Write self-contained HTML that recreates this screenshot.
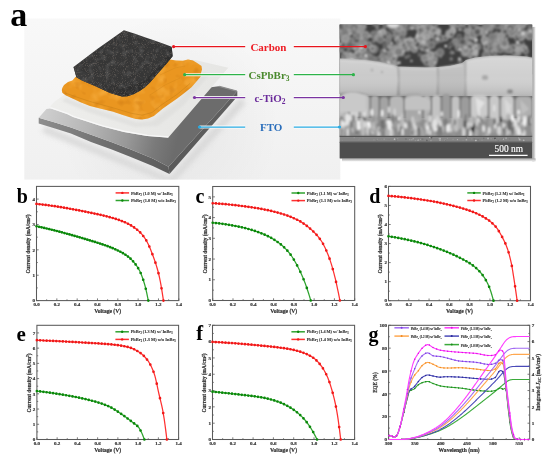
<!DOCTYPE html>
<html><head><meta charset="utf-8"><style>html,body{margin:0;padding:0;background:#fff}svg{display:block;filter:blur(0.3px)}</style></head>
<body><svg width="550" height="460" viewBox="0 0 550 460" font-family="'Liberation Serif', serif" font-weight="bold">
<rect width="550" height="460" fill="#fff"/>
<defs>
<linearGradient id="bg" x1="0" y1="0" x2="0" y2="1"><stop offset="0" stop-color="#f8f8f8"/><stop offset="0.5" stop-color="#f4f4f4"/><stop offset="1" stop-color="#f0f0f0"/></linearGradient><radialGradient id="bgd" gradientUnits="userSpaceOnUse" cx="170" cy="125" r="110"><stop offset="0" stop-color="#000" stop-opacity="0.05"/><stop offset="1" stop-color="#000" stop-opacity="0"/></radialGradient>
<linearGradient id="slabtop" gradientUnits="userSpaceOnUse" x1="40" y1="115" x2="175" y2="150"><stop offset="0" stop-color="#d0d0d0"/><stop offset="0.35" stop-color="#b6b6b6"/><stop offset="0.65" stop-color="#989898"/><stop offset="0.85" stop-color="#7a7a7a"/><stop offset="1" stop-color="#6c6c6c"/></linearGradient>
<linearGradient id="slabtop2" gradientUnits="userSpaceOnUse" x1="170" y1="150" x2="235" y2="90"><stop offset="0" stop-color="#707070"/><stop offset="1" stop-color="#777777"/></linearGradient>
<linearGradient id="slabfront" gradientUnits="userSpaceOnUse" x1="38" y1="120" x2="168" y2="170"><stop offset="0" stop-color="#8e8e8e"/><stop offset="0.5" stop-color="#707070"/><stop offset="1" stop-color="#5c5c5c"/></linearGradient>
<linearGradient id="slabright" gradientUnits="userSpaceOnUse" x1="168" y1="170" x2="237" y2="93"><stop offset="0" stop-color="#5a5a5a"/><stop offset="1" stop-color="#606060"/></linearGradient>
<linearGradient id="white" gradientUnits="userSpaceOnUse" x1="60" y1="90" x2="200" y2="140"><stop offset="0" stop-color="#eeeeec"/><stop offset="0.6" stop-color="#e9e9e7"/><stop offset="1" stop-color="#e6e6e4"/></linearGradient>
<linearGradient id="cfront" gradientUnits="userSpaceOnUse" x1="75" y1="70" x2="125" y2="97"><stop offset="0" stop-color="#3e3e3e"/><stop offset="1" stop-color="#2e2e2e"/></linearGradient>
<filter id="cnoise" x="0" y="0" width="1" height="1" color-interpolation-filters="sRGB"><feTurbulence type="fractalNoise" baseFrequency="1.1" numOctaves="1" seed="3" result="n"/><feColorMatrix in="n" type="matrix" values="0 0 0 0 0.55  0 0 0 0 0.5  0 0 0 0 0.46  5 0 0 0 -2.7" result="m"/><feComposite in="m" in2="SourceGraphic" operator="in"/></filter>
<filter id="cnoise2" x="0" y="0" width="1" height="1" color-interpolation-filters="sRGB"><feTurbulence type="fractalNoise" baseFrequency="0.18" numOctaves="2" seed="9" result="n"/><feColorMatrix in="n" type="matrix" values="0 0 0 0 0.5  0 0 0 0 0.5  0 0 0 0 0.5  1.8 0 0 0 -0.85" result="m"/><feComposite in="m" in2="SourceGraphic" operator="in"/></filter>
<filter id="ohi" x="0" y="0" width="1" height="1" color-interpolation-filters="sRGB"><feTurbulence type="fractalNoise" baseFrequency="0.09" numOctaves="2" seed="5" result="n"/><feColorMatrix in="n" type="matrix" values="0 0 0 0 1  0 0 0 0 0.74  0 0 0 0 0.32  1.3 0 0 0 -0.62" result="m"/><feComposite in="m" in2="SourceGraphic" operator="in"/></filter>
<filter id="olo" x="0" y="0" width="1" height="1" color-interpolation-filters="sRGB"><feTurbulence type="fractalNoise" baseFrequency="0.16" numOctaves="1" seed="8" result="n"/><feColorMatrix in="n" type="matrix" values="0 0 0 0 0.78  0 0 0 0 0.45  0 0 0 0 0.06  -1.4 0 0 0 0.62" result="m"/><feComposite in="m" in2="SourceGraphic" operator="in"/></filter>
<filter id="sb" x="-20%" y="-20%" width="140%" height="140%"><feGaussianBlur stdDeviation="2.5"/></filter>
<filter id="sb1" x="-20%" y="-20%" width="140%" height="140%"><feGaussianBlur stdDeviation="1.2"/></filter>
</defs>
<rect x="24.3" y="18.5" width="316" height="161.1" fill="url(#bg)"/>
<rect x="24.3" y="18.5" width="316" height="161.1" fill="url(#bgd)"/>
<clipPath id="bgclip"><rect x="24.3" y="18.5" width="316" height="161.1"/></clipPath>
<g clip-path="url(#bgclip)"><path d="M45 126 L170 178 L240 98 L246 103 L172 184 L42 132Z" fill="#d6d6d6" filter="url(#sb)" opacity="0.9"/></g>
<path d="M38.7 117.8 L55 122.6 L70.9 127.6 L91 134.8 L111.8 142.3 L132 150 L152.7 158.5 L168.5 166.8 L169.5 174 L152.7 166 L132 157.5 L111.8 149.6 L91 142 L70.9 133.6 L55 128.6 L38.7 123.5Z" fill="url(#slabfront)"/>
<path d="M168.5 166.8 L237.3 90.9 L237.3 96.4 L169.5 174Z" fill="url(#slabright)"/>
<path d="M46.5 109 L218.6 86.3 L237.3 90.9 L168.5 166.8 L152.7 158.5 L132 150 L111.8 142.3 L91 134.8 L70.9 127.6 L55 122.6 L38.7 117.8Z" fill="url(#slabtop)"/>
<path d="M219.2 86.3 L236.8 91.1" stroke="#8c8c8c" stroke-width="1.3"/>
<path d="M54.7 101.6 L64 95 L75 89 L195 60 L228.3 67.8 L168.6 137.3 L168.3 137.6 L147.3 136 L124 131.9 L103.6 126.8 L98.6 125.2 L84.1 120.5 L73.2 117 L67.7 114.2 L50.4 108.2 L50.4 106Z" fill="url(#white)"/>
<path d="M50.4 107.6 L67.7 113.6 L73.2 116.4 L84.1 119.9 L98.6 124.6 L103.6 126.2 L124 131.3 L147.3 135.4 L168.3 137" stroke="#f7f7f7" stroke-width="1.4" fill="none"/>
<path d="M66 98 L92 108 L137 122.5 L152 121 L178 101 L204 72 L210 74 L184 105 L158 126 L135 127 L88 112 L62 101Z" fill="#dcdcda" filter="url(#sb1)" opacity="0.6"/>
<path d="M61.8 90 L62.3 88 L64 85 L68 82 L72.5 80.5 L75.4 77 L100 66 L130 53 L170 59.5 L176 60.5 L183 60.8 L188 59.5 L193 60.5 L197.5 63.2 L201.5 66 L202 69.5 L201 73 L200.5 76.8 L196 82 L191.7 87 L185 92.5 L177.2 98.6 L170 103.5 L162.6 108.8 L158 112.5 L153.9 116.1 L148 118.5 L142.3 119.6 L136 119 L130.6 117.5 L122 114.8 L113.2 111.7 L100 108.5 L89.9 105.9 L80 102 L72.5 98.6 L66 95.5 L62.3 92.8Z" fill="#ea9620"/>
<path d="M61.8 90 L62.3 88 L64 85 L68 82 L72.5 80.5 L75.4 77 L100 66 L130 53 L170 59.5 L176 60.5 L183 60.8 L188 59.5 L193 60.5 L197.5 63.2 L201.5 66 L202 69.5 L201 73 L200.5 76.8 L196 82 L191.7 87 L185 92.5 L177.2 98.6 L170 103.5 L162.6 108.8 L158 112.5 L153.9 116.1 L148 118.5 L142.3 119.6 L136 119 L130.6 117.5 L122 114.8 L113.2 111.7 L100 108.5 L89.9 105.9 L80 102 L72.5 98.6 L66 95.5 L62.3 92.8Z" fill="#fff" filter="url(#ohi)"/>
<path d="M61.8 90 L62.3 88 L64 85 L68 82 L72.5 80.5 L75.4 77 L100 66 L130 53 L170 59.5 L176 60.5 L183 60.8 L188 59.5 L193 60.5 L197.5 63.2 L201.5 66 L202 69.5 L201 73 L200.5 76.8 L196 82 L191.7 87 L185 92.5 L177.2 98.6 L170 103.5 L162.6 108.8 L158 112.5 L153.9 116.1 L148 118.5 L142.3 119.6 L136 119 L130.6 117.5 L122 114.8 L113.2 111.7 L100 108.5 L89.9 105.9 L80 102 L72.5 98.6 L66 95.5 L62.3 92.8Z" fill="#fff" filter="url(#olo)"/>
<path d="M65 93 L78 97.5 L90 101.5 L113 107.8 L131 113.2 L142 115.2 L152 112.5 L162 104.5 L177 94.5 L190 83.5" stroke="#c27c14" stroke-width="0.8" fill="none" opacity="0.55"/>
<path d="M160 75 L175 68 L185 66 M150 95 L165 85 L180 78" stroke="#c27c14" stroke-width="0.7" fill="none" opacity="0.35"/>
<path d="M73.5 66.9 L98 48.5 L123.9 30.2 L135 33.8 L144.8 37.2 L153 40 L162.2 43.3 L171.7 46.7 L172.6 56.3 L167.5 62.5 L162.2 68.5 L156 75.5 L150 82.4 L145 87.2 L139.6 91.1 L133.5 94.2 L127.4 96.3 L122 96.6 L110 93 L95 86 L82 80.5 L76.4 77.2Z" fill="#363636"/>
<path d="M73.5 66.9 L76.4 77.2 L82 80.5 L95 86 L110 93 L122 96.6 L127.4 96.3 L133.5 94.2 L139.6 91.1 L145 87.2 L150 82.4 L156 75.5 L162.2 68.5 L167.5 62.5 L172.6 56.3 L171.7 46.7 L166 57 L155 71 L143 82 L125 88 L110 84 L95 77 L82 71Z" fill="url(#cfront)"/>
<path d="M73.5 66.9 L98 48.5 L123.9 30.2 L135 33.8 L144.8 37.2 L153 40 L162.2 43.3 L171.7 46.7 L172.6 56.3 L167.5 62.5 L162.2 68.5 L156 75.5 L150 82.4 L145 87.2 L139.6 91.1 L133.5 94.2 L127.4 96.3 L122 96.6 L110 93 L95 86 L82 80.5 L76.4 77.2Z" fill="#000" filter="url(#cnoise2)" opacity="0.5"/>
<path d="M73.5 66.9 L98 48.5 L123.9 30.2 L135 33.8 L144.8 37.2 L153 40 L162.2 43.3 L171.7 46.7 L172.6 56.3 L167.5 62.5 L162.2 68.5 L156 75.5 L150 82.4 L145 87.2 L139.6 91.1 L133.5 94.2 L127.4 96.3 L122 96.6 L110 93 L95 86 L82 80.5 L76.4 77.2Z" fill="#000" filter="url(#cnoise)" opacity="0.38"/>
<defs><clipPath id="semclip"><rect x="339.5" y="24.4" width="192.89999999999998" height="134.1"/></clipPath>
<filter id="bl05" x="-5%" y="-5%" width="110%" height="110%"><feGaussianBlur stdDeviation="0.5"/></filter>
<filter id="bl08" x="-5%" y="-5%" width="110%" height="110%"><feGaussianBlur stdDeviation="0.8"/></filter>
<filter id="bl15" x="-10%" y="-10%" width="120%" height="120%"><feGaussianBlur stdDeviation="1.5"/></filter>
<linearGradient id="shR" x1="0" y1="0" x2="1" y2="0"><stop offset="0" stop-color="#9a9a9a"/><stop offset="1" stop-color="#f0f0f0"/></linearGradient>
<linearGradient id="shB" x1="0" y1="0" x2="0" y2="1"><stop offset="0" stop-color="#a8a8a8"/><stop offset="1" stop-color="#f2f2f2"/></linearGradient>
</defs>
<rect x="532.4" y="26.9" width="3.2" height="134.6" fill="url(#shR)"/>
<rect x="342" y="158.5" width="193.6" height="3" fill="url(#shB)"/>
<g clip-path="url(#semclip)">
<rect x="339.5" y="24.4" width="192.9" height="134.1" fill="#8a8a8a"/>
<rect x="339.5" y="24.4" width="192.9" height="50" fill="#3e3e3e"/>
<g filter="url(#bl08)"><circle cx="360.22" cy="37.53" r="2.19" fill="#949494" stroke="#a9a9a9" stroke-width="0.7"/><circle cx="354.13" cy="48.01" r="1.95" fill="#a6a6a6" stroke="#acacac" stroke-width="0.7"/><circle cx="359.02" cy="36.88" r="1.99" fill="#afafaf" stroke="#a0a0a0" stroke-width="0.7"/><circle cx="358.09" cy="45.05" r="3.13" fill="#767676" stroke="#a7a7a7" stroke-width="0.7"/><circle cx="362.29" cy="47.05" r="2.11" fill="#8e8e8e" stroke="#a6a6a6" stroke-width="0.7"/><circle cx="362.97" cy="34.12" r="2.01" fill="#8b8b8b" stroke="#a3a3a3" stroke-width="0.7"/><circle cx="364.23" cy="44.84" r="1.96" fill="#8c8c8c" stroke="#bababa" stroke-width="0.7"/><circle cx="455.78" cy="19.83" r="1.92" fill="#727272" stroke="#9c9c9c" stroke-width="0.7"/><circle cx="453.6" cy="22.25" r="2.44" fill="#757575" stroke="#919191" stroke-width="0.7"/><circle cx="455.98" cy="23.52" r="2.99" fill="#878787" stroke="#a2a2a2" stroke-width="0.7"/><circle cx="452.72" cy="30.66" r="3.29" fill="#a0a0a0" stroke="#c9c9c9" stroke-width="0.7"/><circle cx="452.25" cy="24.16" r="2.8" fill="#878787" stroke="#b3b3b3" stroke-width="0.7"/><circle cx="457.35" cy="23.32" r="4.15" fill="#787878" stroke="#a1a1a1" stroke-width="0.7"/><circle cx="456.97" cy="20.75" r="3.72" fill="#8c8c8c" stroke="#b0b0b0" stroke-width="0.7"/><circle cx="457.92" cy="22.99" r="2.52" fill="#787878" stroke="#a5a5a5" stroke-width="0.7"/><circle cx="458.28" cy="22.68" r="3.46" fill="#616161" stroke="#b8b8b8" stroke-width="0.7"/><circle cx="452.53" cy="19.69" r="3.16" fill="#707070" stroke="#b0b0b0" stroke-width="0.7"/><circle cx="359.87" cy="57.56" r="2.99" fill="#7c7c7c" stroke="#9b9b9b" stroke-width="0.7"/><circle cx="365.26" cy="54.72" r="2.02" fill="#5d5d5d" stroke="#b2b2b2" stroke-width="0.7"/><circle cx="367.94" cy="55.14" r="2.13" fill="#8f8f8f" stroke="#b2b2b2" stroke-width="0.7"/><circle cx="366.52" cy="64.74" r="3.03" fill="#828282" stroke="#aaaaaa" stroke-width="0.7"/><circle cx="368.38" cy="57.18" r="4.14" fill="#717171" stroke="#9c9c9c" stroke-width="0.7"/><circle cx="367.04" cy="67.71" r="2.8" fill="#717171" stroke="#b5b5b5" stroke-width="0.7"/><circle cx="362.95" cy="60.45" r="2.41" fill="#4d4d4d" stroke="#aeaeae" stroke-width="0.7"/><circle cx="360.07" cy="58.15" r="3.57" fill="#5d5d5d" stroke="#9e9e9e" stroke-width="0.7"/><circle cx="369.35" cy="67.61" r="3.02" fill="#919191" stroke="#a8a8a8" stroke-width="0.7"/><circle cx="355.66" cy="61.54" r="3.57" fill="#737373" stroke="#b0b0b0" stroke-width="0.7"/><circle cx="368.08" cy="57.49" r="3.9" fill="#898989" stroke="#979797" stroke-width="0.7"/><circle cx="348.54" cy="26.08" r="2.78" fill="#8f8f8f" stroke="#c4c4c4" stroke-width="0.7"/><circle cx="347.56" cy="29.72" r="2.01" fill="#8a8a8a" stroke="#bababa" stroke-width="0.7"/><circle cx="347.7" cy="29.89" r="2.08" fill="#8c8c8c" stroke="#a3a3a3" stroke-width="0.7"/><circle cx="352.69" cy="31.98" r="2.24" fill="#707070" stroke="#c1c1c1" stroke-width="0.7"/><circle cx="343.4" cy="28.94" r="3.01" fill="#646464" stroke="#bdbdbd" stroke-width="0.7"/><circle cx="351.39" cy="22.26" r="2.18" fill="#737373" stroke="#919191" stroke-width="0.7"/><circle cx="346.2" cy="27.98" r="3.23" fill="#7f7f7f" stroke="#acacac" stroke-width="0.7"/><circle cx="352" cy="26.08" r="3.2" fill="#7e7e7e" stroke="#b0b0b0" stroke-width="0.7"/><circle cx="352.35" cy="22.7" r="3.72" fill="#9a9a9a" stroke="#b0b0b0" stroke-width="0.7"/><circle cx="348.23" cy="28.29" r="1.9" fill="#818181" stroke="#a2a2a2" stroke-width="0.7"/><circle cx="518.13" cy="53.22" r="2.85" fill="#5c5c5c" stroke="#a8a8a8" stroke-width="0.7"/><circle cx="524.16" cy="48.5" r="3.22" fill="#838383" stroke="#dedede" stroke-width="0.7"/><circle cx="519.63" cy="49.24" r="1.84" fill="#7f7f7f" stroke="#929292" stroke-width="0.7"/><circle cx="520.26" cy="49.73" r="2.11" fill="#9c9c9c" stroke="#a2a2a2" stroke-width="0.7"/><circle cx="526.89" cy="59.54" r="2.24" fill="#696969" stroke="#ababab" stroke-width="0.7"/><circle cx="525.8" cy="51.27" r="2.73" fill="#6c6c6c" stroke="#aeaeae" stroke-width="0.7"/><circle cx="422.82" cy="48.27" r="2.65" fill="#797979" stroke="#9f9f9f" stroke-width="0.7"/><circle cx="412.74" cy="42.49" r="3.59" fill="#8e8e8e" stroke="#b8b8b8" stroke-width="0.7"/><circle cx="410.56" cy="43.02" r="1.84" fill="#959595" stroke="#b3b3b3" stroke-width="0.7"/><circle cx="407.88" cy="48.29" r="3.03" fill="#7a7a7a" stroke="#a0a0a0" stroke-width="0.7"/><circle cx="406.8" cy="40.64" r="2.4" fill="#a4a4a4" stroke="#bababa" stroke-width="0.7"/><circle cx="412.46" cy="42.33" r="3.79" fill="#848484" stroke="#b1b1b1" stroke-width="0.7"/><circle cx="467.5" cy="35.26" r="2.09" fill="#a0a0a0" stroke="#bfbfbf" stroke-width="0.7"/><circle cx="462.86" cy="24.34" r="2.54" fill="#7c7c7c" stroke="#b9b9b9" stroke-width="0.7"/><circle cx="468.04" cy="34.01" r="2.34" fill="#848484" stroke="#a5a5a5" stroke-width="0.7"/><circle cx="470.42" cy="34.97" r="3.92" fill="#828282" stroke="#ababab" stroke-width="0.7"/><circle cx="472.46" cy="35.14" r="3.27" fill="#707070" stroke="#c4c4c4" stroke-width="0.7"/><circle cx="468.16" cy="37.1" r="3.95" fill="#707070" stroke="#a1a1a1" stroke-width="0.7"/><circle cx="469.27" cy="34.15" r="3.47" fill="#626262" stroke="#a3a3a3" stroke-width="0.7"/><circle cx="468.19" cy="39.53" r="3.18" fill="#848484" stroke="#a4a4a4" stroke-width="0.7"/><circle cx="470.82" cy="31.16" r="2.73" fill="#9b9b9b" stroke="#b0b0b0" stroke-width="0.7"/><circle cx="365.38" cy="56.46" r="2.02" fill="#868686" stroke="#a9a9a9" stroke-width="0.7"/><circle cx="359.16" cy="54.82" r="2.17" fill="#8b8b8b" stroke="#ababab" stroke-width="0.7"/><circle cx="360.57" cy="60.79" r="3.13" fill="#959595" stroke="#b4b4b4" stroke-width="0.7"/><circle cx="362.67" cy="53.29" r="3.34" fill="#8e8e8e" stroke="#adadad" stroke-width="0.7"/><circle cx="355.8" cy="54.81" r="2.69" fill="#7f7f7f" stroke="#9b9b9b" stroke-width="0.7"/><circle cx="356.9" cy="55.44" r="2.41" fill="#5a5a5a" stroke="#b6b6b6" stroke-width="0.7"/><circle cx="374.03" cy="49.04" r="4.15" fill="#6e6e6e" stroke="#a5a5a5" stroke-width="0.7"/><circle cx="462.95" cy="48.42" r="3.53" fill="#6c6c6c" stroke="#a8a8a8" stroke-width="0.7"/><circle cx="462.59" cy="41.84" r="3.42" fill="#595959" stroke="#a5a5a5" stroke-width="0.7"/><circle cx="470.91" cy="47.42" r="4.17" fill="#727272" stroke="#a1a1a1" stroke-width="0.7"/><circle cx="472.43" cy="41.77" r="2.35" fill="#919191" stroke="#c3c3c3" stroke-width="0.7"/><circle cx="471.5" cy="42.46" r="4.04" fill="#565656" stroke="#ababab" stroke-width="0.7"/><circle cx="464.87" cy="52.79" r="3.73" fill="#7e7e7e" stroke="#a9a9a9" stroke-width="0.7"/><circle cx="457.6" cy="46.08" r="2.33" fill="#6d6d6d" stroke="#b5b5b5" stroke-width="0.7"/><circle cx="473.79" cy="37.03" r="2.58" fill="#979797" stroke="#afafaf" stroke-width="0.7"/><circle cx="469.86" cy="46.38" r="3.88" fill="#7d7d7d" stroke="#bababa" stroke-width="0.7"/><circle cx="493.37" cy="48.76" r="4.01" fill="#525252" stroke="#aaaaaa" stroke-width="0.7"/><circle cx="494.72" cy="46.07" r="2.4" fill="#919191" stroke="#a1a1a1" stroke-width="0.7"/><circle cx="501.36" cy="42.41" r="3.97" fill="#939393" stroke="#afafaf" stroke-width="0.7"/><circle cx="497.61" cy="39.78" r="4.15" fill="#8a8a8a" stroke="#a7a7a7" stroke-width="0.7"/><circle cx="500.8" cy="40.67" r="3.46" fill="#6b6b6b" stroke="#b0b0b0" stroke-width="0.7"/><circle cx="501.06" cy="41.81" r="3.41" fill="#8b8b8b" stroke="#aeaeae" stroke-width="0.7"/><circle cx="504.77" cy="43.64" r="3.95" fill="#858585" stroke="#ababab" stroke-width="0.7"/><circle cx="503.55" cy="39.78" r="3.51" fill="#6c6c6c" stroke="#a9a9a9" stroke-width="0.7"/><circle cx="492.69" cy="47.19" r="4.09" fill="#919191" stroke="#b7b7b7" stroke-width="0.7"/><circle cx="491.8" cy="41.66" r="2.95" fill="#696969" stroke="#bbbbbb" stroke-width="0.7"/><circle cx="532.44" cy="32.06" r="2.06" fill="#696969" stroke="#9f9f9f" stroke-width="0.7"/><circle cx="535.05" cy="31.48" r="4.02" fill="#919191" stroke="#989898" stroke-width="0.7"/><circle cx="529.76" cy="30.7" r="2.37" fill="#717171" stroke="#bababa" stroke-width="0.7"/><circle cx="538.08" cy="34.42" r="3.61" fill="#777777" stroke="#bbbbbb" stroke-width="0.7"/><circle cx="530.7" cy="31.47" r="3.84" fill="#747474" stroke="#a3a3a3" stroke-width="0.7"/><circle cx="532.52" cy="32.51" r="1.84" fill="#7f7f7f" stroke="#b3b3b3" stroke-width="0.7"/><circle cx="438.75" cy="38.57" r="3.33" fill="#696969" stroke="#999999" stroke-width="0.7"/><circle cx="440.71" cy="38.33" r="3.62" fill="#676767" stroke="#afafaf" stroke-width="0.7"/><circle cx="455.23" cy="41.41" r="3.15" fill="#818181" stroke="#9c9c9c" stroke-width="0.7"/><circle cx="445.46" cy="38.08" r="2.63" fill="#646464" stroke="#bebebe" stroke-width="0.7"/><circle cx="449.64" cy="33.91" r="4.07" fill="#9b9b9b" stroke="#a0a0a0" stroke-width="0.7"/><circle cx="451.67" cy="34.81" r="2.19" fill="#5a5a5a" stroke="#b2b2b2" stroke-width="0.7"/><circle cx="437.8" cy="31.47" r="3.35" fill="#a9a9a9" stroke="#a3a3a3" stroke-width="0.7"/><circle cx="407.03" cy="45.31" r="2.95" fill="#9c9c9c" stroke="#9a9a9a" stroke-width="0.7"/><circle cx="409.29" cy="47.98" r="1.96" fill="#9c9c9c" stroke="#c7c7c7" stroke-width="0.7"/><circle cx="401.71" cy="53.55" r="2.41" fill="#787878" stroke="#c1c1c1" stroke-width="0.7"/><circle cx="407.61" cy="47.89" r="2.07" fill="#959595" stroke="#b8b8b8" stroke-width="0.7"/><circle cx="399.47" cy="40.31" r="4.15" fill="#696969" stroke="#aeaeae" stroke-width="0.7"/><circle cx="401.1" cy="45.87" r="3.25" fill="#9c9c9c" stroke="#9d9d9d" stroke-width="0.7"/><circle cx="405.86" cy="45.85" r="3.85" fill="#5f5f5f" stroke="#ababab" stroke-width="0.7"/><circle cx="405.43" cy="48.72" r="2.22" fill="#727272" stroke="#afafaf" stroke-width="0.7"/><circle cx="380.9" cy="57.45" r="2.43" fill="#6e6e6e" stroke="#ababab" stroke-width="0.7"/><circle cx="384.59" cy="64.64" r="3.1" fill="#828282" stroke="#c0c0c0" stroke-width="0.7"/><circle cx="372.38" cy="48.6" r="2.95" fill="#797979" stroke="#cecece" stroke-width="0.7"/><circle cx="384.73" cy="60.41" r="4.13" fill="#9c9c9c" stroke="#898989" stroke-width="0.7"/><circle cx="371.2" cy="59.65" r="2.46" fill="#626262" stroke="#bbbbbb" stroke-width="0.7"/><circle cx="375.08" cy="60.11" r="3.55" fill="#6c6c6c" stroke="#9c9c9c" stroke-width="0.7"/><circle cx="504.27" cy="30.33" r="1.92" fill="#8c8c8c" stroke="#adadad" stroke-width="0.7"/><circle cx="507.58" cy="23.3" r="2.44" fill="#565656" stroke="#a8a8a8" stroke-width="0.7"/><circle cx="507.77" cy="29.6" r="2.87" fill="#9e9e9e" stroke="#a7a7a7" stroke-width="0.7"/><circle cx="504.06" cy="32.43" r="3.25" fill="#787878" stroke="#9f9f9f" stroke-width="0.7"/><circle cx="509.83" cy="24.12" r="3.99" fill="#9b9b9b" stroke="#b1b1b1" stroke-width="0.7"/><circle cx="510.47" cy="28.27" r="3.64" fill="#8c8c8c" stroke="#b8b8b8" stroke-width="0.7"/><circle cx="507.9" cy="27.31" r="2.39" fill="#848484" stroke="#a9a9a9" stroke-width="0.7"/><circle cx="520" cy="26.92" r="1.98" fill="#898989" stroke="#9f9f9f" stroke-width="0.7"/><circle cx="426.85" cy="34.51" r="3.65" fill="#6c6c6c" stroke="#a4a4a4" stroke-width="0.7"/><circle cx="426.37" cy="37.87" r="2.09" fill="#707070" stroke="#c8c8c8" stroke-width="0.7"/><circle cx="426.57" cy="39.16" r="3.2" fill="#787878" stroke="#989898" stroke-width="0.7"/><circle cx="431.6" cy="35.9" r="2.39" fill="#7d7d7d" stroke="#bcbcbc" stroke-width="0.7"/><circle cx="436.29" cy="28.99" r="2.03" fill="#7f7f7f" stroke="#a4a4a4" stroke-width="0.7"/><circle cx="427.74" cy="40.72" r="1.96" fill="#585858" stroke="#adadad" stroke-width="0.7"/><circle cx="428.64" cy="32.5" r="3.58" fill="#5e5e5e" stroke="#b8b8b8" stroke-width="0.7"/><circle cx="424.64" cy="31.73" r="2.88" fill="#6d6d6d" stroke="#b6b6b6" stroke-width="0.7"/><circle cx="431.25" cy="30.51" r="3.17" fill="#727272" stroke="#b9b9b9" stroke-width="0.7"/><circle cx="429.96" cy="34.14" r="3.11" fill="#767676" stroke="#afafaf" stroke-width="0.7"/><circle cx="420.12" cy="39.65" r="2.36" fill="#707070" stroke="#bebebe" stroke-width="0.7"/><circle cx="352.41" cy="57.23" r="2.61" fill="#7f7f7f" stroke="#bcbcbc" stroke-width="0.7"/><circle cx="347.7" cy="65.02" r="2.31" fill="#6d6d6d" stroke="#b3b3b3" stroke-width="0.7"/><circle cx="352.2" cy="62.33" r="1.95" fill="#676767" stroke="#919191" stroke-width="0.7"/><circle cx="346.18" cy="55.26" r="2.88" fill="#828282" stroke="#a2a2a2" stroke-width="0.7"/><circle cx="342.26" cy="69.5" r="2.33" fill="#626262" stroke="#bdbdbd" stroke-width="0.7"/><circle cx="358.03" cy="54.96" r="3.21" fill="#676767" stroke="#bbbbbb" stroke-width="0.7"/><circle cx="350.64" cy="56.33" r="2.41" fill="#949494" stroke="#989898" stroke-width="0.7"/><circle cx="350.28" cy="54.03" r="2.04" fill="#a0a0a0" stroke="#b9b9b9" stroke-width="0.7"/><circle cx="421.21" cy="30.33" r="3.3" fill="#818181" stroke="#999999" stroke-width="0.7"/><circle cx="415.25" cy="24.87" r="3.43" fill="#878787" stroke="#b5b5b5" stroke-width="0.7"/><circle cx="423.19" cy="23.91" r="3.15" fill="#797979" stroke="#bcbcbc" stroke-width="0.7"/><circle cx="417.29" cy="16.64" r="3.07" fill="#a7a7a7" stroke="#b2b2b2" stroke-width="0.7"/><circle cx="420.91" cy="31.23" r="3.69" fill="#858585" stroke="#a4a4a4" stroke-width="0.7"/><circle cx="422.26" cy="28.5" r="2.78" fill="#656565" stroke="#adadad" stroke-width="0.7"/><circle cx="426.72" cy="30.28" r="2.45" fill="#868686" stroke="#d0d0d0" stroke-width="0.7"/><circle cx="423.18" cy="31.86" r="2.95" fill="#7d7d7d" stroke="#afafaf" stroke-width="0.7"/><circle cx="427.1" cy="34.44" r="3.43" fill="#838383" stroke="#adadad" stroke-width="0.7"/><circle cx="476.37" cy="29" r="3.56" fill="#797979" stroke="#939393" stroke-width="0.7"/><circle cx="465.76" cy="30.1" r="2.32" fill="#919191" stroke="#979797" stroke-width="0.7"/><circle cx="472.12" cy="32.27" r="4.2" fill="#8e8e8e" stroke="#afafaf" stroke-width="0.7"/><circle cx="471.22" cy="29.81" r="2.4" fill="#909090" stroke="#a2a2a2" stroke-width="0.7"/><circle cx="473.43" cy="29.68" r="3.97" fill="#767676" stroke="#cacaca" stroke-width="0.7"/><circle cx="467.54" cy="31.07" r="2.18" fill="#888888" stroke="#b2b2b2" stroke-width="0.7"/><circle cx="472.96" cy="33.99" r="3.6" fill="#7c7c7c" stroke="#9a9a9a" stroke-width="0.7"/><circle cx="472" cy="25.33" r="3.74" fill="#7b7b7b" stroke="#bfbfbf" stroke-width="0.7"/><circle cx="519.55" cy="31.89" r="2.62" fill="#696969" stroke="#8e8e8e" stroke-width="0.7"/><circle cx="514.54" cy="29.59" r="1.96" fill="#a7a7a7" stroke="#999999" stroke-width="0.7"/><circle cx="529.05" cy="36.96" r="2.62" fill="#838383" stroke="#cecece" stroke-width="0.7"/><circle cx="517.07" cy="28.81" r="3.02" fill="#606060" stroke="#b2b2b2" stroke-width="0.7"/><circle cx="516.12" cy="32.03" r="1.87" fill="#676767" stroke="#bebebe" stroke-width="0.7"/><circle cx="511.59" cy="34.26" r="3.55" fill="#838383" stroke="#a0a0a0" stroke-width="0.7"/><circle cx="516.88" cy="28.1" r="2.97" fill="#666666" stroke="#adadad" stroke-width="0.7"/><circle cx="519.79" cy="24.83" r="3.57" fill="#6a6a6a" stroke="#a9a9a9" stroke-width="0.7"/><circle cx="513.51" cy="27.47" r="2.65" fill="#8f8f8f" stroke="#b6b6b6" stroke-width="0.7"/><circle cx="511.98" cy="31.02" r="3.92" fill="#5f5f5f" stroke="#b8b8b8" stroke-width="0.7"/><circle cx="345.59" cy="28.07" r="2.27" fill="#8b8b8b" stroke="#b8b8b8" stroke-width="0.7"/><circle cx="348.22" cy="32.89" r="2.9" fill="#747474" stroke="#bababa" stroke-width="0.7"/><circle cx="338.38" cy="30.16" r="2.48" fill="#999999" stroke="#bebebe" stroke-width="0.7"/><circle cx="346.71" cy="29.26" r="2.59" fill="#868686" stroke="#a9a9a9" stroke-width="0.7"/><circle cx="349" cy="31.99" r="2.66" fill="#959595" stroke="#a8a8a8" stroke-width="0.7"/><circle cx="345.18" cy="23.91" r="3.6" fill="#696969" stroke="#9e9e9e" stroke-width="0.7"/><circle cx="332.65" cy="38.57" r="1.84" fill="#808080" stroke="#bbbbbb" stroke-width="0.7"/><circle cx="341.59" cy="32.05" r="3.8" fill="#808080" stroke="#a6a6a6" stroke-width="0.7"/><circle cx="344.69" cy="30.71" r="3.78" fill="#575757" stroke="#9d9d9d" stroke-width="0.7"/><circle cx="408.69" cy="43.11" r="2.77" fill="#535353" stroke="#868686" stroke-width="0.7"/><circle cx="401.88" cy="40.07" r="2.79" fill="#838383" stroke="#a9a9a9" stroke-width="0.7"/><circle cx="399.06" cy="37.88" r="2.74" fill="#7d7d7d" stroke="#ababab" stroke-width="0.7"/><circle cx="416.32" cy="40.34" r="2.72" fill="#686868" stroke="#a7a7a7" stroke-width="0.7"/><circle cx="407.6" cy="43.65" r="2.44" fill="#838383" stroke="#acacac" stroke-width="0.7"/><circle cx="395.56" cy="28.28" r="3.84" fill="#8c8c8c" stroke="#ababab" stroke-width="0.7"/><circle cx="396.27" cy="36.27" r="2.83" fill="#444444" stroke="#a7a7a7" stroke-width="0.7"/><circle cx="409.3" cy="41.95" r="3.75" fill="#797979" stroke="#cdcdcd" stroke-width="0.7"/><circle cx="399.82" cy="35.93" r="2.46" fill="#989898" stroke="#ababab" stroke-width="0.7"/><circle cx="410.21" cy="39.25" r="2.07" fill="#979797" stroke="#c1c1c1" stroke-width="0.7"/><circle cx="515.35" cy="46.49" r="2.37" fill="#777777" stroke="#b4b4b4" stroke-width="0.7"/><circle cx="520.09" cy="45.37" r="1.88" fill="#7c7c7c" stroke="#adadad" stroke-width="0.7"/><circle cx="517.42" cy="50.3" r="4.05" fill="#7e7e7e" stroke="#afafaf" stroke-width="0.7"/><circle cx="514.09" cy="52.69" r="2.72" fill="#515151" stroke="#b2b2b2" stroke-width="0.7"/><circle cx="516.22" cy="54.81" r="1.85" fill="#7a7a7a" stroke="#aeaeae" stroke-width="0.7"/><circle cx="517.48" cy="49.32" r="3.25" fill="#a0a0a0" stroke="#959595" stroke-width="0.7"/><circle cx="401.96" cy="24.73" r="1.88" fill="#878787" stroke="#b6b6b6" stroke-width="0.7"/><circle cx="409.99" cy="23.31" r="2.37" fill="#676767" stroke="#afafaf" stroke-width="0.7"/><circle cx="401.87" cy="19.94" r="3.63" fill="#999999" stroke="#a2a2a2" stroke-width="0.7"/><circle cx="400.11" cy="25.02" r="3.13" fill="#a3a3a3" stroke="#bababa" stroke-width="0.7"/><circle cx="404.82" cy="20.8" r="1.84" fill="#787878" stroke="#989898" stroke-width="0.7"/><circle cx="403.71" cy="21.42" r="4" fill="#737373" stroke="#c3c3c3" stroke-width="0.7"/><circle cx="407.15" cy="25.87" r="4.06" fill="#676767" stroke="#a8a8a8" stroke-width="0.7"/><circle cx="404.89" cy="20.74" r="3.63" fill="#8f8f8f" stroke="#b0b0b0" stroke-width="0.7"/><circle cx="398.75" cy="20.41" r="3.45" fill="#7f7f7f" stroke="#9b9b9b" stroke-width="0.7"/><circle cx="402.78" cy="24.89" r="3.91" fill="#696969" stroke="#a3a3a3" stroke-width="0.7"/><circle cx="404.29" cy="24.05" r="2.8" fill="#797979" stroke="#999999" stroke-width="0.7"/><circle cx="369.1" cy="65.47" r="3.36" fill="#676767" stroke="#a7a7a7" stroke-width="0.7"/><circle cx="368.89" cy="67.98" r="2.75" fill="#3d3d3d" stroke="#a8a8a8" stroke-width="0.7"/><circle cx="369.37" cy="69.02" r="3.68" fill="#adadad" stroke="#bfbfbf" stroke-width="0.7"/><circle cx="374.35" cy="67.62" r="3.58" fill="#8c8c8c" stroke="#b4b4b4" stroke-width="0.7"/><circle cx="364.98" cy="66.19" r="2.37" fill="#727272" stroke="#aaaaaa" stroke-width="0.7"/><circle cx="366.29" cy="64.77" r="3.72" fill="#868686" stroke="#919191" stroke-width="0.7"/><circle cx="366.2" cy="57.11" r="2.82" fill="#868686" stroke="#acacac" stroke-width="0.7"/><circle cx="367.06" cy="64.12" r="3.3" fill="#656565" stroke="#b8b8b8" stroke-width="0.7"/><circle cx="360.05" cy="61.98" r="3.93" fill="#6a6a6a" stroke="#aeaeae" stroke-width="0.7"/><circle cx="371.25" cy="59.07" r="3.92" fill="#747474" stroke="#909090" stroke-width="0.7"/><circle cx="426.92" cy="47.65" r="3.49" fill="#6a6a6a" stroke="#c3c3c3" stroke-width="0.7"/><circle cx="425.19" cy="58.59" r="4.14" fill="#858585" stroke="#b7b7b7" stroke-width="0.7"/><circle cx="432.37" cy="56.45" r="3.25" fill="#757575" stroke="#9a9a9a" stroke-width="0.7"/><circle cx="414.5" cy="49.29" r="3.23" fill="#838383" stroke="#adadad" stroke-width="0.7"/><circle cx="426.11" cy="48.28" r="3.35" fill="#838383" stroke="#939393" stroke-width="0.7"/><circle cx="431.5" cy="45" r="3.65" fill="#6f6f6f" stroke="#a6a6a6" stroke-width="0.7"/><circle cx="422.62" cy="46.22" r="3.63" fill="#666666" stroke="#cecece" stroke-width="0.7"/><circle cx="425.75" cy="48.19" r="2.78" fill="#666666" stroke="#898989" stroke-width="0.7"/><circle cx="348" cy="16.81" r="2.4" fill="#636363" stroke="#ababab" stroke-width="0.7"/><circle cx="348.24" cy="24.76" r="3.74" fill="#6d6d6d" stroke="#b8b8b8" stroke-width="0.7"/><circle cx="344.2" cy="24.22" r="3.58" fill="#757575" stroke="#999999" stroke-width="0.7"/><circle cx="349.51" cy="18.35" r="1.88" fill="#656565" stroke="#b7b7b7" stroke-width="0.7"/><circle cx="345.62" cy="13.82" r="3.41" fill="#a5a5a5" stroke="#c5c5c5" stroke-width="0.7"/><circle cx="343.6" cy="23.12" r="3.2" fill="#8d8d8d" stroke="#acacac" stroke-width="0.7"/><circle cx="340.96" cy="25.83" r="4.03" fill="#616161" stroke="#a6a6a6" stroke-width="0.7"/><circle cx="347.77" cy="22.8" r="2.99" fill="#6a6a6a" stroke="#b3b3b3" stroke-width="0.7"/><circle cx="350.41" cy="24.97" r="2.15" fill="#606060" stroke="#b4b4b4" stroke-width="0.7"/><circle cx="353.43" cy="30.71" r="2.42" fill="#7b7b7b" stroke="#c0c0c0" stroke-width="0.7"/><circle cx="512.57" cy="47.76" r="3.45" fill="#6c6c6c" stroke="#b3b3b3" stroke-width="0.7"/><circle cx="501.24" cy="45.81" r="3.32" fill="#727272" stroke="#8e8e8e" stroke-width="0.7"/><circle cx="501.24" cy="47.72" r="2.11" fill="#737373" stroke="#b1b1b1" stroke-width="0.7"/><circle cx="508.81" cy="49.78" r="3.42" fill="#7c7c7c" stroke="#a7a7a7" stroke-width="0.7"/><circle cx="500.97" cy="40.39" r="1.83" fill="#6a6a6a" stroke="#c9c9c9" stroke-width="0.7"/><circle cx="504.86" cy="45.48" r="3.98" fill="#a1a1a1" stroke="#9e9e9e" stroke-width="0.7"/><circle cx="504.55" cy="43.3" r="3.66" fill="#7a7a7a" stroke="#bbbbbb" stroke-width="0.7"/><circle cx="498.27" cy="46.29" r="2.34" fill="#717171" stroke="#a9a9a9" stroke-width="0.7"/><circle cx="500.92" cy="35.9" r="3.33" fill="#939393" stroke="#a5a5a5" stroke-width="0.7"/><circle cx="398.77" cy="35.17" r="3.8" fill="#8d8d8d" stroke="#a7a7a7" stroke-width="0.7"/><circle cx="399.43" cy="27.66" r="2.86" fill="#7f7f7f" stroke="#bababa" stroke-width="0.7"/><circle cx="402.75" cy="33.7" r="3.62" fill="#6a6a6a" stroke="#8e8e8e" stroke-width="0.7"/><circle cx="396.77" cy="35.47" r="2" fill="#898989" stroke="#adadad" stroke-width="0.7"/><circle cx="399.7" cy="31.77" r="2.35" fill="#8b8b8b" stroke="#b4b4b4" stroke-width="0.7"/><circle cx="396.89" cy="33.17" r="3.71" fill="#787878" stroke="#a4a4a4" stroke-width="0.7"/><circle cx="387.38" cy="37.99" r="4.11" fill="#757575" stroke="#a7a7a7" stroke-width="0.7"/><circle cx="398.74" cy="28.4" r="2.94" fill="#888888" stroke="#b6b6b6" stroke-width="0.7"/><circle cx="403.78" cy="31.67" r="2.36" fill="#828282" stroke="#bebebe" stroke-width="0.7"/><circle cx="403.28" cy="32.74" r="2.75" fill="#818181" stroke="#929292" stroke-width="0.7"/><circle cx="350.06" cy="26.18" r="3.89" fill="#6e6e6e" stroke="#c1c1c1" stroke-width="0.7"/><circle cx="353.47" cy="22.03" r="3.27" fill="#686868" stroke="#b4b4b4" stroke-width="0.7"/><circle cx="361.96" cy="26.62" r="4.19" fill="#909090" stroke="#acacac" stroke-width="0.7"/><circle cx="347.29" cy="24.43" r="1.86" fill="#8f8f8f" stroke="#a7a7a7" stroke-width="0.7"/><circle cx="356.7" cy="35.37" r="2.96" fill="#989898" stroke="#bdbdbd" stroke-width="0.7"/><circle cx="345.39" cy="33.65" r="3.97" fill="#797979" stroke="#9c9c9c" stroke-width="0.7"/><circle cx="345.48" cy="24.31" r="2.4" fill="#646464" stroke="#a0a0a0" stroke-width="0.7"/><circle cx="350.34" cy="31.42" r="1.87" fill="#797979" stroke="#bebebe" stroke-width="0.7"/><circle cx="351.82" cy="31.15" r="1.93" fill="#828282" stroke="#adadad" stroke-width="0.7"/><circle cx="354.3" cy="26.89" r="4.12" fill="#767676" stroke="#a5a5a5" stroke-width="0.7"/><circle cx="358.59" cy="32.39" r="3.5" fill="#888888" stroke="#a5a5a5" stroke-width="0.7"/><circle cx="338.03" cy="51.26" r="2.33" fill="#858585" stroke="#9a9a9a" stroke-width="0.7"/><circle cx="330.98" cy="55.01" r="2.56" fill="#747474" stroke="#b4b4b4" stroke-width="0.7"/><circle cx="347.78" cy="55.72" r="2.93" fill="#939393" stroke="#a5a5a5" stroke-width="0.7"/><circle cx="332.1" cy="60.56" r="2.49" fill="#ababab" stroke="#c0c0c0" stroke-width="0.7"/><circle cx="344.36" cy="63.91" r="3.29" fill="#7f7f7f" stroke="#a8a8a8" stroke-width="0.7"/><circle cx="349.17" cy="59.43" r="2.99" fill="#979797" stroke="#9f9f9f" stroke-width="0.7"/><circle cx="344.36" cy="55.27" r="1.82" fill="#888888" stroke="#aeaeae" stroke-width="0.7"/><circle cx="335.73" cy="62.79" r="2.29" fill="#7b7b7b" stroke="#b6b6b6" stroke-width="0.7"/><circle cx="426.58" cy="34.43" r="3.37" fill="#838383" stroke="#b1b1b1" stroke-width="0.7"/><circle cx="424.7" cy="22.19" r="3.04" fill="#838383" stroke="#bfbfbf" stroke-width="0.7"/><circle cx="431.53" cy="22.54" r="1.92" fill="#8c8c8c" stroke="#bababa" stroke-width="0.7"/><circle cx="430.95" cy="22.01" r="3.82" fill="#6d6d6d" stroke="#b4b4b4" stroke-width="0.7"/><circle cx="421.41" cy="29.95" r="4.12" fill="#929292" stroke="#c4c4c4" stroke-width="0.7"/><circle cx="435.12" cy="22.22" r="3.75" fill="#6a6a6a" stroke="#b5b5b5" stroke-width="0.7"/><circle cx="431" cy="27.52" r="2.76" fill="#878787" stroke="#b5b5b5" stroke-width="0.7"/><circle cx="483.81" cy="30.61" r="3.85" fill="#616161" stroke="#a2a2a2" stroke-width="0.7"/><circle cx="478.15" cy="30.67" r="3.81" fill="#737373" stroke="#a5a5a5" stroke-width="0.7"/><circle cx="481.5" cy="30.29" r="3.17" fill="#848484" stroke="#b0b0b0" stroke-width="0.7"/><circle cx="485.77" cy="32.81" r="1.8" fill="#7e7e7e" stroke="#c4c4c4" stroke-width="0.7"/><circle cx="483.8" cy="32.94" r="2.4" fill="#727272" stroke="#a5a5a5" stroke-width="0.7"/><circle cx="479.91" cy="29.78" r="2.17" fill="#737373" stroke="#bdbdbd" stroke-width="0.7"/><circle cx="483.34" cy="34.29" r="2.48" fill="#8d8d8d" stroke="#a3a3a3" stroke-width="0.7"/><circle cx="484.74" cy="40.27" r="3.78" fill="#909090" stroke="#afafaf" stroke-width="0.7"/><circle cx="488.28" cy="25.07" r="2.21" fill="#848484" stroke="#b7b7b7" stroke-width="0.7"/><circle cx="345.86" cy="46.12" r="3.09" fill="#787878" stroke="#9b9b9b" stroke-width="0.7"/><circle cx="340.73" cy="46.53" r="2.04" fill="#686868" stroke="#a2a2a2" stroke-width="0.7"/><circle cx="342.61" cy="47.79" r="3.73" fill="#7a7a7a" stroke="#9d9d9d" stroke-width="0.7"/><circle cx="344.14" cy="48.86" r="3.98" fill="#727272" stroke="#b0b0b0" stroke-width="0.7"/><circle cx="348.76" cy="47.43" r="2.33" fill="#737373" stroke="#b1b1b1" stroke-width="0.7"/><circle cx="349.91" cy="45.84" r="2.06" fill="#898989" stroke="#afafaf" stroke-width="0.7"/><circle cx="348.03" cy="46.85" r="3.31" fill="#696969" stroke="#afafaf" stroke-width="0.7"/><circle cx="338.73" cy="46.63" r="1.99" fill="#747474" stroke="#b5b5b5" stroke-width="0.7"/><circle cx="512.83" cy="24.42" r="2.76" fill="#727272" stroke="#a5a5a5" stroke-width="0.7"/><circle cx="522.77" cy="25" r="3.04" fill="#636363" stroke="#b3b3b3" stroke-width="0.7"/><circle cx="508.72" cy="24.24" r="4.13" fill="#a1a1a1" stroke="#939393" stroke-width="0.7"/><circle cx="521.28" cy="25.52" r="2.39" fill="#757575" stroke="#bfbfbf" stroke-width="0.7"/><circle cx="520.84" cy="15.67" r="2.26" fill="#636363" stroke="#9c9c9c" stroke-width="0.7"/><circle cx="511.94" cy="29.66" r="3.02" fill="#767676" stroke="#a6a6a6" stroke-width="0.7"/><circle cx="518.47" cy="25.06" r="2.22" fill="#989898" stroke="#9b9b9b" stroke-width="0.7"/><circle cx="513.75" cy="24.09" r="4.19" fill="#737373" stroke="#afafaf" stroke-width="0.7"/><circle cx="521.65" cy="24.78" r="4.12" fill="#8f8f8f" stroke="#aeaeae" stroke-width="0.7"/><circle cx="518.29" cy="25.95" r="2.8" fill="#9a9a9a" stroke="#8f8f8f" stroke-width="0.7"/><circle cx="510.53" cy="28.06" r="4" fill="#6d6d6d" stroke="#b0b0b0" stroke-width="0.7"/><circle cx="502.36" cy="27.01" r="2.93" fill="#787878" stroke="#a9a9a9" stroke-width="0.7"/><circle cx="496.58" cy="33.69" r="1.94" fill="#737373" stroke="#b4b4b4" stroke-width="0.7"/><circle cx="490.84" cy="22.92" r="3.78" fill="#7a7a7a" stroke="#a9a9a9" stroke-width="0.7"/><circle cx="497.65" cy="25.36" r="3.58" fill="#676767" stroke="#a5a5a5" stroke-width="0.7"/><circle cx="489.83" cy="27.58" r="3.83" fill="#7b7b7b" stroke="#b3b3b3" stroke-width="0.7"/><circle cx="494.52" cy="36.5" r="3.02" fill="#616161" stroke="#b5b5b5" stroke-width="0.7"/><circle cx="356.88" cy="22.47" r="1.84" fill="#7d7d7d" stroke="#9e9e9e" stroke-width="0.7"/><circle cx="346.34" cy="25.81" r="3.06" fill="#808080" stroke="#a4a4a4" stroke-width="0.7"/><circle cx="343.73" cy="16.8" r="2.62" fill="#6b6b6b" stroke="#a5a5a5" stroke-width="0.7"/><circle cx="346.51" cy="19.8" r="3.96" fill="#767676" stroke="#aaaaaa" stroke-width="0.7"/><circle cx="350.68" cy="19.6" r="3.61" fill="#818181" stroke="#a9a9a9" stroke-width="0.7"/><circle cx="362.54" cy="22.72" r="3.63" fill="#6d6d6d" stroke="#b9b9b9" stroke-width="0.7"/><circle cx="348.7" cy="15.42" r="3.53" fill="#868686" stroke="#9b9b9b" stroke-width="0.7"/><circle cx="360.28" cy="21.79" r="3.29" fill="#767676" stroke="#c3c3c3" stroke-width="0.7"/><circle cx="389.7" cy="46.85" r="2.3" fill="#949494" stroke="#b9b9b9" stroke-width="0.7"/><circle cx="392.36" cy="52.84" r="1.84" fill="#929292" stroke="#c9c9c9" stroke-width="0.7"/><circle cx="393.46" cy="57.29" r="3.96" fill="#868686" stroke="#9d9d9d" stroke-width="0.7"/><circle cx="390.18" cy="53.75" r="2.32" fill="#8c8c8c" stroke="#a3a3a3" stroke-width="0.7"/><circle cx="394.39" cy="51.75" r="3.98" fill="#7d7d7d" stroke="#bababa" stroke-width="0.7"/><circle cx="409.53" cy="47.34" r="2.79" fill="#777777" stroke="#9e9e9e" stroke-width="0.7"/><circle cx="395.43" cy="48.57" r="3.93" fill="#939393" stroke="#8e8e8e" stroke-width="0.7"/><circle cx="436.46" cy="53.62" r="2.51" fill="#818181" stroke="#a6a6a6" stroke-width="0.7"/><circle cx="440.28" cy="52.22" r="3.79" fill="#757575" stroke="#9c9c9c" stroke-width="0.7"/><circle cx="433.33" cy="56.05" r="3.5" fill="#5c5c5c" stroke="#a8a8a8" stroke-width="0.7"/><circle cx="431.94" cy="63.74" r="3.81" fill="#8f8f8f" stroke="#929292" stroke-width="0.7"/><circle cx="435.93" cy="56.89" r="2.26" fill="#6c6c6c" stroke="#8f8f8f" stroke-width="0.7"/><circle cx="426.47" cy="62.67" r="2.72" fill="#696969" stroke="#b7b7b7" stroke-width="0.7"/><circle cx="430.45" cy="54.45" r="3.28" fill="#919191" stroke="#c6c6c6" stroke-width="0.7"/><circle cx="429.33" cy="58.55" r="2.31" fill="#a4a4a4" stroke="#898989" stroke-width="0.7"/><circle cx="434.84" cy="59.96" r="2.57" fill="#828282" stroke="#adadad" stroke-width="0.7"/><circle cx="382.29" cy="32.13" r="2.49" fill="#6e6e6e" stroke="#b3b3b3" stroke-width="0.7"/><circle cx="379.46" cy="32.94" r="2.6" fill="#9b9b9b" stroke="#bababa" stroke-width="0.7"/><circle cx="383.06" cy="31.79" r="3.17" fill="#9b9b9b" stroke="#b5b5b5" stroke-width="0.7"/><circle cx="374.4" cy="34.63" r="3.92" fill="#767676" stroke="#9d9d9d" stroke-width="0.7"/><circle cx="384.95" cy="36.81" r="2.79" fill="#5a5a5a" stroke="#a2a2a2" stroke-width="0.7"/><circle cx="378.67" cy="37.94" r="3.69" fill="#909090" stroke="#acacac" stroke-width="0.7"/><circle cx="374.99" cy="23.32" r="2.68" fill="#5c5c5c" stroke="#a8a8a8" stroke-width="0.7"/><circle cx="380.4" cy="40.07" r="3.43" fill="#737373" stroke="#9a9a9a" stroke-width="0.7"/><circle cx="390.51" cy="35.76" r="1.85" fill="#757575" stroke="#989898" stroke-width="0.7"/><circle cx="388.86" cy="69.14" r="3.17" fill="#8b8b8b" stroke="#bcbcbc" stroke-width="0.7"/><circle cx="385.59" cy="61.03" r="2.14" fill="#616161" stroke="#a9a9a9" stroke-width="0.7"/><circle cx="385.39" cy="65.5" r="3.62" fill="#545454" stroke="#ababab" stroke-width="0.7"/><circle cx="394.14" cy="55.5" r="3.99" fill="#7b7b7b" stroke="#989898" stroke-width="0.7"/><circle cx="384.33" cy="63.08" r="1.98" fill="#808080" stroke="#b0b0b0" stroke-width="0.7"/><circle cx="380.76" cy="62.98" r="2.89" fill="#777777" stroke="#b1b1b1" stroke-width="0.7"/><circle cx="390.34" cy="61.95" r="3.22" fill="#828282" stroke="#9d9d9d" stroke-width="0.7"/><circle cx="389.76" cy="66.37" r="1.9" fill="#6e6e6e" stroke="#b1b1b1" stroke-width="0.7"/><circle cx="394.04" cy="63.86" r="3.51" fill="#959595" stroke="#ababab" stroke-width="0.7"/><circle cx="390.51" cy="61.79" r="2.33" fill="#797979" stroke="#a3a3a3" stroke-width="0.7"/><circle cx="524.28" cy="35.52" r="1.85" fill="#848484" stroke="#9b9b9b" stroke-width="0.7"/><circle cx="521.17" cy="37.26" r="3.44" fill="#7d7d7d" stroke="#d0d0d0" stroke-width="0.7"/><circle cx="530.04" cy="35.54" r="4.05" fill="#969696" stroke="#b0b0b0" stroke-width="0.7"/><circle cx="515.76" cy="36.26" r="2.42" fill="#a6a6a6" stroke="#929292" stroke-width="0.7"/><circle cx="532.25" cy="35.27" r="2.91" fill="#767676" stroke="#aeaeae" stroke-width="0.7"/><circle cx="530.21" cy="36.26" r="3.73" fill="#7a7a7a" stroke="#a6a6a6" stroke-width="0.7"/><circle cx="523.49" cy="33.93" r="3.64" fill="#979797" stroke="#9b9b9b" stroke-width="0.7"/><circle cx="423.06" cy="41.58" r="3.46" fill="#969696" stroke="#bdbdbd" stroke-width="0.7"/><circle cx="419.52" cy="35.33" r="2.95" fill="#707070" stroke="#b4b4b4" stroke-width="0.7"/><circle cx="415.4" cy="26.63" r="2.66" fill="#808080" stroke="#bcbcbc" stroke-width="0.7"/><circle cx="436.15" cy="40.62" r="2.96" fill="#4e4e4e" stroke="#aeaeae" stroke-width="0.7"/><circle cx="428.56" cy="28.46" r="3.09" fill="#737373" stroke="#adadad" stroke-width="0.7"/><circle cx="422.42" cy="37.04" r="2.85" fill="#7e7e7e" stroke="#b7b7b7" stroke-width="0.7"/><circle cx="433.33" cy="30.93" r="3.48" fill="#878787" stroke="#c6c6c6" stroke-width="0.7"/><circle cx="424.25" cy="39.42" r="3.04" fill="#8f8f8f" stroke="#a4a4a4" stroke-width="0.7"/><circle cx="426.83" cy="36.67" r="2.57" fill="#999999" stroke="#bcbcbc" stroke-width="0.7"/><circle cx="420.51" cy="38.67" r="3.58" fill="#919191" stroke="#d3d3d3" stroke-width="0.7"/><circle cx="488.6" cy="25.52" r="3.65" fill="#8e8e8e" stroke="#a7a7a7" stroke-width="0.7"/><circle cx="489.37" cy="22.46" r="2.45" fill="#808080" stroke="#acacac" stroke-width="0.7"/><circle cx="477.39" cy="31.89" r="3.62" fill="#5c5c5c" stroke="#bcbcbc" stroke-width="0.7"/><circle cx="485.95" cy="24.42" r="3.44" fill="#6c6c6c" stroke="#848484" stroke-width="0.7"/><circle cx="485.6" cy="24.57" r="1.9" fill="#6f6f6f" stroke="#aaaaaa" stroke-width="0.7"/><circle cx="488.1" cy="22.34" r="1.83" fill="#838383" stroke="#9f9f9f" stroke-width="0.7"/><circle cx="345.06" cy="39.26" r="3.96" fill="#707070" stroke="#b5b5b5" stroke-width="0.7"/><circle cx="354.72" cy="44.93" r="2.57" fill="#757575" stroke="#b9b9b9" stroke-width="0.7"/><circle cx="342.44" cy="39.29" r="2.25" fill="#898989" stroke="#9d9d9d" stroke-width="0.7"/><circle cx="342.14" cy="45.72" r="3.68" fill="#5d5d5d" stroke="#9c9c9c" stroke-width="0.7"/><circle cx="349.66" cy="43.76" r="2.54" fill="#949494" stroke="#bebebe" stroke-width="0.7"/><circle cx="350.69" cy="40.9" r="3.17" fill="#767676" stroke="#b1b1b1" stroke-width="0.7"/><circle cx="347.58" cy="36.43" r="2.25" fill="#6d6d6d" stroke="#aeaeae" stroke-width="0.7"/><circle cx="345.53" cy="38.6" r="3.4" fill="#939393" stroke="#aeaeae" stroke-width="0.7"/><circle cx="349.83" cy="45.51" r="3.57" fill="#676767" stroke="#868686" stroke-width="0.7"/><circle cx="385.01" cy="59.39" r="2.82" fill="#828282" stroke="#a0a0a0" stroke-width="0.7"/><circle cx="393.75" cy="58.82" r="2.12" fill="#666666" stroke="#b2b2b2" stroke-width="0.7"/><circle cx="382.49" cy="55.76" r="2.75" fill="#818181" stroke="#a0a0a0" stroke-width="0.7"/><circle cx="391.17" cy="53.53" r="2.6" fill="#828282" stroke="#aeaeae" stroke-width="0.7"/><circle cx="385.23" cy="55.87" r="2.13" fill="#717171" stroke="#959595" stroke-width="0.7"/><circle cx="388.53" cy="53.44" r="2.14" fill="#8b8b8b" stroke="#acacac" stroke-width="0.7"/><circle cx="398.55" cy="51.89" r="4.06" fill="#7e7e7e" stroke="#bfbfbf" stroke-width="0.7"/><circle cx="383.58" cy="51.75" r="2.92" fill="#696969" stroke="#a9a9a9" stroke-width="0.7"/><circle cx="389.22" cy="54.78" r="3.98" fill="#868686" stroke="#a9a9a9" stroke-width="0.7"/><circle cx="386.23" cy="53.66" r="2.14" fill="#666666" stroke="#969696" stroke-width="0.7"/><circle cx="486.84" cy="48.34" r="3.42" fill="#7b7b7b" stroke="#a9a9a9" stroke-width="0.7"/><circle cx="477.45" cy="46.86" r="3.52" fill="#787878" stroke="#969696" stroke-width="0.7"/><circle cx="489.52" cy="47.71" r="3.42" fill="#696969" stroke="#a4a4a4" stroke-width="0.7"/><circle cx="490.66" cy="43.56" r="2.54" fill="#7e7e7e" stroke="#9c9c9c" stroke-width="0.7"/><circle cx="492.17" cy="36.73" r="3.94" fill="#7a7a7a" stroke="#959595" stroke-width="0.7"/><circle cx="486.21" cy="46.75" r="2.71" fill="#6b6b6b" stroke="#b2b2b2" stroke-width="0.7"/><circle cx="473.98" cy="51.79" r="3.89" fill="#8d8d8d" stroke="#b6b6b6" stroke-width="0.7"/><circle cx="475.36" cy="48.26" r="2.57" fill="#868686" stroke="#b3b3b3" stroke-width="0.7"/><circle cx="475.96" cy="55.49" r="1.84" fill="#808080" stroke="#a8a8a8" stroke-width="0.7"/><circle cx="466.61" cy="49.12" r="4.03" fill="#727272" stroke="#a7a7a7" stroke-width="0.7"/><circle cx="469.26" cy="48.9" r="3.93" fill="#505050" stroke="#b1b1b1" stroke-width="0.7"/><circle cx="466.98" cy="51.76" r="3.82" fill="#575757" stroke="#cecece" stroke-width="0.7"/><circle cx="469.4" cy="51.81" r="3.49" fill="#898989" stroke="#b2b2b2" stroke-width="0.7"/><circle cx="467.03" cy="52.27" r="3.75" fill="#777777" stroke="#a1a1a1" stroke-width="0.7"/><circle cx="475.69" cy="52.49" r="2.71" fill="#acacac" stroke="#b0b0b0" stroke-width="0.7"/><circle cx="468.25" cy="52.54" r="3.7" fill="#838383" stroke="#b0b0b0" stroke-width="0.7"/><circle cx="465.83" cy="50.43" r="3.66" fill="#868686" stroke="#b6b6b6" stroke-width="0.7"/><circle cx="494.34" cy="63.52" r="2.14" fill="#797979" stroke="#bcbcbc" stroke-width="0.7"/><circle cx="483.17" cy="62.89" r="2.35" fill="#595959" stroke="#c2c2c2" stroke-width="0.7"/><circle cx="484.17" cy="62.77" r="3.58" fill="#9b9b9b" stroke="#a0a0a0" stroke-width="0.7"/><circle cx="486.32" cy="55.47" r="4.05" fill="#757575" stroke="#acacac" stroke-width="0.7"/><circle cx="494.01" cy="62.79" r="3.49" fill="#7f7f7f" stroke="#969696" stroke-width="0.7"/><circle cx="499.94" cy="50.12" r="2.95" fill="#707070" stroke="#a9a9a9" stroke-width="0.7"/><circle cx="490.02" cy="59.61" r="3.61" fill="#777777" stroke="#9d9d9d" stroke-width="0.7"/><circle cx="496.86" cy="58.75" r="3.26" fill="#797979" stroke="#a2a2a2" stroke-width="0.7"/><circle cx="494.79" cy="64.61" r="3.15" fill="#777777" stroke="#c0c0c0" stroke-width="0.7"/><circle cx="487.61" cy="57.66" r="3.05" fill="#646464" stroke="#8a8a8a" stroke-width="0.7"/><circle cx="484.26" cy="62.56" r="3.76" fill="#888888" stroke="#b1b1b1" stroke-width="0.7"/><circle cx="359.6" cy="50.93" r="4.12" fill="#6e6e6e" stroke="#b9b9b9" stroke-width="0.7"/><circle cx="363.93" cy="48.99" r="2.78" fill="#5f5f5f" stroke="#c1c1c1" stroke-width="0.7"/><circle cx="361.5" cy="47.83" r="3.69" fill="#858585" stroke="#b2b2b2" stroke-width="0.7"/><circle cx="365.89" cy="53.89" r="3.66" fill="#747474" stroke="#848484" stroke-width="0.7"/><circle cx="364.38" cy="47.08" r="2.1" fill="#6f6f6f" stroke="#a0a0a0" stroke-width="0.7"/><circle cx="361.48" cy="50.61" r="2.22" fill="#a2a2a2" stroke="#bcbcbc" stroke-width="0.7"/><circle cx="362.25" cy="49.26" r="3.51" fill="#8b8b8b" stroke="#b1b1b1" stroke-width="0.7"/><circle cx="364.03" cy="39.44" r="2.01" fill="#979797" stroke="#d8d8d8" stroke-width="0.7"/><circle cx="368.68" cy="44.68" r="3.04" fill="#757575" stroke="#cbcbcb" stroke-width="0.7"/><circle cx="362.74" cy="42.03" r="3.61" fill="#888888" stroke="#ababab" stroke-width="0.7"/><circle cx="367.53" cy="35.38" r="1.81" fill="#989898" stroke="#9e9e9e" stroke-width="0.7"/><circle cx="361.23" cy="45.93" r="3.18" fill="#929292" stroke="#8d8d8d" stroke-width="0.7"/><circle cx="365.29" cy="35.34" r="4.09" fill="#858585" stroke="#bdbdbd" stroke-width="0.7"/><circle cx="357.07" cy="36.01" r="3.65" fill="#7a7a7a" stroke="#999999" stroke-width="0.7"/><circle cx="504.97" cy="62.02" r="3.7" fill="#727272" stroke="#cdcdcd" stroke-width="0.7"/><circle cx="504.87" cy="57.7" r="2.25" fill="#959595" stroke="#9b9b9b" stroke-width="0.7"/><circle cx="490.68" cy="65.06" r="1.98" fill="#737373" stroke="#999999" stroke-width="0.7"/><circle cx="489.79" cy="62.38" r="4.11" fill="#626262" stroke="#a3a3a3" stroke-width="0.7"/><circle cx="502.48" cy="60.31" r="1.97" fill="#7f7f7f" stroke="#b2b2b2" stroke-width="0.7"/><circle cx="494.16" cy="52.32" r="2.45" fill="#787878" stroke="#b8b8b8" stroke-width="0.7"/><circle cx="486.73" cy="63.78" r="3.41" fill="#595959" stroke="#bebebe" stroke-width="0.7"/><circle cx="490.91" cy="61.05" r="3.36" fill="#929292" stroke="#bbbbbb" stroke-width="0.7"/><circle cx="499.1" cy="62.41" r="2.94" fill="#5a5a5a" stroke="#aeaeae" stroke-width="0.7"/><circle cx="488.67" cy="61.4" r="3.39" fill="#5f5f5f" stroke="#9d9d9d" stroke-width="0.7"/><circle cx="458.05" cy="48.38" r="2.53" fill="#6d6d6d" stroke="#a8a8a8" stroke-width="0.6"/><circle cx="420.5" cy="46.63" r="2.42" fill="#707070" stroke="#999999" stroke-width="0.6"/><circle cx="433.66" cy="24.58" r="2.09" fill="#5b5b5b" stroke="#b2b2b2" stroke-width="0.6"/><circle cx="462.94" cy="28.51" r="2.37" fill="#555555" stroke="#8c8c8c" stroke-width="0.6"/><circle cx="392.98" cy="29.83" r="2" fill="#676767" stroke="#a4a4a4" stroke-width="0.6"/><circle cx="377.16" cy="28.21" r="1.41" fill="#7a7a7a" stroke="#929292" stroke-width="0.6"/><circle cx="420.36" cy="30.32" r="2.29" fill="#696969" stroke="#8d8d8d" stroke-width="0.6"/><circle cx="490" cy="44.89" r="1.36" fill="#535353" stroke="#a2a2a2" stroke-width="0.6"/><circle cx="419.94" cy="54.73" r="1.89" fill="#5e5e5e" stroke="#8d8d8d" stroke-width="0.6"/><circle cx="385.37" cy="45.76" r="2.37" fill="#5d5d5d" stroke="#949494" stroke-width="0.6"/><circle cx="451.79" cy="52.61" r="1.7" fill="#757575" stroke="#9a9a9a" stroke-width="0.6"/><circle cx="505.13" cy="42.96" r="1.39" fill="#6f6f6f" stroke="#8e8e8e" stroke-width="0.6"/><circle cx="472.21" cy="26.82" r="2.3" fill="#4e4e4e" stroke="#989898" stroke-width="0.6"/><circle cx="385.77" cy="22.67" r="1.65" fill="#6a6a6a" stroke="#a6a6a6" stroke-width="0.6"/><circle cx="505.13" cy="31.58" r="2.03" fill="#525252" stroke="#8a8a8a" stroke-width="0.6"/><circle cx="345.6" cy="49.82" r="2.45" fill="#414141" stroke="#9e9e9e" stroke-width="0.6"/><circle cx="516.25" cy="36.77" r="1.98" fill="#5f5f5f" stroke="#a6a6a6" stroke-width="0.6"/><circle cx="476.36" cy="25.76" r="1.72" fill="#6f6f6f" stroke="#8e8e8e" stroke-width="0.6"/><circle cx="377.14" cy="25.07" r="1.82" fill="#606060" stroke="#aeaeae" stroke-width="0.6"/><circle cx="339.3" cy="50.11" r="1.26" fill="#575757" stroke="#949494" stroke-width="0.6"/><circle cx="517.68" cy="43.66" r="1.87" fill="#6e6e6e" stroke="#8f8f8f" stroke-width="0.6"/><circle cx="389.46" cy="42.9" r="2.21" fill="#6e6e6e" stroke="#979797" stroke-width="0.6"/><circle cx="348.58" cy="65.39" r="1.56" fill="#5e5e5e" stroke="#a6a6a6" stroke-width="0.6"/><circle cx="510.23" cy="26.23" r="1.26" fill="#585858" stroke="#8c8c8c" stroke-width="0.6"/><circle cx="388.01" cy="33.95" r="2.27" fill="#666666" stroke="#a9a9a9" stroke-width="0.6"/><circle cx="408.61" cy="56.16" r="1.64" fill="#5e5e5e" stroke="#868686" stroke-width="0.6"/><circle cx="473.38" cy="27.95" r="2.22" fill="#4a4a4a" stroke="#bbbbbb" stroke-width="0.6"/><circle cx="451.51" cy="44.32" r="2.31" fill="#505050" stroke="#8e8e8e" stroke-width="0.6"/><circle cx="354.46" cy="38.3" r="2.04" fill="#656565" stroke="#9a9a9a" stroke-width="0.6"/><circle cx="378.67" cy="59.4" r="2.2" fill="#636363" stroke="#929292" stroke-width="0.6"/><circle cx="390.38" cy="27.3" r="2.37" fill="#676767" stroke="#919191" stroke-width="0.6"/><circle cx="412.55" cy="25.46" r="1.25" fill="#686868" stroke="#959595" stroke-width="0.6"/><circle cx="434.41" cy="30.13" r="1.68" fill="#616161" stroke="#a0a0a0" stroke-width="0.6"/><circle cx="451.17" cy="59.01" r="1.45" fill="#6c6c6c" stroke="#959595" stroke-width="0.6"/><circle cx="530.95" cy="64.59" r="1.29" fill="#575757" stroke="#878787" stroke-width="0.6"/><circle cx="460" cy="61.19" r="1.84" fill="#666666" stroke="#8e8e8e" stroke-width="0.6"/><circle cx="373.85" cy="40.96" r="1.61" fill="#7a7a7a" stroke="#989898" stroke-width="0.6"/><circle cx="365.34" cy="46.52" r="1.91" fill="#646464" stroke="#ababab" stroke-width="0.6"/><circle cx="406.17" cy="57.28" r="1.3" fill="#6e6e6e" stroke="#898989" stroke-width="0.6"/><circle cx="504.92" cy="51.37" r="1.5" fill="#6d6d6d" stroke="#959595" stroke-width="0.6"/><circle cx="512.54" cy="61.32" r="2.45" fill="#848484" stroke="#989898" stroke-width="0.6"/><circle cx="427.19" cy="51.39" r="1.8" fill="#5f5f5f" stroke="#949494" stroke-width="0.6"/><circle cx="353.92" cy="32.65" r="2.34" fill="#6e6e6e" stroke="#9c9c9c" stroke-width="0.6"/><circle cx="471.59" cy="51.08" r="1.55" fill="#717171" stroke="#959595" stroke-width="0.6"/><circle cx="340.12" cy="37.18" r="1.42" fill="#717171" stroke="#909090" stroke-width="0.6"/><circle cx="343.38" cy="56.21" r="2.51" fill="#787878" stroke="#8d8d8d" stroke-width="0.6"/><circle cx="470.36" cy="56.62" r="2.31" fill="#8a8a8a" stroke="#8e8e8e" stroke-width="0.6"/><circle cx="459.17" cy="36.42" r="2.42" fill="#5c5c5c" stroke="#969696" stroke-width="0.6"/><circle cx="401.69" cy="37.35" r="2.37" fill="#666666" stroke="#8b8b8b" stroke-width="0.6"/><circle cx="529.93" cy="24.56" r="2.53" fill="#5f5f5f" stroke="#979797" stroke-width="0.6"/><circle cx="501.85" cy="27.6" r="1.74" fill="#7e7e7e" stroke="#959595" stroke-width="0.6"/><circle cx="365.48" cy="38.92" r="2" fill="#717171" stroke="#9a9a9a" stroke-width="0.6"/><circle cx="514.17" cy="59.53" r="1.36" fill="#494949" stroke="#9d9d9d" stroke-width="0.6"/><circle cx="517.35" cy="39.53" r="2.49" fill="#585858" stroke="#a3a3a3" stroke-width="0.6"/><circle cx="437.59" cy="40.38" r="2.17" fill="#656565" stroke="#969696" stroke-width="0.6"/><circle cx="429.81" cy="24.68" r="1.42" fill="#6f6f6f" stroke="#a9a9a9" stroke-width="0.6"/><circle cx="498.3" cy="48.15" r="1.44" fill="#6b6b6b" stroke="#8f8f8f" stroke-width="0.6"/><circle cx="494.31" cy="53.31" r="2.1" fill="#636363" stroke="#a7a7a7" stroke-width="0.6"/><circle cx="385.31" cy="25.25" r="2.26" fill="#646464" stroke="#b0b0b0" stroke-width="0.6"/><circle cx="485.12" cy="33.41" r="1.24" fill="#717171" stroke="#a7a7a7" stroke-width="0.6"/><circle cx="438.97" cy="39.23" r="0.84" fill="#aeaeae"/><circle cx="408.67" cy="47.73" r="0.94" fill="#c8c8c8"/><circle cx="384.24" cy="53.77" r="1.41" fill="#7d7d7d"/><circle cx="350.01" cy="61.64" r="1.5" fill="#c8c8c8"/><circle cx="341.19" cy="43.88" r="0.93" fill="#b6b6b6"/><circle cx="416.66" cy="36.74" r="1.53" fill="#bcbcbc"/><circle cx="361.13" cy="47.17" r="1.51" fill="#dcdcdc"/><circle cx="437.4" cy="39.36" r="1.34" fill="#c8c8c8"/><circle cx="388.72" cy="62.45" r="1.46" fill="#dbdbdb"/><circle cx="466.09" cy="61.38" r="0.85" fill="#acacac"/><circle cx="459.67" cy="29.5" r="1.6" fill="#a4a4a4"/><circle cx="485.94" cy="62.66" r="1.26" fill="#b1b1b1"/><circle cx="411.44" cy="60.89" r="1.21" fill="#b0b0b0"/><circle cx="391.9" cy="43.26" r="1.25" fill="#bcbcbc"/><circle cx="517.63" cy="42.5" r="1.5" fill="#cbcbcb"/><circle cx="380.1" cy="31.36" r="0.95" fill="#cccccc"/><circle cx="359.15" cy="51.07" r="1.5" fill="#b1b1b1"/><circle cx="350.2" cy="34.16" r="1.15" fill="#b6b6b6"/><circle cx="469.47" cy="42.41" r="1.14" fill="#b1b1b1"/><circle cx="352.8" cy="59.41" r="1.28" fill="#cfcfcf"/><circle cx="509.29" cy="29.02" r="1.12" fill="#aaaaaa"/><circle cx="492.58" cy="59.36" r="1.03" fill="#c7c7c7"/><circle cx="523.07" cy="33.52" r="1.57" fill="#d8d8d8"/><circle cx="476.13" cy="45.65" r="1.08" fill="#c5c5c5"/><circle cx="339.56" cy="44.27" r="1.2" fill="#bbbbbb"/><circle cx="487.14" cy="59.25" r="1.44" fill="#cfcfcf"/><circle cx="411.92" cy="28.59" r="1.32" fill="#c9c9c9"/><circle cx="523.64" cy="43.49" r="1.01" fill="#bababa"/><circle cx="502.12" cy="57.42" r="0.91" fill="#bfbfbf"/><circle cx="356.34" cy="51.96" r="1.23" fill="#b3b3b3"/><circle cx="365.97" cy="55.79" r="1.43" fill="#dbdbdb"/><circle cx="417.18" cy="34.66" r="1.24" fill="#c9c9c9"/><circle cx="486.19" cy="42.18" r="1.29" fill="#bbbbbb"/><circle cx="453.59" cy="52.82" r="1.05" fill="#9d9d9d"/><circle cx="395.21" cy="55.75" r="1.57" fill="#b3b3b3"/><circle cx="465.72" cy="47.42" r="1.5" fill="#b6b6b6"/><circle cx="459.47" cy="58.84" r="1.57" fill="#c6c6c6"/><circle cx="432.4" cy="57.65" r="1.55" fill="#9e9e9e"/><circle cx="510.79" cy="29.15" r="0.84" fill="#b2b2b2"/><circle cx="354" cy="28.21" r="0.99" fill="#b5b5b5"/><circle cx="526.5" cy="56.17" r="0.88" fill="#ababab"/><circle cx="473.26" cy="48.18" r="1.16" fill="#c1c1c1"/><circle cx="483.38" cy="43.86" r="1.38" fill="#b6b6b6"/><circle cx="358.86" cy="31.75" r="1.27" fill="#a5a5a5"/><circle cx="507.1" cy="59.52" r="1.45" fill="#b0b0b0"/><circle cx="350.87" cy="59.45" r="1.54" fill="#bfbfbf"/><circle cx="340.24" cy="31.44" r="1.09" fill="#a2a2a2"/><circle cx="427.5" cy="50.58" r="1.45" fill="#c3c3c3"/><circle cx="399.28" cy="62.84" r="1.23" fill="#eeeeee"/><circle cx="445.82" cy="46.08" r="1.38" fill="#e5e5e5"/><circle cx="459.9" cy="49.4" r="1.26" fill="#d2d2d2"/><circle cx="486.9" cy="32.25" r="1.01" fill="#c9c9c9"/><circle cx="440.74" cy="56.8" r="1.09" fill="#9a9a9a"/><circle cx="423.44" cy="42.08" r="1.57" fill="#bebebe"/><circle cx="342.91" cy="58.62" r="1.2" fill="#969696"/><circle cx="363.53" cy="62.4" r="1.32" fill="#818181"/><circle cx="435.45" cy="62.7" r="1.47" fill="#b1b1b1"/><circle cx="411.87" cy="39.79" r="1.18" fill="#acacac"/><circle cx="384.55" cy="50.6" r="1.42" fill="#bfbfbf"/><circle cx="370.03" cy="36.64" r="0.95" fill="#b8b8b8"/><circle cx="397.72" cy="37.07" r="0.85" fill="#b4b4b4"/><circle cx="519.32" cy="29.8" r="1.19" fill="#c5c5c5"/><circle cx="507.15" cy="38.32" r="0.85" fill="#b7b7b7"/><circle cx="476.38" cy="40.08" r="1.59" fill="#d6d6d6"/><circle cx="449.5" cy="47.76" r="0.86" fill="#cacaca"/><circle cx="530.44" cy="30.92" r="1.41" fill="#c5c5c5"/><circle cx="415.54" cy="47.79" r="0.9" fill="#dadada"/><circle cx="403.81" cy="51.38" r="1.22" fill="#bcbcbc"/><circle cx="395.12" cy="39.6" r="1.09" fill="#b0b0b0"/><circle cx="499.38" cy="62.09" r="1.55" fill="#e1e1e1"/><ellipse cx="393" cy="25" rx="6" ry="3" fill="#d8d8d8"/></g>
<path d="M338 58.5 L350 58.8 L365 60 L380 62 L395 65.5 L398 66.5 L410 67 L425 67.5 L438 67 L450 66 L462 63 L466 60 L475 57.5 L490 56 L510 55.5 L525 56.5 L534 58 L534 98 L515 99 L500 97 L480 98.5 L465 98 L450 97 L435 97.5 L420 97 L405 96 L395 98 L380 97.5 L370 96 L360 93 L350 92.5 L338 94Z" fill="#9c9c9c"/>
<g filter="url(#bl08)"><path d="M339 59.3 L350 59.4 L365 60.6 L380 62.6 L394 65.6 L397.4 67 L398.2 80 L397 96 L380 97 L370 95.5 L360 92.8 L350 92.2 L339 93.6Z" fill="#cacaca"/><path d="M399.2 67.3 L410 67.6 L425 68 L437 67.6 L437.6 80 L436.5 96.5 L420 96.5 L405 95.5 L399.5 96Z" fill="#c4c4c4"/><path d="M438.6 67.4 L450 66.5 L462 63.8 L464.6 62 L465.2 80 L464.5 97 L450 96.5 L438.5 97Z" fill="#bfbfbf"/><path d="M466.2 60.5 L475 58.2 L490 56.6 L510 56.2 L525 57.2 L534 58.6 L534 97.5 L515 98.5 L500 96.8 L480 98 L466.5 97.5 L466 80Z" fill="#d0d0d0"/><path d="M339 60.2 L365 61.4 L394 66.4 M399 68.2 L437 68.4 M438.5 68.2 L462 64.6 M466.5 61.4 L490 57.5 L525 58 L534 59.5" stroke="#d4d4d4" stroke-width="1.6" fill="none"/><ellipse cx="485" cy="77.5" rx="3.2" ry="2.6" fill="#a8a8a8"/><ellipse cx="510" cy="91.5" rx="3" ry="2.2" fill="#8e8e8e"/><ellipse cx="372" cy="70" rx="1.5" ry="1.5" fill="#acacac"/><ellipse cx="382" cy="72" rx="1.3" ry="1.3" fill="#acacac"/></g>
<linearGradient id="pvg" x1="0" y1="0" x2="0" y2="1"><stop offset="0" stop-color="#fff" stop-opacity="0.16"/><stop offset="0.45" stop-color="#fff" stop-opacity="0"/><stop offset="1" stop-color="#000" stop-opacity="0.17"/></linearGradient>
<path d="M338 58.5 L350 58.8 L365 60 L380 62 L395 65.5 L398 66.5 L410 67 L425 67.5 L438 67 L450 66 L462 63 L466 60 L475 57.5 L490 56 L510 55.5 L525 56.5 L534 58 L534 98 L515 99 L500 97 L480 98.5 L465 98 L450 97 L435 97.5 L420 97 L405 96 L395 98 L380 97.5 L370 96 L360 93 L350 92.5 L338 94Z" fill="url(#pvg)"/>
<rect x="339.5" y="96" width="192.9" height="41" fill="#6c6c6c"/>
<rect x="339.5" y="118" width="192.9" height="19" fill="#8e8e8e"/>
<g filter="url(#bl08)"><rect x="335.2" y="95.91" width="13.3" height="23.32" rx="5" fill="#b7b7b7"/><path d="M338.91 98.91 l7.35 8.78 l-5.88 8.52 Z" fill="#c4c4c4"/><rect x="349.9" y="95.77" width="8.97" height="23.56" rx="4.15" fill="#d2d2d2"/><rect x="360.27" y="94.52" width="9.3" height="25.46" rx="4.28" fill="#c0c0c0"/><rect x="370.98" y="95.48" width="7.75" height="28.5" rx="3.66" fill="#aeaeae"/><rect x="380.13" y="96.73" width="8.16" height="22.45" rx="3.82" fill="#a4a4a4"/><rect x="389.69" y="95.89" width="14.06" height="24.09" rx="5" fill="#b8b8b8"/><rect x="405.15" y="93.6" width="17.22" height="29.23" rx="5" fill="#a8a8a8"/><rect x="423.77" y="94.98" width="6.78" height="25.89" rx="3.27" fill="#b6b6b6"/><rect x="431.95" y="94.94" width="8.76" height="28.56" rx="4.06" fill="#c3c3c3"/><rect x="442.11" y="93.79" width="8.09" height="28.18" rx="3.79" fill="#9d9d9d"/><rect x="451.6" y="96.01" width="8.01" height="28.76" rx="3.76" fill="#c3c3c3"/><rect x="461" y="96.83" width="8.28" height="26.79" rx="3.87" fill="#9c9c9c"/><rect x="470.68" y="94.63" width="17.22" height="24.48" rx="5" fill="#cbcbcb"/><path d="M475.57 97.63 l9.31 4.94 l-7.45 9.92 Z" fill="#e2e2e2"/><rect x="489.3" y="95.05" width="10.06" height="29.46" rx="4.58" fill="#c9c9c9"/><rect x="500.76" y="95.13" width="13.06" height="24.86" rx="5" fill="#c9c9c9"/><path d="M504.4 98.13 l7.23 7.68 l-5.78 9.12 Z" fill="#d9d9d9"/><rect x="515.22" y="96.15" width="16.95" height="23.04" rx="5" fill="#afafaf"/><path d="M520.02 99.15 l9.18 9.78 l-7.34 5.47 Z" fill="#bfbfbf"/><rect x="533.57" y="94.6" width="14.51" height="28.38" rx="5" fill="#9f9f9f"/><ellipse cx="465.64" cy="129.72" rx="1.68" ry="3.99" fill="#969696"/><ellipse cx="373.44" cy="119.05" rx="2.45" ry="3.84" fill="#989898"/><ellipse cx="415.23" cy="129.91" rx="2.22" ry="3.14" fill="#b0b0b0"/><ellipse cx="400.03" cy="127.11" rx="1.72" ry="5.46" fill="#9e9e9e"/><ellipse cx="500.03" cy="133.06" rx="1.88" ry="5.36" fill="#a2a2a2"/><ellipse cx="382.5" cy="125.22" rx="2.43" ry="5.16" fill="#6d6d6d"/><ellipse cx="456.1" cy="124.07" rx="2.24" ry="3.71" fill="#c3c3c3"/><ellipse cx="378.99" cy="124.41" rx="1.66" ry="2.9" fill="#848484"/><ellipse cx="511.87" cy="133.77" rx="1.18" ry="3.78" fill="#898989"/><ellipse cx="365.68" cy="119.07" rx="2.44" ry="3.49" fill="#9e9e9e"/><ellipse cx="439.99" cy="127.39" rx="1.82" ry="4.28" fill="#aaaaaa"/><ellipse cx="460.85" cy="125.04" rx="2.34" ry="3.51" fill="#d2d2d2"/><ellipse cx="507.01" cy="126.57" rx="1.29" ry="5.22" fill="#9a9a9a"/><ellipse cx="479.11" cy="128.49" rx="1.4" ry="4.75" fill="#bababa"/><ellipse cx="343.33" cy="133.65" rx="1.34" ry="3.84" fill="#a7a7a7"/><ellipse cx="370.96" cy="128.26" rx="0.94" ry="5.12" fill="#d3d3d3"/><ellipse cx="467.95" cy="127.08" rx="1.5" ry="4.79" fill="#c9c9c9"/><ellipse cx="484.96" cy="118.56" rx="1.35" ry="3.05" fill="#aaaaaa"/><ellipse cx="459.8" cy="121.52" rx="2.51" ry="3.8" fill="#acacac"/><ellipse cx="480.52" cy="119.79" rx="0.92" ry="3.51" fill="#595959"/><ellipse cx="384.91" cy="123.29" rx="1.12" ry="3.75" fill="#898989"/><ellipse cx="398.75" cy="127.31" rx="1.26" ry="2.94" fill="#8f8f8f"/><ellipse cx="344.04" cy="125.58" rx="2.1" ry="3.98" fill="#e9e9e9"/><ellipse cx="401.4" cy="131.11" rx="1.31" ry="3.66" fill="#dbdbdb"/><ellipse cx="386.58" cy="132.88" rx="1.19" ry="2.59" fill="#c7c7c7"/><ellipse cx="443.88" cy="127.11" rx="1.45" ry="5.23" fill="#cccccc"/><ellipse cx="433.51" cy="131.12" rx="2.27" ry="3.12" fill="#b2b2b2"/><ellipse cx="363.5" cy="119.38" rx="2.22" ry="3.84" fill="#b2b2b2"/><ellipse cx="445.61" cy="122.74" rx="0.98" ry="3.95" fill="#b7b7b7"/><ellipse cx="476.29" cy="133.77" rx="1.71" ry="5.87" fill="#aaaaaa"/><ellipse cx="433.91" cy="129.94" rx="1.68" ry="3.08" fill="#c3c3c3"/><ellipse cx="517.88" cy="123.7" rx="1.61" ry="3.58" fill="#929292"/><ellipse cx="434.44" cy="121.68" rx="2.43" ry="2.55" fill="#787878"/><ellipse cx="507.65" cy="119.51" rx="0.93" ry="4.76" fill="#727272"/><ellipse cx="371.47" cy="124.92" rx="1.06" ry="3.95" fill="#b2b2b2"/><ellipse cx="513.65" cy="124" rx="1.17" ry="5.83" fill="#acacac"/><ellipse cx="364.04" cy="118.96" rx="1.55" ry="3.35" fill="#484848"/><ellipse cx="391.01" cy="132.6" rx="2.28" ry="4.85" fill="#d3d3d3"/><ellipse cx="493.34" cy="124.36" rx="2.38" ry="2.68" fill="#b4b4b4"/><ellipse cx="363.09" cy="131.05" rx="2.52" ry="5.11" fill="#b7b7b7"/><ellipse cx="347.68" cy="133.42" rx="1.19" ry="5.34" fill="#d1d1d1"/><ellipse cx="404.2" cy="124.56" rx="1.03" ry="2.91" fill="#fafafa"/><ellipse cx="426.67" cy="128.75" rx="1.47" ry="4.19" fill="#949494"/><ellipse cx="464.66" cy="124.38" rx="1.68" ry="5.95" fill="#969696"/><ellipse cx="416.6" cy="120.08" rx="1.08" ry="2.69" fill="#afafaf"/><ellipse cx="427.5" cy="126.78" rx="1.41" ry="3.88" fill="#bfbfbf"/><ellipse cx="500.71" cy="119.46" rx="1.21" ry="3.09" fill="#303030"/><ellipse cx="431.47" cy="128.89" rx="2.58" ry="5.71" fill="#8b8b8b"/><ellipse cx="417.8" cy="126.49" rx="2.24" ry="4.29" fill="#979797"/><ellipse cx="347.36" cy="123.44" rx="1.93" ry="3.13" fill="#c3c3c3"/><ellipse cx="413.03" cy="133.37" rx="2.09" ry="5.91" fill="#b3b3b3"/><ellipse cx="434.28" cy="133.64" rx="1.59" ry="4.44" fill="#a0a0a0"/><ellipse cx="370.78" cy="122.59" rx="1.32" ry="4.02" fill="#acacac"/><ellipse cx="378.76" cy="118.76" rx="1.86" ry="3.77" fill="#8e8e8e"/><ellipse cx="487.15" cy="133" rx="2.17" ry="5.3" fill="#aeaeae"/><ellipse cx="530.21" cy="120.23" rx="2.39" ry="4.96" fill="#4c4c4c"/><ellipse cx="504.29" cy="126.84" rx="2.02" ry="3.36" fill="#d6d6d6"/><ellipse cx="366.92" cy="124.45" rx="2.3" ry="3.69" fill="#aaaaaa"/><ellipse cx="376.03" cy="128.35" rx="1.3" ry="4.73" fill="#969696"/><ellipse cx="510.44" cy="130.19" rx="1.14" ry="4.9" fill="#bfbfbf"/><ellipse cx="437.16" cy="120.26" rx="1.65" ry="4.8" fill="#d1d1d1"/><ellipse cx="453.46" cy="132.16" rx="1.8" ry="3.64" fill="#959595"/><ellipse cx="428.83" cy="124.31" rx="2.08" ry="5.09" fill="#b6b6b6"/><ellipse cx="486.78" cy="130.64" rx="2.13" ry="3.38" fill="#adadad"/><ellipse cx="352.71" cy="128.07" rx="1.14" ry="4.9" fill="#c7c7c7"/><ellipse cx="351.55" cy="124.74" rx="1.83" ry="3.37" fill="#7f7f7f"/><ellipse cx="524.72" cy="119.66" rx="2.12" ry="4" fill="#e1e1e1"/><ellipse cx="521.99" cy="126.01" rx="1.98" ry="3.79" fill="#c5c5c5"/><ellipse cx="532.59" cy="123.32" rx="0.95" ry="5.9" fill="#b3b3b3"/><ellipse cx="472.91" cy="127.28" rx="1.59" ry="5.75" fill="#2b2b2b"/><ellipse cx="384.51" cy="131.27" rx="0.91" ry="3.42" fill="#969696"/><ellipse cx="420.35" cy="129.78" rx="2.52" ry="3.35" fill="#aaaaaa"/><ellipse cx="483.62" cy="132.55" rx="0.92" ry="4.65" fill="#c9c9c9"/><ellipse cx="446.8" cy="128.03" rx="1.37" ry="5.63" fill="#898989"/><ellipse cx="523.63" cy="133.23" rx="2.31" ry="3.85" fill="#d2d2d2"/><ellipse cx="379.78" cy="125.86" rx="1.76" ry="2.99" fill="#858585"/><ellipse cx="373.11" cy="125.67" rx="1.05" ry="3.48" fill="#c5c5c5"/><ellipse cx="471.26" cy="123.84" rx="2" ry="3.1" fill="#d2d2d2"/><ellipse cx="512.71" cy="118.22" rx="1.41" ry="3.4" fill="#fdfdfd"/><ellipse cx="517.7" cy="129.02" rx="1.95" ry="4.64" fill="#cccccc"/><ellipse cx="393.63" cy="121.22" rx="1.03" ry="3.04" fill="#7e7e7e"/><ellipse cx="494.43" cy="123.15" rx="1.56" ry="5.09" fill="#6d6d6d"/><ellipse cx="357.92" cy="127.39" rx="1.61" ry="3.14" fill="#d6d6d6"/><ellipse cx="491.64" cy="122.3" rx="1.85" ry="4.09" fill="#a2a2a2"/><ellipse cx="506.79" cy="131.79" rx="2.32" ry="4.02" fill="#c8c8c8"/><ellipse cx="470.05" cy="133.78" rx="1.75" ry="3.54" fill="#f4f4f4"/><ellipse cx="450.11" cy="128.07" rx="2.5" ry="4.52" fill="#d0d0d0"/><ellipse cx="430.47" cy="125.25" rx="2.44" ry="3.5" fill="#888888"/><ellipse cx="445.18" cy="119.78" rx="1.18" ry="4.31" fill="#9d9d9d"/><ellipse cx="530.41" cy="119.81" rx="0.97" ry="4.91" fill="#b4b4b4"/><ellipse cx="355.61" cy="122.76" rx="2.06" ry="4.74" fill="#fcfcfc"/><ellipse cx="467.97" cy="133.17" rx="1.4" ry="5.11" fill="#767676"/><ellipse cx="414.97" cy="129.53" rx="2.34" ry="4.53" fill="#d7d7d7"/><ellipse cx="418.63" cy="131.76" rx="1.55" ry="4.68" fill="#6a6a6a"/><ellipse cx="438.58" cy="132.69" rx="2.1" ry="4.56" fill="#878787"/><ellipse cx="477.07" cy="123.3" rx="1.44" ry="4.63" fill="#969696"/><ellipse cx="497.12" cy="130.3" rx="1.99" ry="3.67" fill="#959595"/><ellipse cx="483.61" cy="131.78" rx="2.12" ry="4.46" fill="#969696"/><ellipse cx="373.05" cy="131.07" rx="1.96" ry="3.33" fill="#cecece"/><ellipse cx="433.35" cy="128.16" rx="2.2" ry="4.18" fill="#a8a8a8"/><ellipse cx="470.82" cy="120.07" rx="1.19" ry="3.8" fill="#c3c3c3"/><ellipse cx="341.23" cy="120.17" rx="2.1" ry="3.94" fill="#818181"/><ellipse cx="430.4" cy="120.8" rx="2.54" ry="5.73" fill="#a9a9a9"/><ellipse cx="355.57" cy="128.99" rx="2.28" ry="3.67" fill="#949494"/><ellipse cx="480.57" cy="128.17" rx="1.57" ry="3.53" fill="#8e8e8e"/><ellipse cx="354.64" cy="122.96" rx="1.71" ry="4.56" fill="#a4a4a4"/><ellipse cx="454.5" cy="119.8" rx="1.8" ry="2.8" fill="#bababa"/><ellipse cx="477.78" cy="121.2" rx="1.16" ry="5.88" fill="#6b6b6b"/><ellipse cx="348.81" cy="124.81" rx="1.36" ry="5.36" fill="#a6a6a6"/><ellipse cx="487.53" cy="128.78" rx="1.87" ry="2.7" fill="#999999"/><ellipse cx="413.73" cy="122.51" rx="1.86" ry="3.35" fill="#bdbdbd"/><ellipse cx="455.24" cy="129.98" rx="1.08" ry="2.63" fill="#9b9b9b"/><ellipse cx="373.79" cy="126.81" rx="2.01" ry="5.63" fill="#595959"/><ellipse cx="435.47" cy="128.55" rx="1.61" ry="2.75" fill="#ffffff"/><ellipse cx="339.28" cy="123.14" rx="1.17" ry="5.82" fill="#acacac"/><ellipse cx="356.79" cy="128.65" rx="1.76" ry="5.41" fill="#747474"/><ellipse cx="405.79" cy="125.82" rx="1.77" ry="3" fill="#e1e1e1"/><ellipse cx="368.58" cy="125.41" rx="1.87" ry="4.03" fill="#fafafa"/><ellipse cx="479.7" cy="126.39" rx="2.06" ry="5.17" fill="#818181"/><ellipse cx="434.52" cy="124.68" rx="2.46" ry="5.88" fill="#e2e2e2"/><ellipse cx="377.57" cy="132.54" rx="2" ry="4.33" fill="#a2a2a2"/><ellipse cx="369.46" cy="131.86" rx="1.39" ry="4.16" fill="#878787"/><ellipse cx="413.37" cy="124.81" rx="1.38" ry="5.65" fill="#a2a2a2"/><ellipse cx="395.33" cy="121.4" rx="2.26" ry="5.26" fill="#919191"/><ellipse cx="454.75" cy="123.29" rx="1.26" ry="3.81" fill="#6c6c6c"/><ellipse cx="391.76" cy="123.56" rx="1.1" ry="3.03" fill="#d1d1d1"/><ellipse cx="414.09" cy="132.83" rx="2.53" ry="2.86" fill="#707070"/><ellipse cx="338.57" cy="128.66" rx="1.96" ry="4.3" fill="#b3b3b3"/><ellipse cx="429.06" cy="118.62" rx="2.01" ry="5.22" fill="#828282"/><ellipse cx="534.21" cy="120.84" rx="2.46" ry="5.93" fill="#c6c6c6"/><ellipse cx="503.06" cy="126.99" rx="1.36" ry="4.9" fill="#777777"/><ellipse cx="367.67" cy="130.35" rx="1.22" ry="5.77" fill="#d6d6d6"/><ellipse cx="401.09" cy="130.82" rx="2.32" ry="3.91" fill="#6f6f6f"/><ellipse cx="523.35" cy="122.65" rx="1.36" ry="2.87" fill="#dfdfdf"/><ellipse cx="473.55" cy="119.96" rx="2.12" ry="3.51" fill="#acacac"/><ellipse cx="448.11" cy="127.33" rx="1.84" ry="3.9" fill="#e1e1e1"/><ellipse cx="378.92" cy="131.91" rx="1.56" ry="5.21" fill="#d7d7d7"/><ellipse cx="426.41" cy="125.61" rx="1.79" ry="3.96" fill="#c8c8c8"/><ellipse cx="431.32" cy="131.5" rx="1.34" ry="5.13" fill="#9d9d9d"/><ellipse cx="505.17" cy="131.25" rx="1.03" ry="5.75" fill="#7f7f7f"/><ellipse cx="466.6" cy="121.07" rx="2.32" ry="4.57" fill="#e6e6e6"/><ellipse cx="463.47" cy="119.92" rx="2.09" ry="3.17" fill="#9c9c9c"/><ellipse cx="342.02" cy="123.97" rx="1.93" ry="4.8" fill="#c3c3c3"/><ellipse cx="392.64" cy="119.52" rx="1.51" ry="5.24" fill="#7e7e7e"/><ellipse cx="518.79" cy="119.35" rx="1.12" ry="3.79" fill="#dadada"/><ellipse cx="347.39" cy="119.43" rx="2.3" ry="5.99" fill="#e4e4e4"/><ellipse cx="493.59" cy="129.24" rx="2.21" ry="3.97" fill="#9f9f9f"/><ellipse cx="361.78" cy="122.26" rx="1.98" ry="3.37" fill="#ffffff"/><ellipse cx="499.27" cy="130.62" rx="2.39" ry="4.72" fill="#d2d2d2"/><ellipse cx="402.26" cy="118.07" rx="1.57" ry="4.73" fill="#c7c7c7"/><ellipse cx="478.18" cy="122.15" rx="2.47" ry="4.41" fill="#cfcfcf"/><ellipse cx="521.97" cy="128.76" rx="2.06" ry="4.63" fill="#a7a7a7"/><ellipse cx="446.13" cy="129.55" rx="2.03" ry="3.25" fill="#7b7b7b"/><ellipse cx="479.99" cy="132.43" rx="1.29" ry="4.5" fill="#929292"/><ellipse cx="372.07" cy="124.07" rx="0.93" ry="3.74" fill="#7b7b7b"/><ellipse cx="397.02" cy="120.41" rx="1.08" ry="4.43" fill="#898989"/><ellipse cx="460.8" cy="124.43" rx="1.8" ry="3.92" fill="#bbbbbb"/><ellipse cx="339.51" cy="122.53" rx="2.16" ry="3.71" fill="#989898"/><ellipse cx="345.74" cy="129.25" rx="2.3" ry="3.35" fill="#a6a6a6"/><ellipse cx="389.49" cy="124.98" rx="2.46" ry="4.94" fill="#eaeaea"/><ellipse cx="533.75" cy="128.88" rx="2.28" ry="5.44" fill="#b9b9b9"/><ellipse cx="490.41" cy="122.31" rx="2.17" ry="4.84" fill="#9f9f9f"/><ellipse cx="508.82" cy="118.19" rx="1.76" ry="5.6" fill="#b5b5b5"/><ellipse cx="412.72" cy="119.73" rx="1.22" ry="3.43" fill="#d0d0d0"/><ellipse cx="445.49" cy="122.92" rx="2.41" ry="4.64" fill="#7e7e7e"/><ellipse cx="466.33" cy="118.41" rx="1.79" ry="4.34" fill="#767676"/><ellipse cx="467.51" cy="118.37" rx="1.23" ry="5.09" fill="#999999"/><ellipse cx="479.43" cy="126.63" rx="1.69" ry="4.57" fill="#959595"/><ellipse cx="338.11" cy="133.01" rx="2.07" ry="3.14" fill="#c0c0c0"/><ellipse cx="519.8" cy="131.39" rx="1.99" ry="4.34" fill="#dadada"/><ellipse cx="373.41" cy="125.14" rx="2.39" ry="3.77" fill="#b2b2b2"/><ellipse cx="440.03" cy="131" rx="2.4" ry="6" fill="#7d7d7d"/><ellipse cx="358.75" cy="125.29" rx="1.84" ry="4.87" fill="#ffffff"/><ellipse cx="409.2" cy="124.02" rx="1.93" ry="3.79" fill="#888888"/><ellipse cx="374.16" cy="128.61" rx="1.43" ry="3.22" fill="#c0c0c0"/><ellipse cx="413.24" cy="122.57" rx="1.05" ry="4.32" fill="#cacaca"/><ellipse cx="452.67" cy="122.98" rx="1.7" ry="2.95" fill="#b7b7b7"/><ellipse cx="521.24" cy="129.75" rx="1.61" ry="3.2" fill="#949494"/><ellipse cx="456.21" cy="127.93" rx="2.56" ry="3.73" fill="#bdbdbd"/><ellipse cx="422.84" cy="133.6" rx="2.55" ry="3.95" fill="#a3a3a3"/><ellipse cx="356.29" cy="126.08" rx="1.07" ry="5.46" fill="#adadad"/><ellipse cx="402.34" cy="123.12" rx="2.12" ry="3.63" fill="#bababa"/><ellipse cx="509.53" cy="125.04" rx="2.46" ry="5.71" fill="#6b6b6b"/><ellipse cx="383.15" cy="133.01" rx="1.85" ry="3.74" fill="#848484"/><ellipse cx="428.85" cy="118.55" rx="1.97" ry="3.88" fill="#bfbfbf"/><ellipse cx="380.74" cy="130.11" rx="2.43" ry="2.53" fill="#8f8f8f"/><ellipse cx="352.87" cy="118.56" rx="2.57" ry="3.6" fill="#8d8d8d"/><ellipse cx="515.29" cy="128.28" rx="1.49" ry="4.96" fill="#8e8e8e"/><ellipse cx="464.63" cy="124.19" rx="2.18" ry="3.81" fill="#5c5c5c"/><ellipse cx="392.9" cy="133.58" rx="1.1" ry="2.68" fill="#bdbdbd"/><ellipse cx="361.82" cy="123.86" rx="2.5" ry="5.82" fill="#c6c6c6"/><ellipse cx="395.7" cy="124.43" rx="2.51" ry="3.43" fill="#9c9c9c"/><ellipse cx="463.35" cy="132.07" rx="1.37" ry="5.75" fill="#d0d0d0"/><ellipse cx="415.53" cy="132.97" rx="2.14" ry="3.29" fill="#c0c0c0"/><ellipse cx="386.91" cy="132.45" rx="1.29" ry="5.57" fill="#b5b5b5"/><ellipse cx="513.11" cy="130.69" rx="2.15" ry="3.44" fill="#696969"/><ellipse cx="460.91" cy="123.56" rx="2.58" ry="5.85" fill="#aaaaaa"/><ellipse cx="516.22" cy="123.35" rx="1.19" ry="3.67" fill="#c7c7c7"/><ellipse cx="515.06" cy="131.42" rx="1.31" ry="5.36" fill="#acacac"/><ellipse cx="452.4" cy="125.92" rx="1.7" ry="3.19" fill="#aaaaaa"/><ellipse cx="437.25" cy="120.81" rx="1.12" ry="3.12" fill="#d8d8d8"/><ellipse cx="371.79" cy="112.45" rx="1.45" ry="3.46" fill="#f0f0f0"/><ellipse cx="430.49" cy="118.7" rx="0.98" ry="3.33" fill="#dcdcdc"/><ellipse cx="348.01" cy="131.56" rx="0.85" ry="3.22" fill="#ececec"/><ellipse cx="365.11" cy="124.26" rx="1.18" ry="3.39" fill="#dadada"/><ellipse cx="364.56" cy="113.51" rx="1.43" ry="4.37" fill="#e0e0e0"/><ellipse cx="519.73" cy="131.59" rx="1.25" ry="3.2" fill="#e3e3e3"/><ellipse cx="447.53" cy="128.62" rx="1.37" ry="4.15" fill="#efefef"/><ellipse cx="382.12" cy="113.14" rx="1.26" ry="3.38" fill="#f1f1f1"/><ellipse cx="350.35" cy="118.1" rx="1.39" ry="3.12" fill="#e4e4e4"/><ellipse cx="402.61" cy="132.05" rx="1.32" ry="4.1" fill="#e4e4e4"/><ellipse cx="494.28" cy="108.13" rx="0.88" ry="3.56" fill="#e8e8e8"/><ellipse cx="427.38" cy="131.97" rx="1" ry="2.68" fill="#dddddd"/><ellipse cx="483.57" cy="128.41" rx="1.36" ry="3.56" fill="#e9e9e9"/><ellipse cx="419.42" cy="112.18" rx="0.93" ry="2.07" fill="#ededed"/><ellipse cx="387.76" cy="122.07" rx="1.47" ry="2.59" fill="#eeeeee"/><ellipse cx="388.95" cy="109.65" rx="1.15" ry="3.38" fill="#d4d4d4"/><ellipse cx="525.22" cy="122.42" rx="1.19" ry="4.23" fill="#f6f6f6"/><ellipse cx="440.54" cy="123.15" rx="0.99" ry="3.24" fill="#f1f1f1"/><ellipse cx="441.82" cy="113.89" rx="1.18" ry="2.71" fill="#dfdfdf"/><ellipse cx="398.66" cy="127.62" rx="0.76" ry="4.49" fill="#e2e2e2"/><ellipse cx="458.81" cy="113.8" rx="1.25" ry="4.14" fill="#f0f0f0"/><ellipse cx="429.93" cy="132.59" rx="1.17" ry="2.92" fill="#dadada"/><ellipse cx="503.26" cy="125.48" rx="0.95" ry="3.27" fill="#e7e7e7"/><ellipse cx="489.38" cy="130.5" rx="1.28" ry="3.78" fill="#e6e6e6"/><ellipse cx="515.23" cy="122.88" rx="1.42" ry="3.87" fill="#e2e2e2"/><ellipse cx="495.4" cy="126.28" rx="1.18" ry="2.7" fill="#e6e6e6"/><ellipse cx="516.03" cy="127.94" rx="0.9" ry="2.26" fill="#e5e5e5"/><ellipse cx="342.1" cy="123.6" rx="1.27" ry="3.06" fill="#efefef"/><ellipse cx="464.14" cy="132.81" rx="1.25" ry="3.39" fill="#d7d7d7"/><ellipse cx="509.49" cy="110.93" rx="0.92" ry="3.62" fill="#dfdfdf"/><ellipse cx="518.04" cy="131.65" rx="1.44" ry="3.97" fill="#e6e6e6"/><ellipse cx="479.12" cy="111.89" rx="0.96" ry="4.49" fill="#e4e4e4"/><ellipse cx="518.65" cy="112.15" rx="1.18" ry="2.46" fill="#f3f3f3"/><ellipse cx="518.32" cy="118.91" rx="0.71" ry="2.83" fill="#f1f1f1"/><ellipse cx="427.74" cy="128.04" rx="1.49" ry="2.7" fill="#e9e9e9"/><ellipse cx="348.61" cy="115.69" rx="0.91" ry="2.52" fill="#e4e4e4"/><ellipse cx="394.66" cy="111.97" rx="0.82" ry="3.81" fill="#dedede"/><ellipse cx="414.36" cy="125.62" rx="1.21" ry="3.15" fill="#d7d7d7"/><ellipse cx="398.98" cy="118.8" rx="1.24" ry="2.05" fill="#e9e9e9"/></g>
<g filter="url(#bl08)"><path d="M340 100 Q341 92.5 350 92 Q362 91.5 366 97 L366 112 L340 112Z" fill="#c9c9c9"/><path d="M405 99 Q410 95 420 96 Q428 97 430 101 L430 110 L405 110Z" fill="#c2c2c2"/></g>
<rect x="339.5" y="135.8" width="192.9" height="1.3" fill="#555"/>
<rect x="339.5" y="137.1" width="192.9" height="4.7" fill="#858585"/>
<g filter="url(#bl05)"><circle cx="413.2" cy="138.63" r="0.75" fill="#a7a7a7"/><circle cx="482.04" cy="140.2" r="0.81" fill="#929292"/><circle cx="387.11" cy="139.84" r="0.56" fill="#808080"/><circle cx="342.46" cy="140.44" r="0.58" fill="#8b8b8b"/><circle cx="362.79" cy="138.12" r="0.74" fill="#909090"/><circle cx="506.09" cy="138.23" r="0.94" fill="#a1a1a1"/><circle cx="415.5" cy="140.86" r="0.76" fill="#969696"/><circle cx="426.88" cy="140.38" r="0.94" fill="#696969"/><circle cx="438.95" cy="138.81" r="0.54" fill="#adadad"/><circle cx="396.39" cy="140.08" r="0.51" fill="#6f6f6f"/><circle cx="405.95" cy="138.97" r="0.72" fill="#737373"/><circle cx="471.74" cy="138.85" r="0.67" fill="#919191"/><circle cx="519.66" cy="139.59" r="0.98" fill="#b1b1b1"/><circle cx="440" cy="140.02" r="0.91" fill="#a8a8a8"/><circle cx="417.81" cy="140.55" r="0.81" fill="#9a9a9a"/><circle cx="420.62" cy="139.26" r="0.5" fill="#a9a9a9"/><circle cx="430.97" cy="140.87" r="0.76" fill="#9e9e9e"/><circle cx="354.25" cy="137.63" r="0.73" fill="#949494"/><circle cx="381.57" cy="139.51" r="0.55" fill="#898989"/><circle cx="440.12" cy="138.58" r="0.72" fill="#b7b7b7"/><circle cx="373.93" cy="139.79" r="0.98" fill="#8c8c8c"/><circle cx="411.88" cy="139.74" r="0.56" fill="#b2b2b2"/><circle cx="483.8" cy="138.27" r="0.69" fill="#707070"/><circle cx="466.44" cy="139.67" r="0.87" fill="#a6a6a6"/><circle cx="430.08" cy="137.55" r="0.9" fill="#bcbcbc"/><circle cx="495.22" cy="139.36" r="0.82" fill="#a3a3a3"/><circle cx="488.06" cy="138.49" r="0.97" fill="#adadad"/><circle cx="397.79" cy="138.47" r="0.72" fill="#949494"/><circle cx="502.49" cy="139.1" r="0.86" fill="#797979"/><circle cx="429.98" cy="138.64" r="0.7" fill="#878787"/><circle cx="384.19" cy="139.21" r="0.87" fill="#939393"/><circle cx="418.36" cy="140.2" r="0.83" fill="#a3a3a3"/><circle cx="389.09" cy="139.65" r="0.65" fill="#7e7e7e"/><circle cx="491.12" cy="138.55" r="0.87" fill="#939393"/><circle cx="494.97" cy="138.52" r="0.9" fill="#555555"/><circle cx="467.71" cy="137.53" r="0.89" fill="#8a8a8a"/><circle cx="478.06" cy="139.71" r="0.53" fill="#686868"/><circle cx="475.74" cy="140.33" r="0.99" fill="#888888"/><circle cx="421.63" cy="138.78" r="0.83" fill="#828282"/><circle cx="447.45" cy="138.33" r="0.6" fill="#979797"/><circle cx="445.28" cy="140.22" r="0.83" fill="#b6b6b6"/><circle cx="431.37" cy="137.54" r="1" fill="#5f5f5f"/><circle cx="498.38" cy="138.2" r="0.76" fill="#898989"/><circle cx="466.23" cy="137.78" r="0.54" fill="#737373"/><circle cx="503.27" cy="139.13" r="0.56" fill="#c6c6c6"/><circle cx="359.89" cy="138.59" r="0.78" fill="#898989"/><circle cx="474.38" cy="138.97" r="0.9" fill="#7d7d7d"/><circle cx="498.15" cy="140.66" r="0.63" fill="#767676"/><circle cx="509.67" cy="138.95" r="0.7" fill="#7a7a7a"/><circle cx="445.39" cy="140.34" r="0.83" fill="#7a7a7a"/><circle cx="422.53" cy="139.3" r="0.93" fill="#787878"/><circle cx="457.46" cy="139.57" r="0.65" fill="#b2b2b2"/><circle cx="377.35" cy="139.2" r="0.53" fill="#989898"/><circle cx="394.54" cy="139.16" r="0.84" fill="#b8b8b8"/><circle cx="463.09" cy="140.21" r="0.58" fill="#929292"/><circle cx="359.05" cy="139.71" r="0.7" fill="#8a8a8a"/><circle cx="361.96" cy="138.77" r="0.53" fill="#808080"/><circle cx="376.85" cy="140.34" r="0.52" fill="#767676"/><circle cx="518.83" cy="138.03" r="0.52" fill="#bababa"/><circle cx="493.21" cy="139.24" r="0.56" fill="#929292"/><circle cx="425.23" cy="140.87" r="0.61" fill="#8b8b8b"/><circle cx="475.88" cy="140.55" r="0.84" fill="#bdbdbd"/><circle cx="453.04" cy="139.36" r="0.55" fill="#9b9b9b"/><circle cx="409.8" cy="139.69" r="0.66" fill="#a4a4a4"/><circle cx="531.6" cy="137.55" r="0.82" fill="#8b8b8b"/><circle cx="523.67" cy="140.37" r="0.92" fill="#afafaf"/><circle cx="405.83" cy="139.27" r="0.96" fill="#7a7a7a"/><circle cx="520.79" cy="140.35" r="0.74" fill="#929292"/><circle cx="439.8" cy="138.44" r="0.67" fill="#aaaaaa"/><circle cx="442.34" cy="140.57" r="0.74" fill="#898989"/></g>
<rect x="339.5" y="141.8" width="192.9" height="17" fill="#4e4e4e"/>
<rect x="339.5" y="141.8" width="192.9" height="1.2" fill="#5c5c5c"/>
</g>
<text x="494.6" y="151.7" font-size="9.4" fill="#fff" font-weight="normal" stroke="#fff" stroke-width="0.15">500 nm</text>
<path d="M489 155.4H527.6" stroke="#fff" stroke-width="1.3"/>
<path d="M173.6 46.6H245.2M293.8 46.6H339.3" stroke="#fff" stroke-width="3" opacity="0.85"/>
<path d="M173.6 46.6H245.2M293.8 46.6H365.4" stroke="#e8141c" stroke-width="1.25"/>
<circle cx="173.6" cy="46.6" r="1.6" fill="#e8141c"/><circle cx="365.4" cy="46.6" r="1.6" fill="#e8141c"/>
<text x="250.4" y="50.6" font-size="11" fill="#ee1c24">Carbon</text>
<path d="M184.7 74.7H245.2M293.8 74.7H339.3" stroke="#fff" stroke-width="3" opacity="0.85"/>
<path d="M184.7 74.7H245.2M293.8 74.7H353.4" stroke="#2db34a" stroke-width="1.25"/>
<circle cx="184.7" cy="74.7" r="1.6" fill="#2db34a"/><circle cx="353.4" cy="74.7" r="1.6" fill="#2db34a"/>
<text x="248.5" y="78.7" font-size="11" fill="#4a8a2e">CsPbBr<tspan font-size="7.5" dy="2.2">3</tspan></text>
<path d="M194.5 97.5H245.2M293.8 97.5H339.3" stroke="#fff" stroke-width="3" opacity="0.85"/>
<path d="M194.5 97.5H245.2M293.8 97.5H343.3" stroke="#7a33a0" stroke-width="1.25"/>
<circle cx="194.5" cy="97.5" r="1.6" fill="#7a33a0"/><circle cx="343.3" cy="97.5" r="1.6" fill="#7a33a0"/>
<text x="254.4" y="101.5" font-size="11" fill="#6a2a9a">c-TiO<tspan font-size="7.5" dy="2.2">2</tspan></text>
<path d="M199.5 127H245.2M293.8 127H339.3" stroke="#fff" stroke-width="3" opacity="0.85"/>
<path d="M199.5 127H245.2M293.8 127H339.5" stroke="#29abe2" stroke-width="1.25"/>
<circle cx="199.5" cy="127" r="1.6" fill="#29abe2"/><circle cx="339.5" cy="127" r="1.6" fill="#29abe2"/>
<text x="260" y="131" font-size="11" fill="#2a6ebb">FTO</text>
<rect x="36.5" y="186.4" width="142.3" height="114.2" fill="none" stroke="#5a5a5a" stroke-width="1.05"/>
<path d="M36.5 300.6v-2.2M56.83 300.6v-2.2M77.16 300.6v-2.2M97.49 300.6v-2.2M117.81 300.6v-2.2M138.14 300.6v-2.2M158.47 300.6v-2.2M178.8 300.6v-2.2M46.66 300.6v-1.3M66.99 300.6v-1.3M87.32 300.6v-1.3M107.65 300.6v-1.3M127.98 300.6v-1.3M148.31 300.6v-1.3M168.64 300.6v-1.3M36.5 300.6h2.2M36.5 275.22h2.2M36.5 249.84h2.2M36.5 224.47h2.2M36.5 199.09h2.2M36.5 287.91h1.3M36.5 262.53h1.3M36.5 237.16h1.3M36.5 211.78h1.3" stroke="#5a5a5a" stroke-width="0.8" fill="none"/>
<g font-size="5.0" fill="#333" stroke="#333" stroke-width="0.18"><text x="36.5" y="305.9" text-anchor="middle">0.0</text><text x="56.83" y="305.9" text-anchor="middle">0.2</text><text x="77.16" y="305.9" text-anchor="middle">0.4</text><text x="97.49" y="305.9" text-anchor="middle">0.6</text><text x="117.81" y="305.9" text-anchor="middle">0.8</text><text x="138.14" y="305.9" text-anchor="middle">1.0</text><text x="158.47" y="305.9" text-anchor="middle">1.2</text><text x="178.8" y="305.9" text-anchor="middle">1.4</text><text x="34.9" y="302.3" text-anchor="end">0</text><text x="34.9" y="276.92" text-anchor="end">1</text><text x="34.9" y="251.54" text-anchor="end">2</text><text x="34.9" y="226.17" text-anchor="end">3</text><text x="34.9" y="200.79" text-anchor="end">4</text></g>
<path d="M36.5 203.91 L37.14 203.98 L37.78 204.04 L38.41 204.11 L39.05 204.18 L39.69 204.24 L40.33 204.32 L40.97 204.39 L41.6 204.46 L42.24 204.53 L42.88 204.61 L43.52 204.69 L44.16 204.76 L44.79 204.84 L45.43 204.92 L46.07 205 L46.71 205.09 L47.35 205.17 L47.98 205.25 L48.62 205.34 L49.26 205.42 L49.9 205.51 L50.53 205.6 L51.17 205.69 L51.81 205.78 L52.45 205.87 L53.09 205.96 L53.72 206.06 L54.36 206.15 L55 206.25 L55.64 206.34 L56.28 206.44 L56.91 206.54 L57.55 206.64 L58.19 206.74 L58.83 206.84 L59.47 206.94 L60.1 207.04 L60.74 207.15 L61.38 207.25 L62.02 207.36 L62.66 207.46 L63.29 207.57 L63.93 207.68 L64.57 207.79 L65.21 207.9 L65.85 208.01 L66.48 208.12 L67.12 208.23 L67.76 208.34 L68.4 208.45 L69.04 208.57 L69.67 208.68 L70.31 208.8 L70.95 208.91 L71.59 209.03 L72.23 209.15 L72.86 209.26 L73.5 209.38 L74.14 209.5 L74.78 209.62 L75.41 209.74 L76.05 209.86 L76.69 209.98 L77.33 210.1 L77.97 210.23 L78.6 210.35 L79.24 210.47 L79.88 210.6 L80.52 210.72 L81.16 210.85 L81.79 210.97 L82.43 211.1 L83.07 211.22 L83.71 211.35 L84.35 211.48 L84.98 211.61 L85.62 211.74 L86.26 211.86 L86.9 211.99 L87.54 212.12 L88.17 212.25 L88.81 212.38 L89.45 212.51 L90.09 212.64 L90.73 212.77 L91.36 212.9 L92 213.03 L92.64 213.17 L93.28 213.3 L93.92 213.43 L94.55 213.56 L95.19 213.7 L95.83 213.83 L96.47 213.97 L97.11 214.11 L97.74 214.24 L98.38 214.38 L99.02 214.52 L99.66 214.66 L100.29 214.81 L100.93 214.95 L101.57 215.1 L102.21 215.25 L102.85 215.39 L103.48 215.55 L104.12 215.7 L104.76 215.85 L105.4 216.01 L106.04 216.17 L106.67 216.33 L107.31 216.5 L107.95 216.66 L108.59 216.83 L109.23 217 L109.86 217.17 L110.5 217.35 L111.14 217.53 L111.78 217.71 L112.42 217.9 L113.05 218.08 L113.69 218.28 L114.33 218.47 L114.97 218.67 L115.61 218.87 L116.24 219.07 L116.88 219.28 L117.52 219.49 L118.16 219.7 L118.8 219.92 L119.43 220.15 L120.07 220.37 L120.71 220.6 L121.35 220.84 L121.99 221.07 L122.62 221.32 L123.26 221.56 L123.9 221.82 L124.54 222.09 L125.17 222.37 L125.81 222.66 L126.45 222.96 L127.09 223.27 L127.73 223.6 L128.36 223.93 L129 224.28 L129.64 224.63 L130.28 225 L130.92 225.38 L131.55 225.78 L132.19 226.18 L132.83 226.6 L133.47 227.03 L134.11 227.47 L134.74 227.92 L135.38 228.39 L136.02 228.87 L136.66 229.36 L137.3 229.87 L137.93 230.38 L138.57 230.92 L139.21 231.5 L139.85 232.11 L140.49 232.76 L141.12 233.45 L141.76 234.18 L142.4 234.94 L143.04 235.75 L143.68 236.59 L144.31 237.47 L144.95 238.4 L145.59 239.36 L146.23 240.36 L146.87 241.46 L147.5 242.67 L148.14 243.96 L148.78 245.34 L149.42 246.79 L150.05 248.3 L150.69 249.86 L151.33 251.47 L151.97 253.11 L152.61 254.77 L153.24 256.46 L153.88 258.2 L154.52 259.99 L155.16 261.85 L155.8 263.79 L156.43 265.83 L157.07 267.98 L157.71 270.26 L158.35 272.68 L158.99 275.25 L159.62 278.08 L160.26 281.25 L160.9 284.7 L161.54 288.4 L162.18 292.31 L162.81 296.39 L163.45 300.6" stroke="#ff3030" stroke-width="1.25" fill="none" stroke-linejoin="round"/>
<path d="M36.5 203.91m-1.35 0a1.35 1.35 0 1 0 2.7 0a1.35 1.35 0 1 0 -2.7 0M39.55 204.23m-1.35 0a1.35 1.35 0 1 0 2.7 0a1.35 1.35 0 1 0 -2.7 0M42.6 204.58m-1.35 0a1.35 1.35 0 1 0 2.7 0a1.35 1.35 0 1 0 -2.7 0M45.65 204.95m-1.35 0a1.35 1.35 0 1 0 2.7 0a1.35 1.35 0 1 0 -2.7 0M48.7 205.35m-1.35 0a1.35 1.35 0 1 0 2.7 0a1.35 1.35 0 1 0 -2.7 0M51.75 205.77m-1.35 0a1.35 1.35 0 1 0 2.7 0a1.35 1.35 0 1 0 -2.7 0M54.8 206.22m-1.35 0a1.35 1.35 0 1 0 2.7 0a1.35 1.35 0 1 0 -2.7 0M57.84 206.68m-1.35 0a1.35 1.35 0 1 0 2.7 0a1.35 1.35 0 1 0 -2.7 0M60.89 207.17m-1.35 0a1.35 1.35 0 1 0 2.7 0a1.35 1.35 0 1 0 -2.7 0M63.94 207.68m-1.35 0a1.35 1.35 0 1 0 2.7 0a1.35 1.35 0 1 0 -2.7 0M66.99 208.21m-1.35 0a1.35 1.35 0 1 0 2.7 0a1.35 1.35 0 1 0 -2.7 0M70.04 208.75m-1.35 0a1.35 1.35 0 1 0 2.7 0a1.35 1.35 0 1 0 -2.7 0M73.09 209.31m-1.35 0a1.35 1.35 0 1 0 2.7 0a1.35 1.35 0 1 0 -2.7 0M76.14 209.88m-1.35 0a1.35 1.35 0 1 0 2.7 0a1.35 1.35 0 1 0 -2.7 0M79.19 210.46m-1.35 0a1.35 1.35 0 1 0 2.7 0a1.35 1.35 0 1 0 -2.7 0M82.24 211.06m-1.35 0a1.35 1.35 0 1 0 2.7 0a1.35 1.35 0 1 0 -2.7 0M85.29 211.67m-1.35 0a1.35 1.35 0 1 0 2.7 0a1.35 1.35 0 1 0 -2.7 0M88.34 212.29m-1.35 0a1.35 1.35 0 1 0 2.7 0a1.35 1.35 0 1 0 -2.7 0M91.39 212.91m-1.35 0a1.35 1.35 0 1 0 2.7 0a1.35 1.35 0 1 0 -2.7 0M94.44 213.54m-1.35 0a1.35 1.35 0 1 0 2.7 0a1.35 1.35 0 1 0 -2.7 0M97.49 214.19m-1.35 0a1.35 1.35 0 1 0 2.7 0a1.35 1.35 0 1 0 -2.7 0M100.54 214.86m-1.35 0a1.35 1.35 0 1 0 2.7 0a1.35 1.35 0 1 0 -2.7 0M103.58 215.57m-1.35 0a1.35 1.35 0 1 0 2.7 0a1.35 1.35 0 1 0 -2.7 0M106.63 216.32m-1.35 0a1.35 1.35 0 1 0 2.7 0a1.35 1.35 0 1 0 -2.7 0M109.68 217.12m-1.35 0a1.35 1.35 0 1 0 2.7 0a1.35 1.35 0 1 0 -2.7 0M112.73 217.99m-1.35 0a1.35 1.35 0 1 0 2.7 0a1.35 1.35 0 1 0 -2.7 0M115.78 218.92m-1.35 0a1.35 1.35 0 1 0 2.7 0a1.35 1.35 0 1 0 -2.7 0M118.83 219.94m-1.35 0a1.35 1.35 0 1 0 2.7 0a1.35 1.35 0 1 0 -2.7 0M121.88 221.03m-1.35 0a1.35 1.35 0 1 0 2.7 0a1.35 1.35 0 1 0 -2.7 0M124.93 222.26m-1.35 0a1.35 1.35 0 1 0 2.7 0a1.35 1.35 0 1 0 -2.7 0M127.98 223.73m-1.35 0a1.35 1.35 0 1 0 2.7 0a1.35 1.35 0 1 0 -2.7 0M131.03 225.45m-1.35 0a1.35 1.35 0 1 0 2.7 0a1.35 1.35 0 1 0 -2.7 0M134.08 227.45m-1.35 0a1.35 1.35 0 1 0 2.7 0a1.35 1.35 0 1 0 -2.7 0M137.13 229.73m-1.35 0a1.35 1.35 0 1 0 2.7 0a1.35 1.35 0 1 0 -2.7 0M140.18 232.44m-1.35 0a1.35 1.35 0 1 0 2.7 0a1.35 1.35 0 1 0 -2.7 0M143.23 235.99m-1.35 0a1.35 1.35 0 1 0 2.7 0a1.35 1.35 0 1 0 -2.7 0M146.27 240.44m-1.35 0a1.35 1.35 0 1 0 2.7 0a1.35 1.35 0 1 0 -2.7 0M149.32 246.57m-1.35 0a1.35 1.35 0 1 0 2.7 0a1.35 1.35 0 1 0 -2.7 0M152.37 254.16m-1.35 0a1.35 1.35 0 1 0 2.7 0a1.35 1.35 0 1 0 -2.7 0M155.42 262.64m-1.35 0a1.35 1.35 0 1 0 2.7 0a1.35 1.35 0 1 0 -2.7 0M158.47 273.16m-1.35 0a1.35 1.35 0 1 0 2.7 0a1.35 1.35 0 1 0 -2.7 0M161.52 288.3m-1.35 0a1.35 1.35 0 1 0 2.7 0a1.35 1.35 0 1 0 -2.7 0M163.45 300.6m-1.35 0a1.35 1.35 0 1 0 2.7 0a1.35 1.35 0 1 0 -2.7 0" fill="#f01818"/>
<path d="M36.5 226.24 L37.06 226.36 L37.62 226.48 L38.19 226.6 L38.75 226.72 L39.31 226.84 L39.87 226.97 L40.43 227.09 L40.99 227.22 L41.56 227.34 L42.12 227.47 L42.68 227.59 L43.24 227.72 L43.8 227.85 L44.37 227.98 L44.93 228.11 L45.49 228.24 L46.05 228.37 L46.61 228.5 L47.18 228.63 L47.74 228.77 L48.3 228.9 L48.86 229.04 L49.42 229.17 L49.98 229.31 L50.55 229.44 L51.11 229.58 L51.67 229.72 L52.23 229.86 L52.79 230 L53.36 230.14 L53.92 230.28 L54.48 230.42 L55.04 230.56 L55.6 230.71 L56.16 230.85 L56.73 230.99 L57.29 231.14 L57.85 231.28 L58.41 231.43 L58.97 231.58 L59.54 231.72 L60.1 231.87 L60.66 232.02 L61.22 232.17 L61.78 232.32 L62.34 232.47 L62.91 232.62 L63.47 232.77 L64.03 232.92 L64.59 233.08 L65.15 233.23 L65.72 233.38 L66.28 233.54 L66.84 233.69 L67.4 233.85 L67.96 234 L68.53 234.16 L69.09 234.31 L69.65 234.47 L70.21 234.63 L70.77 234.79 L71.33 234.95 L71.9 235.1 L72.46 235.26 L73.02 235.42 L73.58 235.58 L74.14 235.75 L74.71 235.91 L75.27 236.07 L75.83 236.23 L76.39 236.39 L76.95 236.56 L77.51 236.72 L78.08 236.88 L78.64 237.05 L79.2 237.21 L79.76 237.38 L80.32 237.55 L80.89 237.71 L81.45 237.88 L82.01 238.04 L82.57 238.21 L83.13 238.38 L83.69 238.55 L84.26 238.72 L84.82 238.88 L85.38 239.05 L85.94 239.22 L86.5 239.39 L87.07 239.56 L87.63 239.73 L88.19 239.9 L88.75 240.07 L89.31 240.24 L89.88 240.41 L90.44 240.58 L91 240.75 L91.56 240.92 L92.12 241.09 L92.68 241.27 L93.25 241.44 L93.81 241.61 L94.37 241.78 L94.93 241.95 L95.49 242.12 L96.06 242.3 L96.62 242.47 L97.18 242.65 L97.74 242.83 L98.3 243 L98.86 243.18 L99.43 243.36 L99.99 243.54 L100.55 243.73 L101.11 243.91 L101.67 244.1 L102.24 244.28 L102.8 244.47 L103.36 244.67 L103.92 244.86 L104.48 245.05 L105.05 245.25 L105.61 245.45 L106.17 245.65 L106.73 245.86 L107.29 246.06 L107.85 246.27 L108.42 246.48 L108.98 246.7 L109.54 246.92 L110.1 247.14 L110.66 247.36 L111.23 247.58 L111.79 247.81 L112.35 248.05 L112.91 248.28 L113.47 248.52 L114.03 248.76 L114.6 249.01 L115.16 249.26 L115.72 249.51 L116.28 249.76 L116.84 250.02 L117.41 250.28 L117.97 250.55 L118.53 250.82 L119.09 251.1 L119.65 251.38 L120.21 251.67 L120.78 251.96 L121.34 252.26 L121.9 252.57 L122.46 252.89 L123.02 253.22 L123.59 253.55 L124.15 253.9 L124.71 254.26 L125.27 254.62 L125.83 255 L126.4 255.39 L126.96 255.79 L127.52 256.21 L128.08 256.63 L128.64 257.07 L129.2 257.53 L129.77 258.01 L130.33 258.52 L130.89 259.04 L131.45 259.59 L132.01 260.16 L132.58 260.75 L133.14 261.38 L133.7 262.02 L134.26 262.7 L134.82 263.41 L135.38 264.14 L135.95 264.9 L136.51 265.7 L137.07 266.52 L137.63 267.38 L138.19 268.28 L138.76 269.21 L139.32 270.17 L139.88 271.24 L140.44 272.44 L141 273.74 L141.57 275.16 L142.13 276.67 L142.69 278.27 L143.25 279.95 L143.81 281.7 L144.37 283.53 L144.94 285.51 L145.5 287.67 L146.06 290 L146.62 292.48 L147.18 295.08 L147.75 297.79 L148.31 300.6" stroke="#2fa32f" stroke-width="1.25" fill="none" stroke-linejoin="round"/>
<path d="M36.5 226.24m-1.35 0a1.35 1.35 0 1 0 2.7 0a1.35 1.35 0 1 0 -2.7 0M39.04 226.79m-1.35 0a1.35 1.35 0 1 0 2.7 0a1.35 1.35 0 1 0 -2.7 0M41.58 227.35m-1.35 0a1.35 1.35 0 1 0 2.7 0a1.35 1.35 0 1 0 -2.7 0M44.12 227.92m-1.35 0a1.35 1.35 0 1 0 2.7 0a1.35 1.35 0 1 0 -2.7 0M46.66 228.51m-1.35 0a1.35 1.35 0 1 0 2.7 0a1.35 1.35 0 1 0 -2.7 0M49.21 229.12m-1.35 0a1.35 1.35 0 1 0 2.7 0a1.35 1.35 0 1 0 -2.7 0M51.75 229.74m-1.35 0a1.35 1.35 0 1 0 2.7 0a1.35 1.35 0 1 0 -2.7 0M54.29 230.37m-1.35 0a1.35 1.35 0 1 0 2.7 0a1.35 1.35 0 1 0 -2.7 0M56.83 231.02m-1.35 0a1.35 1.35 0 1 0 2.7 0a1.35 1.35 0 1 0 -2.7 0M59.37 231.68m-1.35 0a1.35 1.35 0 1 0 2.7 0a1.35 1.35 0 1 0 -2.7 0M61.91 232.35m-1.35 0a1.35 1.35 0 1 0 2.7 0a1.35 1.35 0 1 0 -2.7 0M64.45 233.04m-1.35 0a1.35 1.35 0 1 0 2.7 0a1.35 1.35 0 1 0 -2.7 0M66.99 233.73m-1.35 0a1.35 1.35 0 1 0 2.7 0a1.35 1.35 0 1 0 -2.7 0M69.53 234.44m-1.35 0a1.35 1.35 0 1 0 2.7 0a1.35 1.35 0 1 0 -2.7 0M72.08 235.16m-1.35 0a1.35 1.35 0 1 0 2.7 0a1.35 1.35 0 1 0 -2.7 0M74.62 235.88m-1.35 0a1.35 1.35 0 1 0 2.7 0a1.35 1.35 0 1 0 -2.7 0M77.16 236.62m-1.35 0a1.35 1.35 0 1 0 2.7 0a1.35 1.35 0 1 0 -2.7 0M79.7 237.36m-1.35 0a1.35 1.35 0 1 0 2.7 0a1.35 1.35 0 1 0 -2.7 0M82.24 238.11m-1.35 0a1.35 1.35 0 1 0 2.7 0a1.35 1.35 0 1 0 -2.7 0M84.78 238.87m-1.35 0a1.35 1.35 0 1 0 2.7 0a1.35 1.35 0 1 0 -2.7 0M87.32 239.64m-1.35 0a1.35 1.35 0 1 0 2.7 0a1.35 1.35 0 1 0 -2.7 0M89.86 240.41m-1.35 0a1.35 1.35 0 1 0 2.7 0a1.35 1.35 0 1 0 -2.7 0M92.4 241.18m-1.35 0a1.35 1.35 0 1 0 2.7 0a1.35 1.35 0 1 0 -2.7 0M94.94 241.96m-1.35 0a1.35 1.35 0 1 0 2.7 0a1.35 1.35 0 1 0 -2.7 0M97.49 242.75m-1.35 0a1.35 1.35 0 1 0 2.7 0a1.35 1.35 0 1 0 -2.7 0M100.03 243.56m-1.35 0a1.35 1.35 0 1 0 2.7 0a1.35 1.35 0 1 0 -2.7 0M102.57 244.4m-1.35 0a1.35 1.35 0 1 0 2.7 0a1.35 1.35 0 1 0 -2.7 0M105.11 245.27m-1.35 0a1.35 1.35 0 1 0 2.7 0a1.35 1.35 0 1 0 -2.7 0M107.65 246.2m-1.35 0a1.35 1.35 0 1 0 2.7 0a1.35 1.35 0 1 0 -2.7 0M110.19 247.17m-1.35 0a1.35 1.35 0 1 0 2.7 0a1.35 1.35 0 1 0 -2.7 0M112.73 248.21m-1.35 0a1.35 1.35 0 1 0 2.7 0a1.35 1.35 0 1 0 -2.7 0M115.27 249.31m-1.35 0a1.35 1.35 0 1 0 2.7 0a1.35 1.35 0 1 0 -2.7 0M117.81 250.48m-1.35 0a1.35 1.35 0 1 0 2.7 0a1.35 1.35 0 1 0 -2.7 0M120.36 251.74m-1.35 0a1.35 1.35 0 1 0 2.7 0a1.35 1.35 0 1 0 -2.7 0M122.9 253.14m-1.35 0a1.35 1.35 0 1 0 2.7 0a1.35 1.35 0 1 0 -2.7 0M125.44 254.73m-1.35 0a1.35 1.35 0 1 0 2.7 0a1.35 1.35 0 1 0 -2.7 0M127.98 256.55m-1.35 0a1.35 1.35 0 1 0 2.7 0a1.35 1.35 0 1 0 -2.7 0M130.52 258.69m-1.35 0a1.35 1.35 0 1 0 2.7 0a1.35 1.35 0 1 0 -2.7 0M133.06 261.29m-1.35 0a1.35 1.35 0 1 0 2.7 0a1.35 1.35 0 1 0 -2.7 0M135.6 264.43m-1.35 0a1.35 1.35 0 1 0 2.7 0a1.35 1.35 0 1 0 -2.7 0M138.14 268.19m-1.35 0a1.35 1.35 0 1 0 2.7 0a1.35 1.35 0 1 0 -2.7 0M140.68 272.99m-1.35 0a1.35 1.35 0 1 0 2.7 0a1.35 1.35 0 1 0 -2.7 0M143.23 279.87m-1.35 0a1.35 1.35 0 1 0 2.7 0a1.35 1.35 0 1 0 -2.7 0M145.77 288.77m-1.35 0a1.35 1.35 0 1 0 2.7 0a1.35 1.35 0 1 0 -2.7 0M148.31 300.6m-1.35 0a1.35 1.35 0 1 0 2.7 0a1.35 1.35 0 1 0 -2.7 0" fill="#0a880a"/>
<path d="M115.6 192.9h13.5" stroke="#ff3030" stroke-width="1.5"/>
<circle cx="122.35" cy="192.9" r="1.2" fill="#f01818"/>
<text x="130.9" y="194.55" font-size="4.75" fill="#333" stroke="#333" stroke-width="0.12" textLength="41.8" lengthAdjust="spacingAndGlyphs">PbBr<tspan font-size="3" dy="1">2</tspan><tspan dy="-1"> (1.0 M) w/ InBr</tspan><tspan font-size="3" dy="1">3</tspan></text>
<path d="M115.6 200.5h13.5" stroke="#2fa32f" stroke-width="1.5"/>
<circle cx="122.35" cy="200.5" r="1.2" fill="#0a880a"/>
<text x="130.9" y="202.15" font-size="4.75" fill="#333" stroke="#333" stroke-width="0.12" textLength="45" lengthAdjust="spacingAndGlyphs">PbBr<tspan font-size="3" dy="1">2</tspan><tspan dy="-1"> (1.0 M) w/o InBr</tspan><tspan font-size="3" dy="1">3</tspan></text>
<text transform="translate(30.3 244) rotate(-90)" text-anchor="middle" font-size="5.3" fill="#333" stroke="#333" stroke-width="0.2">Current density (mA/cm<tspan font-size="3.5" dy="-1.6">2</tspan><tspan dy="1.6">)</tspan></text>
<text x="107.65" y="312.9" text-anchor="middle" font-size="5.6" fill="#333" stroke="#333" stroke-width="0.2">Voltage (V)</text>
<rect x="212.7" y="186.5" width="142" height="114" fill="none" stroke="#5a5a5a" stroke-width="1.05"/>
<path d="M212.7 300.5v-2.2M232.99 300.5v-2.2M253.27 300.5v-2.2M273.56 300.5v-2.2M293.84 300.5v-2.2M314.13 300.5v-2.2M334.41 300.5v-2.2M354.7 300.5v-2.2M222.84 300.5v-1.3M243.13 300.5v-1.3M263.41 300.5v-1.3M283.7 300.5v-1.3M303.99 300.5v-1.3M324.27 300.5v-1.3M344.56 300.5v-1.3M212.7 300.5h2.2M212.7 279.77h2.2M212.7 259.05h2.2M212.7 238.32h2.2M212.7 217.59h2.2M212.7 196.86h2.2M212.7 290.14h1.3M212.7 269.41h1.3M212.7 248.68h1.3M212.7 227.95h1.3M212.7 207.23h1.3" stroke="#5a5a5a" stroke-width="0.8" fill="none"/>
<g font-size="5.0" fill="#333" stroke="#333" stroke-width="0.18"><text x="212.7" y="305.8" text-anchor="middle">0.0</text><text x="232.99" y="305.8" text-anchor="middle">0.2</text><text x="253.27" y="305.8" text-anchor="middle">0.4</text><text x="273.56" y="305.8" text-anchor="middle">0.6</text><text x="293.84" y="305.8" text-anchor="middle">0.8</text><text x="314.13" y="305.8" text-anchor="middle">1.0</text><text x="334.41" y="305.8" text-anchor="middle">1.2</text><text x="354.7" y="305.8" text-anchor="middle">1.4</text><text x="211.1" y="302.2" text-anchor="end">0</text><text x="211.1" y="281.47" text-anchor="end">1</text><text x="211.1" y="260.75" text-anchor="end">2</text><text x="211.1" y="240.02" text-anchor="end">3</text><text x="211.1" y="219.29" text-anchor="end">4</text><text x="211.1" y="198.56" text-anchor="end">5</text></g>
<path d="M212.7 203.29 L213.34 203.32 L213.98 203.35 L214.62 203.38 L215.26 203.42 L215.9 203.45 L216.53 203.49 L217.17 203.53 L217.81 203.57 L218.45 203.61 L219.09 203.66 L219.73 203.7 L220.37 203.75 L221.01 203.8 L221.65 203.85 L222.29 203.9 L222.93 203.95 L223.57 204 L224.2 204.06 L224.84 204.12 L225.48 204.17 L226.12 204.23 L226.76 204.29 L227.4 204.35 L228.04 204.41 L228.68 204.48 L229.32 204.54 L229.96 204.61 L230.6 204.67 L231.24 204.74 L231.87 204.81 L232.51 204.88 L233.15 204.95 L233.79 205.02 L234.43 205.1 L235.07 205.17 L235.71 205.24 L236.35 205.32 L236.99 205.39 L237.63 205.47 L238.27 205.55 L238.91 205.63 L239.54 205.71 L240.18 205.79 L240.82 205.87 L241.46 205.95 L242.1 206.03 L242.74 206.11 L243.38 206.19 L244.02 206.28 L244.66 206.36 L245.3 206.45 L245.94 206.53 L246.58 206.62 L247.21 206.7 L247.85 206.79 L248.49 206.88 L249.13 206.96 L249.77 207.05 L250.41 207.14 L251.05 207.23 L251.69 207.32 L252.33 207.41 L252.97 207.5 L253.61 207.6 L254.24 207.69 L254.88 207.79 L255.52 207.89 L256.16 208 L256.8 208.1 L257.44 208.21 L258.08 208.32 L258.72 208.43 L259.36 208.54 L260 208.65 L260.64 208.77 L261.28 208.89 L261.91 209.01 L262.55 209.13 L263.19 209.25 L263.83 209.38 L264.47 209.51 L265.11 209.64 L265.75 209.77 L266.39 209.9 L267.03 210.04 L267.67 210.18 L268.31 210.31 L268.95 210.46 L269.58 210.6 L270.22 210.75 L270.86 210.89 L271.5 211.04 L272.14 211.19 L272.78 211.35 L273.42 211.5 L274.06 211.66 L274.7 211.82 L275.34 211.98 L275.98 212.14 L276.62 212.31 L277.25 212.47 L277.89 212.64 L278.53 212.82 L279.17 213 L279.81 213.18 L280.45 213.36 L281.09 213.55 L281.73 213.74 L282.37 213.94 L283.01 214.14 L283.65 214.35 L284.29 214.56 L284.92 214.77 L285.56 214.99 L286.2 215.21 L286.84 215.43 L287.48 215.66 L288.12 215.9 L288.76 216.14 L289.4 216.39 L290.04 216.63 L290.68 216.89 L291.32 217.15 L291.95 217.41 L292.59 217.68 L293.23 217.96 L293.87 218.24 L294.51 218.52 L295.15 218.81 L295.79 219.11 L296.43 219.41 L297.07 219.72 L297.71 220.03 L298.35 220.36 L298.99 220.69 L299.62 221.05 L300.26 221.41 L300.9 221.79 L301.54 222.19 L302.18 222.6 L302.82 223.02 L303.46 223.45 L304.1 223.9 L304.74 224.36 L305.38 224.83 L306.02 225.31 L306.66 225.8 L307.29 226.3 L307.93 226.81 L308.57 227.33 L309.21 227.86 L309.85 228.4 L310.49 228.95 L311.13 229.5 L311.77 230.07 L312.41 230.65 L313.05 231.24 L313.69 231.85 L314.33 232.48 L314.96 233.13 L315.6 233.79 L316.24 234.48 L316.88 235.2 L317.52 235.93 L318.16 236.7 L318.8 237.5 L319.44 238.32 L320.08 239.18 L320.72 240.07 L321.36 240.99 L322 241.99 L322.63 243.06 L323.27 244.21 L323.91 245.43 L324.55 246.71 L325.19 248.05 L325.83 249.45 L326.47 250.9 L327.11 252.4 L327.75 253.93 L328.39 255.53 L329.03 257.23 L329.66 259.02 L330.3 260.9 L330.94 262.87 L331.58 264.93 L332.22 267.07 L332.86 269.3 L333.5 271.61 L334.14 274.04 L334.78 276.58 L335.42 279.22 L336.06 281.97 L336.7 284.82 L337.33 287.76 L337.97 290.81 L338.61 293.95 L339.25 297.18 L339.89 300.5" stroke="#ff3030" stroke-width="1.25" fill="none" stroke-linejoin="round"/>
<path d="M212.7 203.29m-1.35 0a1.35 1.35 0 1 0 2.7 0a1.35 1.35 0 1 0 -2.7 0M215.95 203.46m-1.35 0a1.35 1.35 0 1 0 2.7 0a1.35 1.35 0 1 0 -2.7 0M219.19 203.66m-1.35 0a1.35 1.35 0 1 0 2.7 0a1.35 1.35 0 1 0 -2.7 0M222.44 203.91m-1.35 0a1.35 1.35 0 1 0 2.7 0a1.35 1.35 0 1 0 -2.7 0M225.68 204.19m-1.35 0a1.35 1.35 0 1 0 2.7 0a1.35 1.35 0 1 0 -2.7 0M228.93 204.5m-1.35 0a1.35 1.35 0 1 0 2.7 0a1.35 1.35 0 1 0 -2.7 0M232.17 204.84m-1.35 0a1.35 1.35 0 1 0 2.7 0a1.35 1.35 0 1 0 -2.7 0M235.42 205.21m-1.35 0a1.35 1.35 0 1 0 2.7 0a1.35 1.35 0 1 0 -2.7 0M238.67 205.6m-1.35 0a1.35 1.35 0 1 0 2.7 0a1.35 1.35 0 1 0 -2.7 0M241.91 206m-1.35 0a1.35 1.35 0 1 0 2.7 0a1.35 1.35 0 1 0 -2.7 0M245.16 206.43m-1.35 0a1.35 1.35 0 1 0 2.7 0a1.35 1.35 0 1 0 -2.7 0M248.4 206.86m-1.35 0a1.35 1.35 0 1 0 2.7 0a1.35 1.35 0 1 0 -2.7 0M251.65 207.31m-1.35 0a1.35 1.35 0 1 0 2.7 0a1.35 1.35 0 1 0 -2.7 0M254.89 207.8m-1.35 0a1.35 1.35 0 1 0 2.7 0a1.35 1.35 0 1 0 -2.7 0M258.14 208.33m-1.35 0a1.35 1.35 0 1 0 2.7 0a1.35 1.35 0 1 0 -2.7 0M261.39 208.91m-1.35 0a1.35 1.35 0 1 0 2.7 0a1.35 1.35 0 1 0 -2.7 0M264.63 209.54m-1.35 0a1.35 1.35 0 1 0 2.7 0a1.35 1.35 0 1 0 -2.7 0M267.88 210.22m-1.35 0a1.35 1.35 0 1 0 2.7 0a1.35 1.35 0 1 0 -2.7 0M271.12 210.95m-1.35 0a1.35 1.35 0 1 0 2.7 0a1.35 1.35 0 1 0 -2.7 0M274.37 211.74m-1.35 0a1.35 1.35 0 1 0 2.7 0a1.35 1.35 0 1 0 -2.7 0M277.61 212.57m-1.35 0a1.35 1.35 0 1 0 2.7 0a1.35 1.35 0 1 0 -2.7 0M280.86 213.48m-1.35 0a1.35 1.35 0 1 0 2.7 0a1.35 1.35 0 1 0 -2.7 0M284.11 214.5m-1.35 0a1.35 1.35 0 1 0 2.7 0a1.35 1.35 0 1 0 -2.7 0M287.35 215.62m-1.35 0a1.35 1.35 0 1 0 2.7 0a1.35 1.35 0 1 0 -2.7 0M290.6 216.86m-1.35 0a1.35 1.35 0 1 0 2.7 0a1.35 1.35 0 1 0 -2.7 0M293.84 218.23m-1.35 0a1.35 1.35 0 1 0 2.7 0a1.35 1.35 0 1 0 -2.7 0M297.09 219.73m-1.35 0a1.35 1.35 0 1 0 2.7 0a1.35 1.35 0 1 0 -2.7 0M300.33 221.45m-1.35 0a1.35 1.35 0 1 0 2.7 0a1.35 1.35 0 1 0 -2.7 0M303.58 223.54m-1.35 0a1.35 1.35 0 1 0 2.7 0a1.35 1.35 0 1 0 -2.7 0M306.83 225.93m-1.35 0a1.35 1.35 0 1 0 2.7 0a1.35 1.35 0 1 0 -2.7 0M310.07 228.59m-1.35 0a1.35 1.35 0 1 0 2.7 0a1.35 1.35 0 1 0 -2.7 0M313.32 231.5m-1.35 0a1.35 1.35 0 1 0 2.7 0a1.35 1.35 0 1 0 -2.7 0M316.56 234.84m-1.35 0a1.35 1.35 0 1 0 2.7 0a1.35 1.35 0 1 0 -2.7 0M319.81 238.81m-1.35 0a1.35 1.35 0 1 0 2.7 0a1.35 1.35 0 1 0 -2.7 0M323.05 243.81m-1.35 0a1.35 1.35 0 1 0 2.7 0a1.35 1.35 0 1 0 -2.7 0M326.3 250.51m-1.35 0a1.35 1.35 0 1 0 2.7 0a1.35 1.35 0 1 0 -2.7 0M329.55 258.68m-1.35 0a1.35 1.35 0 1 0 2.7 0a1.35 1.35 0 1 0 -2.7 0M332.79 269.05m-1.35 0a1.35 1.35 0 1 0 2.7 0a1.35 1.35 0 1 0 -2.7 0M336.04 281.88m-1.35 0a1.35 1.35 0 1 0 2.7 0a1.35 1.35 0 1 0 -2.7 0M339.89 300.5m-1.35 0a1.35 1.35 0 1 0 2.7 0a1.35 1.35 0 1 0 -2.7 0" fill="#f01818"/>
<path d="M212.7 222.77 L213.19 222.81 L213.69 222.85 L214.18 222.88 L214.67 222.93 L215.16 222.97 L215.66 223.01 L216.15 223.06 L216.64 223.11 L217.14 223.16 L217.63 223.21 L218.12 223.27 L218.61 223.32 L219.11 223.38 L219.6 223.44 L220.09 223.5 L220.59 223.56 L221.08 223.62 L221.57 223.69 L222.06 223.75 L222.56 223.82 L223.05 223.89 L223.54 223.96 L224.04 224.03 L224.53 224.1 L225.02 224.18 L225.51 224.25 L226.01 224.33 L226.5 224.41 L226.99 224.49 L227.49 224.57 L227.98 224.65 L228.47 224.73 L228.96 224.81 L229.46 224.9 L229.95 224.98 L230.44 225.07 L230.94 225.16 L231.43 225.25 L231.92 225.34 L232.41 225.43 L232.91 225.52 L233.4 225.61 L233.89 225.7 L234.39 225.79 L234.88 225.89 L235.37 225.98 L235.86 226.07 L236.36 226.17 L236.85 226.27 L237.34 226.36 L237.84 226.46 L238.33 226.56 L238.82 226.66 L239.32 226.76 L239.81 226.86 L240.3 226.97 L240.79 227.08 L241.29 227.18 L241.78 227.3 L242.27 227.41 L242.77 227.52 L243.26 227.64 L243.75 227.76 L244.24 227.88 L244.74 228.01 L245.23 228.13 L245.72 228.26 L246.22 228.39 L246.71 228.52 L247.2 228.65 L247.69 228.79 L248.19 228.92 L248.68 229.06 L249.17 229.2 L249.67 229.34 L250.16 229.49 L250.65 229.64 L251.14 229.78 L251.64 229.94 L252.13 230.09 L252.62 230.24 L253.12 230.4 L253.61 230.56 L254.1 230.72 L254.59 230.88 L255.09 231.05 L255.58 231.21 L256.07 231.38 L256.57 231.55 L257.06 231.73 L257.55 231.9 L258.04 232.08 L258.54 232.26 L259.03 232.44 L259.52 232.62 L260.02 232.8 L260.51 232.99 L261 233.18 L261.49 233.37 L261.99 233.56 L262.48 233.76 L262.97 233.95 L263.47 234.15 L263.96 234.35 L264.45 234.56 L264.94 234.77 L265.44 234.98 L265.93 235.2 L266.42 235.43 L266.92 235.66 L267.41 235.9 L267.9 236.14 L268.39 236.39 L268.89 236.64 L269.38 236.9 L269.87 237.17 L270.37 237.44 L270.86 237.71 L271.35 237.99 L271.84 238.28 L272.34 238.57 L272.83 238.87 L273.32 239.17 L273.82 239.48 L274.31 239.79 L274.8 240.11 L275.29 240.43 L275.79 240.76 L276.28 241.09 L276.77 241.43 L277.27 241.77 L277.76 242.12 L278.25 242.48 L278.74 242.83 L279.24 243.2 L279.73 243.57 L280.22 243.94 L280.72 244.33 L281.21 244.73 L281.7 245.15 L282.19 245.57 L282.69 246.01 L283.18 246.45 L283.67 246.91 L284.17 247.39 L284.66 247.87 L285.15 248.36 L285.64 248.87 L286.14 249.39 L286.63 249.92 L287.12 250.46 L287.62 251.02 L288.11 251.59 L288.6 252.17 L289.1 252.76 L289.59 253.36 L290.08 253.98 L290.57 254.62 L291.07 255.3 L291.56 256 L292.05 256.73 L292.55 257.49 L293.04 258.27 L293.53 259.07 L294.02 259.89 L294.52 260.73 L295.01 261.59 L295.5 262.47 L296 263.36 L296.49 264.26 L296.98 265.18 L297.47 266.1 L297.97 267.03 L298.46 267.98 L298.95 268.96 L299.45 269.95 L299.94 270.97 L300.43 272.01 L300.92 273.08 L301.42 274.16 L301.91 275.28 L302.4 276.42 L302.9 277.58 L303.39 278.77 L303.88 279.99 L304.37 281.23 L304.87 282.51 L305.36 283.83 L305.85 285.18 L306.35 286.57 L306.84 287.99 L307.33 289.45 L307.82 290.94 L308.32 292.46 L308.81 294.01 L309.3 295.59 L309.8 297.2 L310.29 298.84 L310.78 300.5" stroke="#2fa32f" stroke-width="1.25" fill="none" stroke-linejoin="round"/>
<path d="M212.7 222.77m-1.35 0a1.35 1.35 0 1 0 2.7 0a1.35 1.35 0 1 0 -2.7 0M215.95 223.04m-1.35 0a1.35 1.35 0 1 0 2.7 0a1.35 1.35 0 1 0 -2.7 0M219.19 223.39m-1.35 0a1.35 1.35 0 1 0 2.7 0a1.35 1.35 0 1 0 -2.7 0M222.44 223.8m-1.35 0a1.35 1.35 0 1 0 2.7 0a1.35 1.35 0 1 0 -2.7 0M225.68 224.28m-1.35 0a1.35 1.35 0 1 0 2.7 0a1.35 1.35 0 1 0 -2.7 0M228.93 224.81m-1.35 0a1.35 1.35 0 1 0 2.7 0a1.35 1.35 0 1 0 -2.7 0M232.17 225.38m-1.35 0a1.35 1.35 0 1 0 2.7 0a1.35 1.35 0 1 0 -2.7 0M235.42 225.99m-1.35 0a1.35 1.35 0 1 0 2.7 0a1.35 1.35 0 1 0 -2.7 0M238.67 226.63m-1.35 0a1.35 1.35 0 1 0 2.7 0a1.35 1.35 0 1 0 -2.7 0M241.91 227.33m-1.35 0a1.35 1.35 0 1 0 2.7 0a1.35 1.35 0 1 0 -2.7 0M245.16 228.11m-1.35 0a1.35 1.35 0 1 0 2.7 0a1.35 1.35 0 1 0 -2.7 0M248.4 228.98m-1.35 0a1.35 1.35 0 1 0 2.7 0a1.35 1.35 0 1 0 -2.7 0M251.65 229.94m-1.35 0a1.35 1.35 0 1 0 2.7 0a1.35 1.35 0 1 0 -2.7 0M254.89 230.98m-1.35 0a1.35 1.35 0 1 0 2.7 0a1.35 1.35 0 1 0 -2.7 0M258.14 232.11m-1.35 0a1.35 1.35 0 1 0 2.7 0a1.35 1.35 0 1 0 -2.7 0M261.39 233.33m-1.35 0a1.35 1.35 0 1 0 2.7 0a1.35 1.35 0 1 0 -2.7 0M264.63 234.63m-1.35 0a1.35 1.35 0 1 0 2.7 0a1.35 1.35 0 1 0 -2.7 0M267.88 236.13m-1.35 0a1.35 1.35 0 1 0 2.7 0a1.35 1.35 0 1 0 -2.7 0M271.12 237.86m-1.35 0a1.35 1.35 0 1 0 2.7 0a1.35 1.35 0 1 0 -2.7 0M274.37 239.83m-1.35 0a1.35 1.35 0 1 0 2.7 0a1.35 1.35 0 1 0 -2.7 0M277.61 242.02m-1.35 0a1.35 1.35 0 1 0 2.7 0a1.35 1.35 0 1 0 -2.7 0M280.86 244.45m-1.35 0a1.35 1.35 0 1 0 2.7 0a1.35 1.35 0 1 0 -2.7 0M284.11 247.33m-1.35 0a1.35 1.35 0 1 0 2.7 0a1.35 1.35 0 1 0 -2.7 0M287.35 250.72m-1.35 0a1.35 1.35 0 1 0 2.7 0a1.35 1.35 0 1 0 -2.7 0M290.6 254.65m-1.35 0a1.35 1.35 0 1 0 2.7 0a1.35 1.35 0 1 0 -2.7 0M293.84 259.59m-1.35 0a1.35 1.35 0 1 0 2.7 0a1.35 1.35 0 1 0 -2.7 0M297.09 265.38m-1.35 0a1.35 1.35 0 1 0 2.7 0a1.35 1.35 0 1 0 -2.7 0M300.33 271.8m-1.35 0a1.35 1.35 0 1 0 2.7 0a1.35 1.35 0 1 0 -2.7 0M303.58 279.24m-1.35 0a1.35 1.35 0 1 0 2.7 0a1.35 1.35 0 1 0 -2.7 0M306.83 287.95m-1.35 0a1.35 1.35 0 1 0 2.7 0a1.35 1.35 0 1 0 -2.7 0M310.78 300.5m-1.35 0a1.35 1.35 0 1 0 2.7 0a1.35 1.35 0 1 0 -2.7 0" fill="#0a880a"/>
<path d="M291.5 193h13.5" stroke="#2fa32f" stroke-width="1.5"/>
<circle cx="298.25" cy="193" r="1.2" fill="#0a880a"/>
<text x="306.8" y="194.65" font-size="4.75" fill="#333" stroke="#333" stroke-width="0.12" textLength="41.8" lengthAdjust="spacingAndGlyphs">PbBr<tspan font-size="3" dy="1">2</tspan><tspan dy="-1"> (1.1 M) w/ InBr</tspan><tspan font-size="3" dy="1">3</tspan></text>
<path d="M291.5 200.6h13.5" stroke="#ff3030" stroke-width="1.5"/>
<circle cx="298.25" cy="200.6" r="1.2" fill="#f01818"/>
<text x="306.8" y="202.25" font-size="4.75" fill="#333" stroke="#333" stroke-width="0.12" textLength="45" lengthAdjust="spacingAndGlyphs">PbBr<tspan font-size="3" dy="1">2</tspan><tspan dy="-1"> (1.1 M) w/o InBr</tspan><tspan font-size="3" dy="1">3</tspan></text>
<text transform="translate(206.5 244) rotate(-90)" text-anchor="middle" font-size="5.3" fill="#333" stroke="#333" stroke-width="0.2">Current density (mA/cm<tspan font-size="3.5" dy="-1.6">2</tspan><tspan dy="1.6">)</tspan></text>
<text x="283.7" y="312.8" text-anchor="middle" font-size="5.6" fill="#333" stroke="#333" stroke-width="0.2">Voltage (V)</text>
<rect x="388.5" y="186.4" width="142" height="114.3" fill="none" stroke="#5a5a5a" stroke-width="1.05"/>
<path d="M388.5 300.7v-2.2M408.79 300.7v-2.2M429.07 300.7v-2.2M449.36 300.7v-2.2M469.64 300.7v-2.2M489.93 300.7v-2.2M510.21 300.7v-2.2M530.5 300.7v-2.2M398.64 300.7v-1.3M418.93 300.7v-1.3M439.21 300.7v-1.3M459.5 300.7v-1.3M479.79 300.7v-1.3M500.07 300.7v-1.3M520.36 300.7v-1.3M388.5 300.7h2.2M388.5 281.65h2.2M388.5 262.6h2.2M388.5 243.55h2.2M388.5 224.5h2.2M388.5 205.45h2.2M388.5 186.4h2.2M388.5 291.18h1.3M388.5 272.12h1.3M388.5 253.07h1.3M388.5 234.02h1.3M388.5 214.97h1.3M388.5 195.93h1.3" stroke="#5a5a5a" stroke-width="0.8" fill="none"/>
<g font-size="5.0" fill="#333" stroke="#333" stroke-width="0.18"><text x="388.5" y="306" text-anchor="middle">0.0</text><text x="408.79" y="306" text-anchor="middle">0.2</text><text x="429.07" y="306" text-anchor="middle">0.4</text><text x="449.36" y="306" text-anchor="middle">0.6</text><text x="469.64" y="306" text-anchor="middle">0.8</text><text x="489.93" y="306" text-anchor="middle">1.0</text><text x="510.21" y="306" text-anchor="middle">1.2</text><text x="530.5" y="306" text-anchor="middle">1.4</text><text x="386.9" y="302.4" text-anchor="end">0</text><text x="386.9" y="283.35" text-anchor="end">1</text><text x="386.9" y="264.3" text-anchor="end">2</text><text x="386.9" y="245.25" text-anchor="end">3</text><text x="386.9" y="226.2" text-anchor="end">4</text><text x="386.9" y="207.15" text-anchor="end">5</text><text x="386.9" y="188.1" text-anchor="end">6</text></g>
<path d="M388.5 195.93 L389.15 195.97 L389.79 196.01 L390.44 196.05 L391.09 196.1 L391.73 196.15 L392.38 196.2 L393.02 196.25 L393.67 196.3 L394.32 196.35 L394.96 196.41 L395.61 196.46 L396.26 196.52 L396.9 196.58 L397.55 196.64 L398.19 196.7 L398.84 196.76 L399.49 196.83 L400.13 196.89 L400.78 196.96 L401.43 197.03 L402.07 197.1 L402.72 197.16 L403.36 197.24 L404.01 197.31 L404.66 197.38 L405.3 197.45 L405.95 197.53 L406.6 197.61 L407.24 197.68 L407.89 197.76 L408.53 197.84 L409.18 197.92 L409.83 198 L410.47 198.08 L411.12 198.16 L411.77 198.25 L412.41 198.33 L413.06 198.42 L413.71 198.5 L414.35 198.59 L415 198.68 L415.64 198.76 L416.29 198.85 L416.94 198.94 L417.58 199.03 L418.23 199.12 L418.88 199.21 L419.52 199.31 L420.17 199.4 L420.81 199.49 L421.46 199.59 L422.11 199.68 L422.75 199.77 L423.4 199.87 L424.05 199.96 L424.69 200.06 L425.34 200.16 L425.98 200.25 L426.63 200.35 L427.28 200.45 L427.92 200.55 L428.57 200.66 L429.22 200.76 L429.86 200.87 L430.51 200.98 L431.16 201.09 L431.8 201.2 L432.45 201.32 L433.09 201.43 L433.74 201.55 L434.39 201.67 L435.03 201.79 L435.68 201.92 L436.33 202.04 L436.97 202.17 L437.62 202.3 L438.26 202.43 L438.91 202.56 L439.56 202.7 L440.2 202.83 L440.85 202.97 L441.5 203.11 L442.14 203.25 L442.79 203.39 L443.43 203.53 L444.08 203.67 L444.73 203.82 L445.37 203.97 L446.02 204.11 L446.67 204.26 L447.31 204.41 L447.96 204.57 L448.6 204.72 L449.25 204.87 L449.9 205.03 L450.54 205.18 L451.19 205.34 L451.84 205.5 L452.48 205.66 L453.13 205.82 L453.78 205.98 L454.42 206.15 L455.07 206.32 L455.71 206.48 L456.36 206.65 L457.01 206.83 L457.65 207 L458.3 207.18 L458.95 207.35 L459.59 207.54 L460.24 207.72 L460.88 207.9 L461.53 208.09 L462.18 208.28 L462.82 208.48 L463.47 208.68 L464.12 208.88 L464.76 209.08 L465.41 209.28 L466.05 209.49 L466.7 209.71 L467.35 209.92 L467.99 210.14 L468.64 210.36 L469.29 210.59 L469.93 210.82 L470.58 211.05 L471.22 211.29 L471.87 211.53 L472.52 211.78 L473.16 212.03 L473.81 212.28 L474.46 212.54 L475.1 212.81 L475.75 213.08 L476.4 213.36 L477.04 213.65 L477.69 213.94 L478.33 214.25 L478.98 214.56 L479.63 214.88 L480.27 215.2 L480.92 215.54 L481.57 215.88 L482.21 216.23 L482.86 216.59 L483.5 216.96 L484.15 217.34 L484.8 217.73 L485.44 218.13 L486.09 218.53 L486.74 218.95 L487.38 219.38 L488.03 219.83 L488.67 220.29 L489.32 220.77 L489.97 221.27 L490.61 221.78 L491.26 222.32 L491.91 222.88 L492.55 223.47 L493.2 224.08 L493.85 224.71 L494.49 225.38 L495.14 226.07 L495.78 226.8 L496.43 227.59 L497.08 228.45 L497.72 229.38 L498.37 230.37 L499.02 231.41 L499.66 232.49 L500.31 233.62 L500.95 234.77 L501.6 235.96 L502.25 237.16 L502.89 238.38 L503.54 239.64 L504.19 240.95 L504.83 242.32 L505.48 243.77 L506.12 245.31 L506.77 246.96 L507.42 248.72 L508.06 250.64 L508.71 252.76 L509.36 255.07 L510 257.58 L510.65 260.29 L511.29 263.2 L511.94 266.48 L512.59 270.24 L513.23 274.28 L513.88 278.43 L514.53 282.6 L515.17 286.91 L515.82 291.36 L516.47 295.96 L517.11 300.7" stroke="#ff3030" stroke-width="1.25" fill="none" stroke-linejoin="round"/>
<path d="M388.5 195.93m-1.35 0a1.35 1.35 0 1 0 2.7 0a1.35 1.35 0 1 0 -2.7 0M391.75 196.15m-1.35 0a1.35 1.35 0 1 0 2.7 0a1.35 1.35 0 1 0 -2.7 0M394.99 196.41m-1.35 0a1.35 1.35 0 1 0 2.7 0a1.35 1.35 0 1 0 -2.7 0M398.24 196.71m-1.35 0a1.35 1.35 0 1 0 2.7 0a1.35 1.35 0 1 0 -2.7 0M401.48 197.03m-1.35 0a1.35 1.35 0 1 0 2.7 0a1.35 1.35 0 1 0 -2.7 0M404.73 197.39m-1.35 0a1.35 1.35 0 1 0 2.7 0a1.35 1.35 0 1 0 -2.7 0M407.97 197.77m-1.35 0a1.35 1.35 0 1 0 2.7 0a1.35 1.35 0 1 0 -2.7 0M411.22 198.18m-1.35 0a1.35 1.35 0 1 0 2.7 0a1.35 1.35 0 1 0 -2.7 0M414.47 198.6m-1.35 0a1.35 1.35 0 1 0 2.7 0a1.35 1.35 0 1 0 -2.7 0M417.71 199.05m-1.35 0a1.35 1.35 0 1 0 2.7 0a1.35 1.35 0 1 0 -2.7 0M420.96 199.51m-1.35 0a1.35 1.35 0 1 0 2.7 0a1.35 1.35 0 1 0 -2.7 0M424.2 199.99m-1.35 0a1.35 1.35 0 1 0 2.7 0a1.35 1.35 0 1 0 -2.7 0M427.45 200.48m-1.35 0a1.35 1.35 0 1 0 2.7 0a1.35 1.35 0 1 0 -2.7 0M430.69 201.01m-1.35 0a1.35 1.35 0 1 0 2.7 0a1.35 1.35 0 1 0 -2.7 0M433.94 201.59m-1.35 0a1.35 1.35 0 1 0 2.7 0a1.35 1.35 0 1 0 -2.7 0M437.19 202.21m-1.35 0a1.35 1.35 0 1 0 2.7 0a1.35 1.35 0 1 0 -2.7 0M440.43 202.88m-1.35 0a1.35 1.35 0 1 0 2.7 0a1.35 1.35 0 1 0 -2.7 0M443.68 203.58m-1.35 0a1.35 1.35 0 1 0 2.7 0a1.35 1.35 0 1 0 -2.7 0M446.92 204.32m-1.35 0a1.35 1.35 0 1 0 2.7 0a1.35 1.35 0 1 0 -2.7 0M450.17 205.09m-1.35 0a1.35 1.35 0 1 0 2.7 0a1.35 1.35 0 1 0 -2.7 0M453.41 205.89m-1.35 0a1.35 1.35 0 1 0 2.7 0a1.35 1.35 0 1 0 -2.7 0M456.66 206.73m-1.35 0a1.35 1.35 0 1 0 2.7 0a1.35 1.35 0 1 0 -2.7 0M459.91 207.62m-1.35 0a1.35 1.35 0 1 0 2.7 0a1.35 1.35 0 1 0 -2.7 0M463.15 208.58m-1.35 0a1.35 1.35 0 1 0 2.7 0a1.35 1.35 0 1 0 -2.7 0M466.4 209.61m-1.35 0a1.35 1.35 0 1 0 2.7 0a1.35 1.35 0 1 0 -2.7 0M469.64 210.72m-1.35 0a1.35 1.35 0 1 0 2.7 0a1.35 1.35 0 1 0 -2.7 0M472.89 211.92m-1.35 0a1.35 1.35 0 1 0 2.7 0a1.35 1.35 0 1 0 -2.7 0M476.13 213.25m-1.35 0a1.35 1.35 0 1 0 2.7 0a1.35 1.35 0 1 0 -2.7 0M479.38 214.75m-1.35 0a1.35 1.35 0 1 0 2.7 0a1.35 1.35 0 1 0 -2.7 0M482.63 216.46m-1.35 0a1.35 1.35 0 1 0 2.7 0a1.35 1.35 0 1 0 -2.7 0M485.87 218.39m-1.35 0a1.35 1.35 0 1 0 2.7 0a1.35 1.35 0 1 0 -2.7 0M489.12 220.62m-1.35 0a1.35 1.35 0 1 0 2.7 0a1.35 1.35 0 1 0 -2.7 0M492.36 223.29m-1.35 0a1.35 1.35 0 1 0 2.7 0a1.35 1.35 0 1 0 -2.7 0M495.61 226.6m-1.35 0a1.35 1.35 0 1 0 2.7 0a1.35 1.35 0 1 0 -2.7 0M498.85 231.14m-1.35 0a1.35 1.35 0 1 0 2.7 0a1.35 1.35 0 1 0 -2.7 0M502.1 236.88m-1.35 0a1.35 1.35 0 1 0 2.7 0a1.35 1.35 0 1 0 -2.7 0M505.35 243.47m-1.35 0a1.35 1.35 0 1 0 2.7 0a1.35 1.35 0 1 0 -2.7 0M508.59 252.35m-1.35 0a1.35 1.35 0 1 0 2.7 0a1.35 1.35 0 1 0 -2.7 0M511.84 265.91m-1.35 0a1.35 1.35 0 1 0 2.7 0a1.35 1.35 0 1 0 -2.7 0M515.08 286.3m-1.35 0a1.35 1.35 0 1 0 2.7 0a1.35 1.35 0 1 0 -2.7 0M517.11 300.7m-1.35 0a1.35 1.35 0 1 0 2.7 0a1.35 1.35 0 1 0 -2.7 0" fill="#f01818"/>
<path d="M388.5 236.31 L389.03 236.39 L389.56 236.46 L390.08 236.54 L390.61 236.62 L391.14 236.7 L391.67 236.78 L392.19 236.87 L392.72 236.95 L393.25 237.04 L393.78 237.13 L394.3 237.21 L394.83 237.3 L395.36 237.39 L395.89 237.49 L396.41 237.58 L396.94 237.67 L397.47 237.77 L398 237.87 L398.52 237.97 L399.05 238.06 L399.58 238.16 L400.11 238.27 L400.63 238.37 L401.16 238.47 L401.69 238.58 L402.22 238.68 L402.74 238.79 L403.27 238.9 L403.8 239 L404.33 239.11 L404.85 239.22 L405.38 239.34 L405.91 239.45 L406.44 239.56 L406.96 239.68 L407.49 239.79 L408.02 239.91 L408.55 240.02 L409.07 240.14 L409.6 240.26 L410.13 240.38 L410.66 240.5 L411.18 240.62 L411.71 240.74 L412.24 240.86 L412.77 240.98 L413.29 241.11 L413.82 241.23 L414.35 241.36 L414.88 241.49 L415.4 241.62 L415.93 241.75 L416.46 241.88 L416.99 242.01 L417.51 242.15 L418.04 242.29 L418.57 242.43 L419.1 242.57 L419.62 242.71 L420.15 242.85 L420.68 242.99 L421.21 243.14 L421.73 243.29 L422.26 243.44 L422.79 243.59 L423.32 243.74 L423.84 243.89 L424.37 244.04 L424.9 244.2 L425.43 244.35 L425.95 244.51 L426.48 244.67 L427.01 244.83 L427.54 244.99 L428.06 245.16 L428.59 245.32 L429.12 245.49 L429.65 245.65 L430.17 245.82 L430.7 245.99 L431.23 246.16 L431.76 246.33 L432.29 246.51 L432.81 246.68 L433.34 246.86 L433.87 247.03 L434.4 247.21 L434.92 247.39 L435.45 247.57 L435.98 247.75 L436.51 247.93 L437.03 248.12 L437.56 248.3 L438.09 248.48 L438.62 248.67 L439.14 248.86 L439.67 249.05 L440.2 249.24 L440.73 249.43 L441.25 249.63 L441.78 249.82 L442.31 250.02 L442.84 250.22 L443.36 250.43 L443.89 250.63 L444.42 250.84 L444.95 251.05 L445.47 251.26 L446 251.47 L446.53 251.69 L447.06 251.91 L447.58 252.13 L448.11 252.35 L448.64 252.57 L449.17 252.8 L449.69 253.03 L450.22 253.25 L450.75 253.49 L451.28 253.72 L451.8 253.96 L452.33 254.19 L452.86 254.43 L453.39 254.67 L453.91 254.92 L454.44 255.16 L454.97 255.41 L455.5 255.66 L456.02 255.91 L456.55 256.17 L457.08 256.42 L457.61 256.68 L458.13 256.94 L458.66 257.2 L459.19 257.46 L459.72 257.73 L460.24 257.99 L460.77 258.26 L461.3 258.53 L461.83 258.8 L462.35 259.08 L462.88 259.35 L463.41 259.63 L463.94 259.91 L464.46 260.19 L464.99 260.48 L465.52 260.77 L466.05 261.06 L466.57 261.36 L467.1 261.67 L467.63 261.98 L468.16 262.29 L468.68 262.62 L469.21 262.95 L469.74 263.28 L470.27 263.63 L470.79 263.98 L471.32 264.34 L471.85 264.71 L472.38 265.08 L472.9 265.47 L473.43 265.87 L473.96 266.27 L474.49 266.69 L475.02 267.12 L475.54 267.57 L476.07 268.03 L476.6 268.5 L477.13 268.99 L477.65 269.49 L478.18 270.01 L478.71 270.54 L479.24 271.1 L479.76 271.67 L480.29 272.26 L480.82 272.87 L481.35 273.5 L481.87 274.15 L482.4 274.82 L482.93 275.52 L483.46 276.25 L483.98 277.03 L484.51 277.84 L485.04 278.69 L485.57 279.59 L486.09 280.53 L486.62 281.51 L487.15 282.54 L487.68 283.61 L488.2 284.73 L488.73 285.9 L489.26 287.13 L489.79 288.47 L490.31 289.94 L490.84 291.52 L491.37 293.21 L491.9 294.99 L492.42 296.83 L492.95 298.74 L493.48 300.7" stroke="#2fa32f" stroke-width="1.25" fill="none" stroke-linejoin="round"/>
<path d="M388.5 236.31m-1.35 0a1.35 1.35 0 1 0 2.7 0a1.35 1.35 0 1 0 -2.7 0M391.75 236.8m-1.35 0a1.35 1.35 0 1 0 2.7 0a1.35 1.35 0 1 0 -2.7 0M394.99 237.33m-1.35 0a1.35 1.35 0 1 0 2.7 0a1.35 1.35 0 1 0 -2.7 0M398.24 237.91m-1.35 0a1.35 1.35 0 1 0 2.7 0a1.35 1.35 0 1 0 -2.7 0M401.48 238.54m-1.35 0a1.35 1.35 0 1 0 2.7 0a1.35 1.35 0 1 0 -2.7 0M404.73 239.2m-1.35 0a1.35 1.35 0 1 0 2.7 0a1.35 1.35 0 1 0 -2.7 0M407.97 239.9m-1.35 0a1.35 1.35 0 1 0 2.7 0a1.35 1.35 0 1 0 -2.7 0M411.22 240.63m-1.35 0a1.35 1.35 0 1 0 2.7 0a1.35 1.35 0 1 0 -2.7 0M414.47 241.39m-1.35 0a1.35 1.35 0 1 0 2.7 0a1.35 1.35 0 1 0 -2.7 0M417.71 242.2m-1.35 0a1.35 1.35 0 1 0 2.7 0a1.35 1.35 0 1 0 -2.7 0M420.96 243.07m-1.35 0a1.35 1.35 0 1 0 2.7 0a1.35 1.35 0 1 0 -2.7 0M424.2 243.99m-1.35 0a1.35 1.35 0 1 0 2.7 0a1.35 1.35 0 1 0 -2.7 0M427.45 244.97m-1.35 0a1.35 1.35 0 1 0 2.7 0a1.35 1.35 0 1 0 -2.7 0M430.69 245.99m-1.35 0a1.35 1.35 0 1 0 2.7 0a1.35 1.35 0 1 0 -2.7 0M433.94 247.06m-1.35 0a1.35 1.35 0 1 0 2.7 0a1.35 1.35 0 1 0 -2.7 0M437.19 248.17m-1.35 0a1.35 1.35 0 1 0 2.7 0a1.35 1.35 0 1 0 -2.7 0M440.43 249.32m-1.35 0a1.35 1.35 0 1 0 2.7 0a1.35 1.35 0 1 0 -2.7 0M443.68 250.55m-1.35 0a1.35 1.35 0 1 0 2.7 0a1.35 1.35 0 1 0 -2.7 0M446.92 251.85m-1.35 0a1.35 1.35 0 1 0 2.7 0a1.35 1.35 0 1 0 -2.7 0M450.17 253.23m-1.35 0a1.35 1.35 0 1 0 2.7 0a1.35 1.35 0 1 0 -2.7 0M453.41 254.69m-1.35 0a1.35 1.35 0 1 0 2.7 0a1.35 1.35 0 1 0 -2.7 0M456.66 256.22m-1.35 0a1.35 1.35 0 1 0 2.7 0a1.35 1.35 0 1 0 -2.7 0M459.91 257.82m-1.35 0a1.35 1.35 0 1 0 2.7 0a1.35 1.35 0 1 0 -2.7 0M463.15 259.49m-1.35 0a1.35 1.35 0 1 0 2.7 0a1.35 1.35 0 1 0 -2.7 0M466.4 261.26m-1.35 0a1.35 1.35 0 1 0 2.7 0a1.35 1.35 0 1 0 -2.7 0M469.64 263.22m-1.35 0a1.35 1.35 0 1 0 2.7 0a1.35 1.35 0 1 0 -2.7 0M472.89 265.46m-1.35 0a1.35 1.35 0 1 0 2.7 0a1.35 1.35 0 1 0 -2.7 0M476.13 268.08m-1.35 0a1.35 1.35 0 1 0 2.7 0a1.35 1.35 0 1 0 -2.7 0M479.38 271.25m-1.35 0a1.35 1.35 0 1 0 2.7 0a1.35 1.35 0 1 0 -2.7 0M482.63 275.12m-1.35 0a1.35 1.35 0 1 0 2.7 0a1.35 1.35 0 1 0 -2.7 0M485.87 280.13m-1.35 0a1.35 1.35 0 1 0 2.7 0a1.35 1.35 0 1 0 -2.7 0M489.12 286.79m-1.35 0a1.35 1.35 0 1 0 2.7 0a1.35 1.35 0 1 0 -2.7 0M493.48 300.7m-1.35 0a1.35 1.35 0 1 0 2.7 0a1.35 1.35 0 1 0 -2.7 0" fill="#0a880a"/>
<path d="M467.3 192.9h13.5" stroke="#2fa32f" stroke-width="1.5"/>
<circle cx="474.05" cy="192.9" r="1.2" fill="#0a880a"/>
<text x="482.6" y="194.55" font-size="4.75" fill="#333" stroke="#333" stroke-width="0.12" textLength="41.8" lengthAdjust="spacingAndGlyphs">PbBr<tspan font-size="3" dy="1">2</tspan><tspan dy="-1"> (1.2 M) w/ InBr</tspan><tspan font-size="3" dy="1">3</tspan></text>
<path d="M467.3 200.5h13.5" stroke="#ff3030" stroke-width="1.5"/>
<circle cx="474.05" cy="200.5" r="1.2" fill="#f01818"/>
<text x="482.6" y="202.15" font-size="4.75" fill="#333" stroke="#333" stroke-width="0.12" textLength="45" lengthAdjust="spacingAndGlyphs">PbBr<tspan font-size="3" dy="1">2</tspan><tspan dy="-1"> (1.2 M) w/o InBr</tspan><tspan font-size="3" dy="1">3</tspan></text>
<text transform="translate(382.3 244.05) rotate(-90)" text-anchor="middle" font-size="5.3" fill="#333" stroke="#333" stroke-width="0.2">Current density (mA/cm<tspan font-size="3.5" dy="-1.6">2</tspan><tspan dy="1.6">)</tspan></text>
<text x="459.5" y="313" text-anchor="middle" font-size="5.6" fill="#333" stroke="#333" stroke-width="0.2">Voltage (V)</text>
<rect x="36.9" y="325.3" width="141.7" height="114.2" fill="none" stroke="#5a5a5a" stroke-width="1.05"/>
<path d="M36.9 439.5v-2.2M57.14 439.5v-2.2M77.39 439.5v-2.2M97.63 439.5v-2.2M117.87 439.5v-2.2M138.11 439.5v-2.2M158.36 439.5v-2.2M178.6 439.5v-2.2M47.02 439.5v-1.3M67.26 439.5v-1.3M87.51 439.5v-1.3M107.75 439.5v-1.3M127.99 439.5v-1.3M148.24 439.5v-1.3M168.48 439.5v-1.3M36.9 439.5h2.2M36.9 424.27h2.2M36.9 409.05h2.2M36.9 393.82h2.2M36.9 378.59h2.2M36.9 363.37h2.2M36.9 348.14h2.2M36.9 332.91h2.2M36.9 431.89h1.3M36.9 416.66h1.3M36.9 401.43h1.3M36.9 386.21h1.3M36.9 370.98h1.3M36.9 355.75h1.3M36.9 340.53h1.3" stroke="#5a5a5a" stroke-width="0.8" fill="none"/>
<g font-size="5.0" fill="#333" stroke="#333" stroke-width="0.18"><text x="36.9" y="444.8" text-anchor="middle">0.0</text><text x="57.14" y="444.8" text-anchor="middle">0.2</text><text x="77.39" y="444.8" text-anchor="middle">0.4</text><text x="97.63" y="444.8" text-anchor="middle">0.6</text><text x="117.87" y="444.8" text-anchor="middle">0.8</text><text x="138.11" y="444.8" text-anchor="middle">1.0</text><text x="158.36" y="444.8" text-anchor="middle">1.2</text><text x="178.6" y="444.8" text-anchor="middle">1.4</text><text x="35.3" y="441.2" text-anchor="end">0</text><text x="35.3" y="425.97" text-anchor="end">1</text><text x="35.3" y="410.75" text-anchor="end">2</text><text x="35.3" y="395.52" text-anchor="end">3</text><text x="35.3" y="380.29" text-anchor="end">4</text><text x="35.3" y="365.07" text-anchor="end">5</text><text x="35.3" y="349.84" text-anchor="end">6</text><text x="35.3" y="334.61" text-anchor="end">7</text></g>
<path d="M36.9 340.22 L37.55 340.25 L38.21 340.27 L38.86 340.3 L39.51 340.32 L40.17 340.35 L40.82 340.38 L41.47 340.4 L42.12 340.43 L42.78 340.46 L43.43 340.49 L44.08 340.51 L44.74 340.54 L45.39 340.57 L46.04 340.6 L46.7 340.63 L47.35 340.66 L48 340.69 L48.66 340.72 L49.31 340.75 L49.96 340.78 L50.61 340.81 L51.27 340.84 L51.92 340.87 L52.57 340.9 L53.23 340.93 L53.88 340.96 L54.53 340.99 L55.19 341.03 L55.84 341.06 L56.49 341.09 L57.14 341.12 L57.8 341.15 L58.45 341.19 L59.1 341.22 L59.76 341.25 L60.41 341.29 L61.06 341.32 L61.72 341.35 L62.37 341.39 L63.02 341.42 L63.68 341.46 L64.33 341.49 L64.98 341.53 L65.63 341.56 L66.29 341.6 L66.94 341.63 L67.59 341.67 L68.25 341.7 L68.9 341.74 L69.55 341.77 L70.21 341.81 L70.86 341.84 L71.51 341.88 L72.17 341.92 L72.82 341.95 L73.47 341.99 L74.12 342.03 L74.78 342.06 L75.43 342.1 L76.08 342.14 L76.74 342.18 L77.39 342.21 L78.04 342.25 L78.7 342.29 L79.35 342.33 L80 342.37 L80.66 342.4 L81.31 342.44 L81.96 342.48 L82.61 342.52 L83.27 342.56 L83.92 342.6 L84.57 342.64 L85.23 342.67 L85.88 342.71 L86.53 342.75 L87.19 342.79 L87.84 342.83 L88.49 342.87 L89.14 342.91 L89.8 342.95 L90.45 342.98 L91.1 343.02 L91.76 343.06 L92.41 343.1 L93.06 343.14 L93.72 343.17 L94.37 343.21 L95.02 343.25 L95.68 343.29 L96.33 343.33 L96.98 343.36 L97.63 343.4 L98.29 343.44 L98.94 343.48 L99.59 343.52 L100.25 343.57 L100.9 343.61 L101.55 343.65 L102.21 343.69 L102.86 343.74 L103.51 343.78 L104.17 343.83 L104.82 343.88 L105.47 343.93 L106.12 343.98 L106.78 344.03 L107.43 344.08 L108.08 344.13 L108.74 344.19 L109.39 344.24 L110.04 344.3 L110.7 344.36 L111.35 344.42 L112 344.49 L112.66 344.55 L113.31 344.62 L113.96 344.68 L114.61 344.76 L115.27 344.83 L115.92 344.91 L116.57 344.99 L117.23 345.07 L117.88 345.16 L118.53 345.25 L119.19 345.34 L119.84 345.44 L120.49 345.55 L121.14 345.65 L121.8 345.76 L122.45 345.88 L123.1 346 L123.76 346.13 L124.41 346.26 L125.06 346.39 L125.72 346.53 L126.37 346.68 L127.02 346.83 L127.68 346.99 L128.33 347.15 L128.98 347.32 L129.63 347.5 L130.29 347.7 L130.94 347.92 L131.59 348.16 L132.25 348.42 L132.9 348.7 L133.55 348.99 L134.21 349.31 L134.86 349.64 L135.51 349.99 L136.17 350.35 L136.82 350.72 L137.47 351.11 L138.12 351.52 L138.78 351.93 L139.43 352.35 L140.08 352.79 L140.74 353.26 L141.39 353.76 L142.04 354.29 L142.7 354.86 L143.35 355.46 L144 356.09 L144.66 356.77 L145.31 357.48 L145.96 358.23 L146.61 359.01 L147.27 359.84 L147.92 360.72 L148.57 361.67 L149.23 362.71 L149.88 363.83 L150.53 365.04 L151.19 366.35 L151.84 367.75 L152.49 369.26 L153.14 370.86 L153.8 372.57 L154.45 374.44 L155.1 376.7 L155.76 379.31 L156.41 382.17 L157.06 385.19 L157.72 388.27 L158.37 391.32 L159.02 394.24 L159.68 396.99 L160.33 399.65 L160.98 402.31 L161.63 405.1 L162.29 408.13 L162.94 411.49 L163.59 415.27 L164.25 419.45 L164.9 423.99 L165.55 428.87 L166.21 434.05 L166.86 439.5" stroke="#ff3030" stroke-width="1.25" fill="none" stroke-linejoin="round"/>
<path d="M36.9 340.22m-1.35 0a1.35 1.35 0 1 0 2.7 0a1.35 1.35 0 1 0 -2.7 0M40.14 340.35m-1.35 0a1.35 1.35 0 1 0 2.7 0a1.35 1.35 0 1 0 -2.7 0M43.38 340.48m-1.35 0a1.35 1.35 0 1 0 2.7 0a1.35 1.35 0 1 0 -2.7 0M46.62 340.63m-1.35 0a1.35 1.35 0 1 0 2.7 0a1.35 1.35 0 1 0 -2.7 0M49.86 340.77m-1.35 0a1.35 1.35 0 1 0 2.7 0a1.35 1.35 0 1 0 -2.7 0M53.09 340.92m-1.35 0a1.35 1.35 0 1 0 2.7 0a1.35 1.35 0 1 0 -2.7 0M56.33 341.08m-1.35 0a1.35 1.35 0 1 0 2.7 0a1.35 1.35 0 1 0 -2.7 0M59.57 341.24m-1.35 0a1.35 1.35 0 1 0 2.7 0a1.35 1.35 0 1 0 -2.7 0M62.81 341.41m-1.35 0a1.35 1.35 0 1 0 2.7 0a1.35 1.35 0 1 0 -2.7 0M66.05 341.58m-1.35 0a1.35 1.35 0 1 0 2.7 0a1.35 1.35 0 1 0 -2.7 0M69.29 341.76m-1.35 0a1.35 1.35 0 1 0 2.7 0a1.35 1.35 0 1 0 -2.7 0M72.53 341.94m-1.35 0a1.35 1.35 0 1 0 2.7 0a1.35 1.35 0 1 0 -2.7 0M75.77 342.12m-1.35 0a1.35 1.35 0 1 0 2.7 0a1.35 1.35 0 1 0 -2.7 0M79.01 342.31m-1.35 0a1.35 1.35 0 1 0 2.7 0a1.35 1.35 0 1 0 -2.7 0M82.24 342.5m-1.35 0a1.35 1.35 0 1 0 2.7 0a1.35 1.35 0 1 0 -2.7 0M85.48 342.69m-1.35 0a1.35 1.35 0 1 0 2.7 0a1.35 1.35 0 1 0 -2.7 0M88.72 342.88m-1.35 0a1.35 1.35 0 1 0 2.7 0a1.35 1.35 0 1 0 -2.7 0M91.96 343.07m-1.35 0a1.35 1.35 0 1 0 2.7 0a1.35 1.35 0 1 0 -2.7 0M95.2 343.26m-1.35 0a1.35 1.35 0 1 0 2.7 0a1.35 1.35 0 1 0 -2.7 0M98.44 343.45m-1.35 0a1.35 1.35 0 1 0 2.7 0a1.35 1.35 0 1 0 -2.7 0M101.68 343.66m-1.35 0a1.35 1.35 0 1 0 2.7 0a1.35 1.35 0 1 0 -2.7 0M104.92 343.88m-1.35 0a1.35 1.35 0 1 0 2.7 0a1.35 1.35 0 1 0 -2.7 0M108.15 344.14m-1.35 0a1.35 1.35 0 1 0 2.7 0a1.35 1.35 0 1 0 -2.7 0M111.39 344.43m-1.35 0a1.35 1.35 0 1 0 2.7 0a1.35 1.35 0 1 0 -2.7 0M114.63 344.76m-1.35 0a1.35 1.35 0 1 0 2.7 0a1.35 1.35 0 1 0 -2.7 0M117.87 345.16m-1.35 0a1.35 1.35 0 1 0 2.7 0a1.35 1.35 0 1 0 -2.7 0M121.11 345.65m-1.35 0a1.35 1.35 0 1 0 2.7 0a1.35 1.35 0 1 0 -2.7 0M124.35 346.24m-1.35 0a1.35 1.35 0 1 0 2.7 0a1.35 1.35 0 1 0 -2.7 0M127.59 346.97m-1.35 0a1.35 1.35 0 1 0 2.7 0a1.35 1.35 0 1 0 -2.7 0M130.83 347.88m-1.35 0a1.35 1.35 0 1 0 2.7 0a1.35 1.35 0 1 0 -2.7 0M134.07 349.24m-1.35 0a1.35 1.35 0 1 0 2.7 0a1.35 1.35 0 1 0 -2.7 0M137.3 351.01m-1.35 0a1.35 1.35 0 1 0 2.7 0a1.35 1.35 0 1 0 -2.7 0M140.54 353.12m-1.35 0a1.35 1.35 0 1 0 2.7 0a1.35 1.35 0 1 0 -2.7 0M143.78 355.87m-1.35 0a1.35 1.35 0 1 0 2.7 0a1.35 1.35 0 1 0 -2.7 0M147.02 359.53m-1.35 0a1.35 1.35 0 1 0 2.7 0a1.35 1.35 0 1 0 -2.7 0M150.26 364.53m-1.35 0a1.35 1.35 0 1 0 2.7 0a1.35 1.35 0 1 0 -2.7 0M153.5 371.77m-1.35 0a1.35 1.35 0 1 0 2.7 0a1.35 1.35 0 1 0 -2.7 0M156.74 383.67m-1.35 0a1.35 1.35 0 1 0 2.7 0a1.35 1.35 0 1 0 -2.7 0M159.98 398.22m-1.35 0a1.35 1.35 0 1 0 2.7 0a1.35 1.35 0 1 0 -2.7 0M163.22 413.03m-1.35 0a1.35 1.35 0 1 0 2.7 0a1.35 1.35 0 1 0 -2.7 0M166.86 439.5m-1.35 0a1.35 1.35 0 1 0 2.7 0a1.35 1.35 0 1 0 -2.7 0" fill="#f01818"/>
<path d="M36.9 391.08 L37.44 391.14 L37.98 391.2 L38.52 391.26 L39.06 391.32 L39.6 391.39 L40.14 391.45 L40.68 391.51 L41.22 391.58 L41.76 391.64 L42.3 391.71 L42.84 391.78 L43.38 391.84 L43.92 391.91 L44.46 391.98 L45 392.05 L45.54 392.12 L46.08 392.19 L46.62 392.27 L47.16 392.34 L47.7 392.41 L48.24 392.49 L48.78 392.56 L49.32 392.63 L49.86 392.71 L50.4 392.79 L50.94 392.86 L51.48 392.94 L52.02 393.02 L52.56 393.1 L53.1 393.18 L53.64 393.26 L54.18 393.34 L54.72 393.42 L55.27 393.5 L55.81 393.58 L56.35 393.66 L56.89 393.75 L57.43 393.83 L57.97 393.92 L58.51 394 L59.05 394.09 L59.59 394.17 L60.13 394.26 L60.67 394.34 L61.21 394.43 L61.75 394.52 L62.29 394.61 L62.83 394.7 L63.37 394.79 L63.91 394.88 L64.45 394.97 L64.99 395.06 L65.53 395.15 L66.07 395.24 L66.61 395.33 L67.15 395.43 L67.69 395.52 L68.23 395.62 L68.77 395.71 L69.31 395.81 L69.85 395.91 L70.39 396 L70.93 396.1 L71.47 396.2 L72.01 396.3 L72.55 396.4 L73.09 396.51 L73.63 396.61 L74.17 396.71 L74.71 396.82 L75.25 396.92 L75.79 397.03 L76.33 397.14 L76.87 397.25 L77.41 397.35 L77.95 397.47 L78.49 397.58 L79.03 397.69 L79.57 397.8 L80.11 397.92 L80.65 398.03 L81.19 398.15 L81.73 398.27 L82.27 398.39 L82.81 398.51 L83.35 398.63 L83.89 398.75 L84.43 398.88 L84.97 399 L85.51 399.13 L86.05 399.26 L86.59 399.39 L87.13 399.52 L87.67 399.65 L88.21 399.78 L88.75 399.91 L89.29 400.05 L89.83 400.18 L90.37 400.32 L90.91 400.46 L91.46 400.6 L92 400.74 L92.54 400.88 L93.08 401.03 L93.62 401.17 L94.16 401.32 L94.7 401.47 L95.24 401.62 L95.78 401.77 L96.32 401.93 L96.86 402.09 L97.4 402.25 L97.94 402.41 L98.48 402.58 L99.02 402.75 L99.56 402.92 L100.1 403.09 L100.64 403.27 L101.18 403.45 L101.72 403.63 L102.26 403.81 L102.8 404 L103.34 404.19 L103.88 404.39 L104.42 404.59 L104.96 404.79 L105.5 405 L106.04 405.21 L106.58 405.42 L107.12 405.64 L107.66 405.86 L108.2 406.09 L108.74 406.32 L109.28 406.56 L109.82 406.82 L110.36 407.09 L110.9 407.37 L111.44 407.66 L111.98 407.96 L112.52 408.27 L113.06 408.59 L113.6 408.91 L114.14 409.25 L114.68 409.58 L115.22 409.93 L115.76 410.28 L116.3 410.63 L116.84 410.99 L117.38 411.35 L117.92 411.71 L118.46 412.08 L119 412.44 L119.54 412.81 L120.08 413.18 L120.62 413.54 L121.16 413.9 L121.7 414.27 L122.24 414.63 L122.78 415 L123.32 415.38 L123.86 415.76 L124.4 416.14 L124.94 416.53 L125.48 416.93 L126.02 417.32 L126.56 417.72 L127.1 418.12 L127.64 418.53 L128.19 418.94 L128.73 419.35 L129.27 419.76 L129.81 420.18 L130.35 420.6 L130.89 421.02 L131.43 421.44 L131.97 421.86 L132.51 422.27 L133.05 422.66 L133.59 423.04 L134.13 423.42 L134.67 423.8 L135.21 424.2 L135.75 424.61 L136.29 425.05 L136.83 425.52 L137.37 426.03 L137.91 426.59 L138.45 427.2 L138.99 427.9 L139.53 428.71 L140.07 429.62 L140.61 430.61 L141.15 431.69 L141.69 432.85 L142.23 434.07 L142.77 435.36 L143.31 436.7 L143.85 438.08 L144.39 439.5" stroke="#2fa32f" stroke-width="1.25" fill="none" stroke-linejoin="round"/>
<path d="M36.9 391.08m-1.35 0a1.35 1.35 0 1 0 2.7 0a1.35 1.35 0 1 0 -2.7 0M40.14 391.45m-1.35 0a1.35 1.35 0 1 0 2.7 0a1.35 1.35 0 1 0 -2.7 0M43.38 391.84m-1.35 0a1.35 1.35 0 1 0 2.7 0a1.35 1.35 0 1 0 -2.7 0M46.62 392.26m-1.35 0a1.35 1.35 0 1 0 2.7 0a1.35 1.35 0 1 0 -2.7 0M49.86 392.71m-1.35 0a1.35 1.35 0 1 0 2.7 0a1.35 1.35 0 1 0 -2.7 0M53.09 393.18m-1.35 0a1.35 1.35 0 1 0 2.7 0a1.35 1.35 0 1 0 -2.7 0M56.33 393.66m-1.35 0a1.35 1.35 0 1 0 2.7 0a1.35 1.35 0 1 0 -2.7 0M59.57 394.17m-1.35 0a1.35 1.35 0 1 0 2.7 0a1.35 1.35 0 1 0 -2.7 0M62.81 394.69m-1.35 0a1.35 1.35 0 1 0 2.7 0a1.35 1.35 0 1 0 -2.7 0M66.05 395.24m-1.35 0a1.35 1.35 0 1 0 2.7 0a1.35 1.35 0 1 0 -2.7 0M69.29 395.8m-1.35 0a1.35 1.35 0 1 0 2.7 0a1.35 1.35 0 1 0 -2.7 0M72.53 396.4m-1.35 0a1.35 1.35 0 1 0 2.7 0a1.35 1.35 0 1 0 -2.7 0M75.77 397.02m-1.35 0a1.35 1.35 0 1 0 2.7 0a1.35 1.35 0 1 0 -2.7 0M79.01 397.68m-1.35 0a1.35 1.35 0 1 0 2.7 0a1.35 1.35 0 1 0 -2.7 0M82.24 398.38m-1.35 0a1.35 1.35 0 1 0 2.7 0a1.35 1.35 0 1 0 -2.7 0M85.48 399.12m-1.35 0a1.35 1.35 0 1 0 2.7 0a1.35 1.35 0 1 0 -2.7 0M88.72 399.9m-1.35 0a1.35 1.35 0 1 0 2.7 0a1.35 1.35 0 1 0 -2.7 0M91.96 400.73m-1.35 0a1.35 1.35 0 1 0 2.7 0a1.35 1.35 0 1 0 -2.7 0M95.2 401.61m-1.35 0a1.35 1.35 0 1 0 2.7 0a1.35 1.35 0 1 0 -2.7 0M98.44 402.57m-1.35 0a1.35 1.35 0 1 0 2.7 0a1.35 1.35 0 1 0 -2.7 0M101.68 403.61m-1.35 0a1.35 1.35 0 1 0 2.7 0a1.35 1.35 0 1 0 -2.7 0M104.92 404.78m-1.35 0a1.35 1.35 0 1 0 2.7 0a1.35 1.35 0 1 0 -2.7 0M108.15 406.07m-1.35 0a1.35 1.35 0 1 0 2.7 0a1.35 1.35 0 1 0 -2.7 0M111.39 407.64m-1.35 0a1.35 1.35 0 1 0 2.7 0a1.35 1.35 0 1 0 -2.7 0M114.63 409.55m-1.35 0a1.35 1.35 0 1 0 2.7 0a1.35 1.35 0 1 0 -2.7 0M117.87 411.68m-1.35 0a1.35 1.35 0 1 0 2.7 0a1.35 1.35 0 1 0 -2.7 0M121.11 413.87m-1.35 0a1.35 1.35 0 1 0 2.7 0a1.35 1.35 0 1 0 -2.7 0M124.35 416.1m-1.35 0a1.35 1.35 0 1 0 2.7 0a1.35 1.35 0 1 0 -2.7 0M127.59 418.49m-1.35 0a1.35 1.35 0 1 0 2.7 0a1.35 1.35 0 1 0 -2.7 0M130.83 420.97m-1.35 0a1.35 1.35 0 1 0 2.7 0a1.35 1.35 0 1 0 -2.7 0M134.07 423.38m-1.35 0a1.35 1.35 0 1 0 2.7 0a1.35 1.35 0 1 0 -2.7 0M137.3 425.97m-1.35 0a1.35 1.35 0 1 0 2.7 0a1.35 1.35 0 1 0 -2.7 0M140.54 430.49m-1.35 0a1.35 1.35 0 1 0 2.7 0a1.35 1.35 0 1 0 -2.7 0M144.39 439.5m-1.35 0a1.35 1.35 0 1 0 2.7 0a1.35 1.35 0 1 0 -2.7 0" fill="#0a880a"/>
<path d="M115.4 331.8h13.5" stroke="#2fa32f" stroke-width="1.5"/>
<circle cx="122.15" cy="331.8" r="1.2" fill="#0a880a"/>
<text x="130.7" y="333.45" font-size="4.75" fill="#333" stroke="#333" stroke-width="0.12" textLength="41.8" lengthAdjust="spacingAndGlyphs">PbBr<tspan font-size="3" dy="1">2</tspan><tspan dy="-1"> (1.3 M) w/ InBr</tspan><tspan font-size="3" dy="1">3</tspan></text>
<path d="M115.4 339.4h13.5" stroke="#ff3030" stroke-width="1.5"/>
<circle cx="122.15" cy="339.4" r="1.2" fill="#f01818"/>
<text x="130.7" y="341.05" font-size="4.75" fill="#333" stroke="#333" stroke-width="0.12" textLength="45" lengthAdjust="spacingAndGlyphs">PbBr<tspan font-size="3" dy="1">2</tspan><tspan dy="-1"> (1.3 M) w/o InBr</tspan><tspan font-size="3" dy="1">3</tspan></text>
<text transform="translate(30.7 382.9) rotate(-90)" text-anchor="middle" font-size="5.3" fill="#333" stroke="#333" stroke-width="0.2">Current density (mA/cm<tspan font-size="3.5" dy="-1.6">2</tspan><tspan dy="1.6">)</tspan></text>
<text x="107.75" y="451.8" text-anchor="middle" font-size="5.6" fill="#333" stroke="#333" stroke-width="0.2">Voltage (V)</text>
<rect x="212.5" y="325.3" width="142.1" height="114.2" fill="none" stroke="#5a5a5a" stroke-width="1.05"/>
<path d="M212.5 439.5v-2.2M232.8 439.5v-2.2M253.1 439.5v-2.2M273.4 439.5v-2.2M293.7 439.5v-2.2M314 439.5v-2.2M334.3 439.5v-2.2M354.6 439.5v-2.2M222.65 439.5v-1.3M242.95 439.5v-1.3M263.25 439.5v-1.3M283.55 439.5v-1.3M303.85 439.5v-1.3M324.15 439.5v-1.3M344.45 439.5v-1.3M212.5 439.5h2.2M212.5 423.19h2.2M212.5 406.87h2.2M212.5 390.56h2.2M212.5 374.24h2.2M212.5 357.93h2.2M212.5 341.61h2.2M212.5 325.3h2.2M212.5 431.34h1.3M212.5 415.03h1.3M212.5 398.71h1.3M212.5 382.4h1.3M212.5 366.09h1.3M212.5 349.77h1.3M212.5 333.46h1.3" stroke="#5a5a5a" stroke-width="0.8" fill="none"/>
<g font-size="5.0" fill="#333" stroke="#333" stroke-width="0.18"><text x="212.5" y="444.8" text-anchor="middle">0.0</text><text x="232.8" y="444.8" text-anchor="middle">0.2</text><text x="253.1" y="444.8" text-anchor="middle">0.4</text><text x="273.4" y="444.8" text-anchor="middle">0.6</text><text x="293.7" y="444.8" text-anchor="middle">0.8</text><text x="314" y="444.8" text-anchor="middle">1.0</text><text x="334.3" y="444.8" text-anchor="middle">1.2</text><text x="354.6" y="444.8" text-anchor="middle">1.4</text><text x="210.9" y="441.2" text-anchor="end">0</text><text x="210.9" y="424.89" text-anchor="end">1</text><text x="210.9" y="408.57" text-anchor="end">2</text><text x="210.9" y="392.26" text-anchor="end">3</text><text x="210.9" y="375.94" text-anchor="end">4</text><text x="210.9" y="359.63" text-anchor="end">5</text><text x="210.9" y="343.31" text-anchor="end">6</text><text x="210.9" y="327" text-anchor="end">7</text></g>
<path d="M212.5 341.94 L213.14 341.97 L213.79 342 L214.43 342.03 L215.08 342.06 L215.72 342.09 L216.37 342.13 L217.01 342.16 L217.65 342.2 L218.3 342.23 L218.94 342.27 L219.59 342.3 L220.23 342.34 L220.87 342.38 L221.52 342.41 L222.16 342.45 L222.81 342.49 L223.45 342.53 L224.1 342.57 L224.74 342.61 L225.38 342.65 L226.03 342.7 L226.67 342.74 L227.32 342.78 L227.96 342.82 L228.6 342.87 L229.25 342.91 L229.89 342.96 L230.54 343 L231.18 343.05 L231.83 343.1 L232.47 343.14 L233.11 343.19 L233.76 343.24 L234.4 343.29 L235.05 343.34 L235.69 343.39 L236.34 343.44 L236.98 343.49 L237.62 343.54 L238.27 343.59 L238.91 343.64 L239.56 343.69 L240.2 343.75 L240.84 343.8 L241.49 343.85 L242.13 343.9 L242.78 343.96 L243.42 344.01 L244.07 344.07 L244.71 344.12 L245.35 344.18 L246 344.23 L246.64 344.29 L247.29 344.35 L247.93 344.4 L248.57 344.46 L249.22 344.52 L249.86 344.58 L250.51 344.63 L251.15 344.69 L251.8 344.75 L252.44 344.81 L253.08 344.87 L253.73 344.93 L254.37 344.99 L255.02 345.05 L255.66 345.11 L256.31 345.17 L256.95 345.23 L257.59 345.29 L258.24 345.35 L258.88 345.41 L259.53 345.48 L260.17 345.54 L260.81 345.6 L261.46 345.66 L262.1 345.72 L262.75 345.79 L263.39 345.85 L264.04 345.91 L264.68 345.98 L265.32 346.04 L265.97 346.1 L266.61 346.17 L267.26 346.23 L267.9 346.3 L268.54 346.36 L269.19 346.43 L269.83 346.49 L270.48 346.56 L271.12 346.63 L271.77 346.69 L272.41 346.76 L273.05 346.83 L273.7 346.91 L274.34 346.98 L274.99 347.05 L275.63 347.12 L276.28 347.2 L276.92 347.28 L277.56 347.35 L278.21 347.43 L278.85 347.51 L279.5 347.6 L280.14 347.68 L280.78 347.76 L281.43 347.85 L282.07 347.94 L282.72 348.03 L283.36 348.12 L284.01 348.21 L284.65 348.31 L285.29 348.41 L285.94 348.51 L286.58 348.61 L287.23 348.71 L287.87 348.82 L288.51 348.92 L289.16 349.03 L289.8 349.15 L290.45 349.27 L291.09 349.39 L291.74 349.52 L292.38 349.65 L293.02 349.79 L293.67 349.93 L294.31 350.08 L294.96 350.24 L295.6 350.4 L296.25 350.57 L296.89 350.74 L297.53 350.92 L298.18 351.1 L298.82 351.29 L299.47 351.48 L300.11 351.68 L300.75 351.88 L301.4 352.09 L302.04 352.31 L302.69 352.53 L303.33 352.76 L303.98 353 L304.62 353.24 L305.26 353.5 L305.91 353.78 L306.55 354.06 L307.2 354.36 L307.84 354.66 L308.48 354.99 L309.13 355.32 L309.77 355.67 L310.42 356.03 L311.06 356.41 L311.71 356.8 L312.35 357.21 L312.99 357.63 L313.64 358.08 L314.28 358.56 L314.93 359.08 L315.57 359.63 L316.22 360.22 L316.86 360.84 L317.5 361.5 L318.15 362.19 L318.79 362.9 L319.44 363.65 L320.08 364.43 L320.72 365.24 L321.37 366.08 L322.01 366.98 L322.66 367.93 L323.3 368.95 L323.95 370.03 L324.59 371.18 L325.23 372.38 L325.88 373.65 L326.52 374.98 L327.17 376.37 L327.81 377.83 L328.45 379.41 L329.1 381.14 L329.74 383 L330.39 384.97 L331.03 387.06 L331.68 389.24 L332.32 391.51 L332.96 393.86 L333.61 396.32 L334.25 398.94 L334.9 401.74 L335.54 404.73 L336.19 407.94 L336.83 411.39 L337.47 415.19 L338.12 419.4 L338.76 423.97 L339.41 428.87 L340.05 434.06 L340.69 439.5" stroke="#ff3030" stroke-width="1.25" fill="none" stroke-linejoin="round"/>
<path d="M212.5 341.94m-1.35 0a1.35 1.35 0 1 0 2.7 0a1.35 1.35 0 1 0 -2.7 0M215.75 342.1m-1.35 0a1.35 1.35 0 1 0 2.7 0a1.35 1.35 0 1 0 -2.7 0M219 342.27m-1.35 0a1.35 1.35 0 1 0 2.7 0a1.35 1.35 0 1 0 -2.7 0M222.24 342.46m-1.35 0a1.35 1.35 0 1 0 2.7 0a1.35 1.35 0 1 0 -2.7 0M225.49 342.66m-1.35 0a1.35 1.35 0 1 0 2.7 0a1.35 1.35 0 1 0 -2.7 0M228.74 342.88m-1.35 0a1.35 1.35 0 1 0 2.7 0a1.35 1.35 0 1 0 -2.7 0M231.99 343.11m-1.35 0a1.35 1.35 0 1 0 2.7 0a1.35 1.35 0 1 0 -2.7 0M235.24 343.35m-1.35 0a1.35 1.35 0 1 0 2.7 0a1.35 1.35 0 1 0 -2.7 0M238.48 343.61m-1.35 0a1.35 1.35 0 1 0 2.7 0a1.35 1.35 0 1 0 -2.7 0M241.73 343.87m-1.35 0a1.35 1.35 0 1 0 2.7 0a1.35 1.35 0 1 0 -2.7 0M244.98 344.15m-1.35 0a1.35 1.35 0 1 0 2.7 0a1.35 1.35 0 1 0 -2.7 0M248.23 344.43m-1.35 0a1.35 1.35 0 1 0 2.7 0a1.35 1.35 0 1 0 -2.7 0M251.48 344.72m-1.35 0a1.35 1.35 0 1 0 2.7 0a1.35 1.35 0 1 0 -2.7 0M254.72 345.02m-1.35 0a1.35 1.35 0 1 0 2.7 0a1.35 1.35 0 1 0 -2.7 0M257.97 345.33m-1.35 0a1.35 1.35 0 1 0 2.7 0a1.35 1.35 0 1 0 -2.7 0M261.22 345.64m-1.35 0a1.35 1.35 0 1 0 2.7 0a1.35 1.35 0 1 0 -2.7 0M264.47 345.96m-1.35 0a1.35 1.35 0 1 0 2.7 0a1.35 1.35 0 1 0 -2.7 0M267.72 346.28m-1.35 0a1.35 1.35 0 1 0 2.7 0a1.35 1.35 0 1 0 -2.7 0M270.96 346.61m-1.35 0a1.35 1.35 0 1 0 2.7 0a1.35 1.35 0 1 0 -2.7 0M274.21 346.96m-1.35 0a1.35 1.35 0 1 0 2.7 0a1.35 1.35 0 1 0 -2.7 0M277.46 347.34m-1.35 0a1.35 1.35 0 1 0 2.7 0a1.35 1.35 0 1 0 -2.7 0M280.71 347.75m-1.35 0a1.35 1.35 0 1 0 2.7 0a1.35 1.35 0 1 0 -2.7 0M283.96 348.21m-1.35 0a1.35 1.35 0 1 0 2.7 0a1.35 1.35 0 1 0 -2.7 0M287.2 348.71m-1.35 0a1.35 1.35 0 1 0 2.7 0a1.35 1.35 0 1 0 -2.7 0M290.45 349.27m-1.35 0a1.35 1.35 0 1 0 2.7 0a1.35 1.35 0 1 0 -2.7 0M293.7 349.94m-1.35 0a1.35 1.35 0 1 0 2.7 0a1.35 1.35 0 1 0 -2.7 0M296.95 350.75m-1.35 0a1.35 1.35 0 1 0 2.7 0a1.35 1.35 0 1 0 -2.7 0M300.2 351.71m-1.35 0a1.35 1.35 0 1 0 2.7 0a1.35 1.35 0 1 0 -2.7 0M303.44 352.8m-1.35 0a1.35 1.35 0 1 0 2.7 0a1.35 1.35 0 1 0 -2.7 0M306.69 354.12m-1.35 0a1.35 1.35 0 1 0 2.7 0a1.35 1.35 0 1 0 -2.7 0M309.94 355.76m-1.35 0a1.35 1.35 0 1 0 2.7 0a1.35 1.35 0 1 0 -2.7 0M313.19 357.77m-1.35 0a1.35 1.35 0 1 0 2.7 0a1.35 1.35 0 1 0 -2.7 0M316.44 360.43m-1.35 0a1.35 1.35 0 1 0 2.7 0a1.35 1.35 0 1 0 -2.7 0M319.68 363.95m-1.35 0a1.35 1.35 0 1 0 2.7 0a1.35 1.35 0 1 0 -2.7 0M322.93 368.36m-1.35 0a1.35 1.35 0 1 0 2.7 0a1.35 1.35 0 1 0 -2.7 0M326.18 374.26m-1.35 0a1.35 1.35 0 1 0 2.7 0a1.35 1.35 0 1 0 -2.7 0M329.43 382.07m-1.35 0a1.35 1.35 0 1 0 2.7 0a1.35 1.35 0 1 0 -2.7 0M332.68 392.8m-1.35 0a1.35 1.35 0 1 0 2.7 0a1.35 1.35 0 1 0 -2.7 0M335.92 406.61m-1.35 0a1.35 1.35 0 1 0 2.7 0a1.35 1.35 0 1 0 -2.7 0M339.17 427.05m-1.35 0a1.35 1.35 0 1 0 2.7 0a1.35 1.35 0 1 0 -2.7 0M340.69 439.5m-1.35 0a1.35 1.35 0 1 0 2.7 0a1.35 1.35 0 1 0 -2.7 0" fill="#f01818"/>
<path d="M212.5 391.7 L213.03 391.75 L213.55 391.8 L214.08 391.85 L214.6 391.9 L215.13 391.95 L215.65 392 L216.18 392.05 L216.7 392.1 L217.23 392.15 L217.75 392.2 L218.28 392.25 L218.8 392.31 L219.33 392.36 L219.85 392.41 L220.38 392.47 L220.91 392.52 L221.43 392.57 L221.96 392.63 L222.48 392.68 L223.01 392.73 L223.53 392.79 L224.06 392.84 L224.58 392.9 L225.11 392.96 L225.63 393.01 L226.16 393.07 L226.68 393.12 L227.21 393.18 L227.74 393.24 L228.26 393.29 L228.79 393.35 L229.31 393.41 L229.84 393.47 L230.36 393.52 L230.89 393.58 L231.41 393.64 L231.94 393.7 L232.46 393.76 L232.99 393.82 L233.51 393.88 L234.04 393.94 L234.56 394 L235.09 394.06 L235.62 394.12 L236.14 394.18 L236.67 394.24 L237.19 394.3 L237.72 394.36 L238.24 394.42 L238.77 394.48 L239.29 394.54 L239.82 394.6 L240.34 394.66 L240.87 394.72 L241.39 394.78 L241.92 394.84 L242.45 394.9 L242.97 394.95 L243.5 395.01 L244.02 395.07 L244.55 395.13 L245.07 395.19 L245.6 395.25 L246.12 395.31 L246.65 395.37 L247.17 395.43 L247.7 395.49 L248.22 395.55 L248.75 395.61 L249.27 395.67 L249.8 395.73 L250.33 395.8 L250.85 395.86 L251.38 395.93 L251.9 395.99 L252.43 396.06 L252.95 396.13 L253.48 396.19 L254 396.26 L254.53 396.33 L255.05 396.4 L255.58 396.48 L256.1 396.55 L256.63 396.63 L257.15 396.7 L257.68 396.78 L258.21 396.86 L258.73 396.94 L259.26 397.02 L259.78 397.1 L260.31 397.19 L260.83 397.28 L261.36 397.37 L261.88 397.46 L262.41 397.55 L262.93 397.64 L263.46 397.74 L263.98 397.84 L264.51 397.94 L265.04 398.04 L265.56 398.15 L266.09 398.27 L266.61 398.38 L267.14 398.5 L267.66 398.63 L268.19 398.75 L268.71 398.88 L269.24 399.02 L269.76 399.16 L270.29 399.3 L270.81 399.44 L271.34 399.59 L271.86 399.74 L272.39 399.89 L272.92 400.05 L273.44 400.21 L273.97 400.37 L274.49 400.54 L275.02 400.7 L275.54 400.88 L276.07 401.05 L276.59 401.23 L277.12 401.41 L277.64 401.59 L278.17 401.77 L278.69 401.96 L279.22 402.15 L279.75 402.35 L280.27 402.55 L280.8 402.76 L281.32 402.98 L281.85 403.2 L282.37 403.43 L282.9 403.66 L283.42 403.9 L283.95 404.15 L284.47 404.4 L285 404.66 L285.52 404.93 L286.05 405.2 L286.57 405.47 L287.1 405.76 L287.63 406.05 L288.15 406.34 L288.68 406.64 L289.2 406.94 L289.73 407.25 L290.25 407.57 L290.78 407.89 L291.3 408.21 L291.83 408.54 L292.35 408.88 L292.88 409.22 L293.4 409.57 L293.93 409.94 L294.45 410.31 L294.98 410.7 L295.51 411.09 L296.03 411.49 L296.56 411.91 L297.08 412.34 L297.61 412.77 L298.13 413.22 L298.66 413.67 L299.18 414.14 L299.71 414.61 L300.23 415.1 L300.76 415.59 L301.28 416.1 L301.81 416.62 L302.34 417.14 L302.86 417.68 L303.39 418.22 L303.91 418.79 L304.44 419.39 L304.96 420 L305.49 420.64 L306.01 421.3 L306.54 421.98 L307.06 422.68 L307.59 423.4 L308.11 424.13 L308.64 424.88 L309.16 425.64 L309.69 426.42 L310.22 427.21 L310.74 428.02 L311.27 428.86 L311.79 429.72 L312.32 430.6 L312.84 431.51 L313.37 432.44 L313.89 433.39 L314.42 434.36 L314.94 435.35 L315.47 436.36 L315.99 437.39 L316.52 438.44 L317.05 439.5" stroke="#2fa32f" stroke-width="1.25" fill="none" stroke-linejoin="round"/>
<path d="M212.5 391.7m-1.35 0a1.35 1.35 0 1 0 2.7 0a1.35 1.35 0 1 0 -2.7 0M215.75 392.01m-1.35 0a1.35 1.35 0 1 0 2.7 0a1.35 1.35 0 1 0 -2.7 0M219 392.33m-1.35 0a1.35 1.35 0 1 0 2.7 0a1.35 1.35 0 1 0 -2.7 0M222.24 392.66m-1.35 0a1.35 1.35 0 1 0 2.7 0a1.35 1.35 0 1 0 -2.7 0M225.49 393m-1.35 0a1.35 1.35 0 1 0 2.7 0a1.35 1.35 0 1 0 -2.7 0M228.74 393.35m-1.35 0a1.35 1.35 0 1 0 2.7 0a1.35 1.35 0 1 0 -2.7 0M231.99 393.71m-1.35 0a1.35 1.35 0 1 0 2.7 0a1.35 1.35 0 1 0 -2.7 0M235.24 394.07m-1.35 0a1.35 1.35 0 1 0 2.7 0a1.35 1.35 0 1 0 -2.7 0M238.48 394.45m-1.35 0a1.35 1.35 0 1 0 2.7 0a1.35 1.35 0 1 0 -2.7 0M241.73 394.82m-1.35 0a1.35 1.35 0 1 0 2.7 0a1.35 1.35 0 1 0 -2.7 0M244.98 395.18m-1.35 0a1.35 1.35 0 1 0 2.7 0a1.35 1.35 0 1 0 -2.7 0M248.23 395.55m-1.35 0a1.35 1.35 0 1 0 2.7 0a1.35 1.35 0 1 0 -2.7 0M251.48 395.94m-1.35 0a1.35 1.35 0 1 0 2.7 0a1.35 1.35 0 1 0 -2.7 0M254.72 396.36m-1.35 0a1.35 1.35 0 1 0 2.7 0a1.35 1.35 0 1 0 -2.7 0M257.97 396.82m-1.35 0a1.35 1.35 0 1 0 2.7 0a1.35 1.35 0 1 0 -2.7 0M261.22 397.34m-1.35 0a1.35 1.35 0 1 0 2.7 0a1.35 1.35 0 1 0 -2.7 0M264.47 397.93m-1.35 0a1.35 1.35 0 1 0 2.7 0a1.35 1.35 0 1 0 -2.7 0M267.72 398.64m-1.35 0a1.35 1.35 0 1 0 2.7 0a1.35 1.35 0 1 0 -2.7 0M270.96 399.48m-1.35 0a1.35 1.35 0 1 0 2.7 0a1.35 1.35 0 1 0 -2.7 0M274.21 400.45m-1.35 0a1.35 1.35 0 1 0 2.7 0a1.35 1.35 0 1 0 -2.7 0M277.46 401.52m-1.35 0a1.35 1.35 0 1 0 2.7 0a1.35 1.35 0 1 0 -2.7 0M280.71 402.72m-1.35 0a1.35 1.35 0 1 0 2.7 0a1.35 1.35 0 1 0 -2.7 0M283.96 404.15m-1.35 0a1.35 1.35 0 1 0 2.7 0a1.35 1.35 0 1 0 -2.7 0M287.2 405.81m-1.35 0a1.35 1.35 0 1 0 2.7 0a1.35 1.35 0 1 0 -2.7 0M290.45 407.69m-1.35 0a1.35 1.35 0 1 0 2.7 0a1.35 1.35 0 1 0 -2.7 0M293.7 409.78m-1.35 0a1.35 1.35 0 1 0 2.7 0a1.35 1.35 0 1 0 -2.7 0M296.95 412.23m-1.35 0a1.35 1.35 0 1 0 2.7 0a1.35 1.35 0 1 0 -2.7 0M300.2 415.06m-1.35 0a1.35 1.35 0 1 0 2.7 0a1.35 1.35 0 1 0 -2.7 0M303.44 418.29m-1.35 0a1.35 1.35 0 1 0 2.7 0a1.35 1.35 0 1 0 -2.7 0M306.69 422.19m-1.35 0a1.35 1.35 0 1 0 2.7 0a1.35 1.35 0 1 0 -2.7 0M309.94 426.8m-1.35 0a1.35 1.35 0 1 0 2.7 0a1.35 1.35 0 1 0 -2.7 0M313.19 432.12m-1.35 0a1.35 1.35 0 1 0 2.7 0a1.35 1.35 0 1 0 -2.7 0M317.05 439.5m-1.35 0a1.35 1.35 0 1 0 2.7 0a1.35 1.35 0 1 0 -2.7 0" fill="#0a880a"/>
<path d="M291.4 331.8h13.5" stroke="#2fa32f" stroke-width="1.5"/>
<circle cx="298.15" cy="331.8" r="1.2" fill="#0a880a"/>
<text x="306.7" y="333.45" font-size="4.75" fill="#333" stroke="#333" stroke-width="0.12" textLength="41.8" lengthAdjust="spacingAndGlyphs">PbBr<tspan font-size="3" dy="1">2</tspan><tspan dy="-1"> (1.4 M) w/ InBr</tspan><tspan font-size="3" dy="1">3</tspan></text>
<path d="M291.4 339.4h13.5" stroke="#ff3030" stroke-width="1.5"/>
<circle cx="298.15" cy="339.4" r="1.2" fill="#f01818"/>
<text x="306.7" y="341.05" font-size="4.75" fill="#333" stroke="#333" stroke-width="0.12" textLength="45" lengthAdjust="spacingAndGlyphs">PbBr<tspan font-size="3" dy="1">2</tspan><tspan dy="-1"> (1.4 M) w/o InBr</tspan><tspan font-size="3" dy="1">3</tspan></text>
<text transform="translate(206.3 382.9) rotate(-90)" text-anchor="middle" font-size="5.3" fill="#333" stroke="#333" stroke-width="0.2">Current density (mA/cm<tspan font-size="3.5" dy="-1.6">2</tspan><tspan dy="1.6">)</tspan></text>
<text x="283.55" y="451.8" text-anchor="middle" font-size="5.6" fill="#333" stroke="#333" stroke-width="0.2">Voltage (V)</text>
<rect x="388.6" y="325.3" width="141.1" height="114.2" fill="none" stroke="#5a5a5a" stroke-width="1.05"/>
<path d="M388.6 439.5v-2.2M414.73 439.5v-2.2M440.86 439.5v-2.2M466.99 439.5v-2.2M493.12 439.5v-2.2M519.25 439.5v-2.2M401.66 439.5v-1.3M427.79 439.5v-1.3M453.92 439.5v-1.3M480.05 439.5v-1.3M506.18 439.5v-1.3M388.6 439.5h2.2M388.6 416.66h2.2M388.6 393.82h2.2M388.6 370.98h2.2M388.6 348.14h2.2M388.6 325.3h2.2M388.6 428.08h1.3M388.6 405.24h1.3M388.6 382.4h1.3M388.6 359.56h1.3M388.6 336.72h1.3M529.7 439.5h-2.2M529.7 423.19h-2.2M529.7 406.87h-2.2M529.7 390.56h-2.2M529.7 374.24h-2.2M529.7 357.93h-2.2M529.7 341.61h-2.2M529.7 325.3h-2.2M529.7 431.34h-1.3M529.7 415.03h-1.3M529.7 398.71h-1.3M529.7 382.4h-1.3M529.7 366.09h-1.3M529.7 349.77h-1.3M529.7 333.46h-1.3" stroke="#5a5a5a" stroke-width="0.8" fill="none"/>
<g font-size="5.0" fill="#333" stroke="#333" stroke-width="0.18"><text x="388.6" y="444.8" text-anchor="middle">300</text><text x="414.73" y="444.8" text-anchor="middle">350</text><text x="440.86" y="444.8" text-anchor="middle">400</text><text x="466.99" y="444.8" text-anchor="middle">450</text><text x="493.12" y="444.8" text-anchor="middle">500</text><text x="519.25" y="444.8" text-anchor="middle">550</text><text x="387" y="441.2" text-anchor="end">0</text><text x="387" y="418.36" text-anchor="end">20</text><text x="387" y="395.52" text-anchor="end">40</text><text x="387" y="372.68" text-anchor="end">60</text><text x="387" y="349.84" text-anchor="end">80</text><text x="387" y="327" text-anchor="end">100</text><text x="531.7" y="441.2">0</text><text x="531.7" y="424.89">1</text><text x="531.7" y="408.57">2</text><text x="531.7" y="392.26">3</text><text x="531.7" y="375.94">4</text><text x="531.7" y="359.63">5</text><text x="531.7" y="343.31">6</text><text x="531.7" y="327">7</text></g>
<path d="M388.6 439.5 L389.12 439.5 L389.65 439.5 L390.17 439.5 L390.69 439.5 L391.21 439.5 L391.74 439.5 L392.26 439.5 L392.78 439.5 L393.3 439.5 L393.83 439.5 L394.35 439.5 L394.87 439.5 L395.39 439.5 L395.92 439.49 L396.44 439.49 L396.96 439.49 L397.48 439.49 L398.01 439.49 L398.53 439.49 L399.05 439.48 L399.57 439.48 L400.1 439.47 L400.62 439.46 L401.14 439.45 L401.66 439.43 L402.19 439.41 L402.71 439.39 L403.23 439.37 L403.76 439.34 L404.28 439.3 L404.8 439.26 L405.32 439.22 L405.85 439.18 L406.37 439.12 L406.89 439.07 L407.41 439.01 L407.94 438.95 L408.46 438.88 L408.98 438.81 L409.5 438.74 L410.03 438.66 L410.55 438.58 L411.07 438.5 L411.59 438.42 L412.12 438.34 L412.64 438.25 L413.16 438.17 L413.68 438.08 L414.21 437.99 L414.73 437.9 L415.25 437.8 L415.77 437.71 L416.3 437.61 L416.82 437.5 L417.34 437.4 L417.87 437.29 L418.39 437.18 L418.91 437.07 L419.43 436.96 L419.96 436.84 L420.48 436.72 L421 436.6 L421.52 436.48 L422.05 436.35 L422.57 436.22 L423.09 436.08 L423.61 435.95 L424.14 435.81 L424.66 435.66 L425.18 435.52 L425.7 435.37 L426.23 435.22 L426.75 435.06 L427.27 434.91 L427.79 434.75 L428.32 434.59 L428.84 434.43 L429.36 434.27 L429.88 434.11 L430.41 433.95 L430.93 433.78 L431.45 433.61 L431.98 433.44 L432.5 433.27 L433.02 433.1 L433.54 432.92 L434.07 432.74 L434.59 432.56 L435.11 432.38 L435.63 432.19 L436.16 432.01 L436.68 431.81 L437.2 431.61 L437.72 431.41 L438.25 431.2 L438.77 430.98 L439.29 430.76 L439.81 430.53 L440.34 430.29 L440.86 430.05 L441.38 429.81 L441.9 429.56 L442.43 429.31 L442.95 429.05 L443.47 428.79 L443.99 428.53 L444.52 428.26 L445.04 427.99 L445.56 427.71 L446.09 427.43 L446.61 427.15 L447.13 426.86 L447.65 426.57 L448.18 426.27 L448.7 425.97 L449.22 425.66 L449.74 425.36 L450.27 425.04 L450.79 424.72 L451.31 424.4 L451.83 424.08 L452.36 423.75 L452.88 423.42 L453.4 423.09 L453.92 422.75 L454.45 422.41 L454.97 422.07 L455.49 421.73 L456.01 421.38 L456.54 421.03 L457.06 420.68 L457.58 420.33 L458.1 419.97 L458.63 419.61 L459.15 419.25 L459.67 418.89 L460.2 418.52 L460.72 418.15 L461.24 417.78 L461.76 417.4 L462.29 417.03 L462.81 416.65 L463.33 416.27 L463.85 415.89 L464.38 415.5 L464.9 415.12 L465.42 414.73 L465.94 414.34 L466.47 413.95 L466.99 413.56 L467.51 413.16 L468.03 412.77 L468.56 412.37 L469.08 411.97 L469.6 411.57 L470.12 411.16 L470.65 410.76 L471.17 410.35 L471.69 409.94 L472.21 409.53 L472.74 409.12 L473.26 408.71 L473.78 408.3 L474.31 407.89 L474.83 407.48 L475.35 407.07 L475.87 406.66 L476.4 406.25 L476.92 405.84 L477.44 405.42 L477.96 405.01 L478.49 404.6 L479.01 404.19 L479.53 403.78 L480.05 403.37 L480.58 402.96 L481.1 402.55 L481.62 402.14 L482.14 401.72 L482.67 401.31 L483.19 400.9 L483.71 400.49 L484.23 400.08 L484.76 399.67 L485.28 399.26 L485.8 398.84 L486.32 398.43 L486.85 398.02 L487.37 397.61 L487.89 397.2 L488.42 396.78 L488.94 396.37 L489.46 395.96 L489.98 395.54 L490.51 395.13 L491.03 394.72 L491.55 394.3 L492.07 393.88 L492.6 393.47 L493.12 393.05 L493.64 392.63 L494.16 392.21 L494.69 391.78 L495.21 391.36 L495.73 390.94 L496.25 390.51 L496.78 390.08 L497.3 389.64 L497.82 389.21 L498.34 388.77 L498.87 388.32 L499.39 387.88 L499.91 387.43 L500.43 386.98 L500.96 386.53 L501.48 386.08 L502 385.64 L502.53 385.2 L503.05 384.76 L503.57 384.32 L504.09 383.87 L504.62 383.43 L505.14 382.98 L505.66 382.52 L506.18 382.08 L506.71 381.65 L507.23 381.27 L507.75 380.94 L508.27 380.66 L508.8 380.41 L509.32 380.2 L509.84 380.03 L510.36 379.89 L510.89 379.77 L511.41 379.69 L511.93 379.62 L512.45 379.57 L512.98 379.53 L513.5 379.51 L514.02 379.5 L514.54 379.48 L515.07 379.48 L515.59 379.47 L516.11 379.47 L516.64 379.47 L517.16 379.46 L517.68 379.46 L518.2 379.46 L518.73 379.46 L519.25 379.46 L519.77 379.46 L520.29 379.46 L520.82 379.46 L521.34 379.46 L521.86 379.46 L522.38 379.46 L522.91 379.46 L523.43 379.46 L523.95 379.46 L524.47 379.46 L525 379.46 L525.52 379.46 L526.04 379.46 L526.56 379.46 L527.09 379.46 L527.61 379.46 L528.13 379.46 L528.65 379.46 L529.18 379.46 L529.7 379.46" stroke="#3aaa3a" stroke-width="1.1" fill="none"/>
<path d="M388.6 435.62 L389.12 435.62 L389.65 435.62 L390.17 435.62 L390.69 435.69 L391.21 435.87 L391.74 436.07 L392.26 436.29 L392.78 436.53 L393.3 436.81 L393.83 437.09 L394.35 437.22 L394.87 437.11 L395.39 436.82 L395.92 436.4 L396.44 435.89 L396.96 435.29 L397.48 434.33 L398.01 433.05 L398.53 431.55 L399.05 429.9 L399.57 428.21 L400.1 426.56 L400.62 424.79 L401.14 422.87 L401.66 420.86 L402.19 418.78 L402.71 416.68 L403.23 414.6 L403.76 412.5 L404.28 410.31 L404.8 408.1 L405.32 405.91 L405.85 403.8 L406.37 401.81 L406.89 399.79 L407.41 397.64 L407.94 395.53 L408.46 393.63 L408.98 392.1 L409.5 391.13 L410.03 390.69 L410.55 390.38 L411.07 390.15 L411.59 389.96 L412.12 389.8 L412.64 389.63 L413.16 389.44 L413.68 389.2 L414.21 388.88 L414.73 388.46 L415.25 387.94 L415.77 387.37 L416.3 386.77 L416.82 386.17 L417.34 385.6 L417.87 385.1 L418.39 384.68 L418.91 384.34 L419.43 384 L419.96 383.69 L420.48 383.4 L421 383.13 L421.52 382.89 L422.05 382.69 L422.57 382.51 L423.09 382.36 L423.61 382.21 L424.14 382.06 L424.66 381.92 L425.18 381.8 L425.7 381.69 L426.23 381.6 L426.75 381.53 L427.27 381.49 L427.79 381.49 L428.32 381.54 L428.84 381.65 L429.36 381.81 L429.88 382 L430.41 382.23 L430.93 382.47 L431.45 382.73 L431.98 382.98 L432.5 383.23 L433.02 383.46 L433.54 383.66 L434.07 383.84 L434.59 384.03 L435.11 384.23 L435.63 384.43 L436.16 384.62 L436.68 384.81 L437.2 385 L437.72 385.18 L438.25 385.35 L438.77 385.51 L439.29 385.65 L439.81 385.78 L440.34 385.89 L440.86 386 L441.38 386.1 L441.9 386.19 L442.43 386.28 L442.95 386.36 L443.47 386.44 L443.99 386.52 L444.52 386.59 L445.04 386.66 L445.56 386.73 L446.09 386.79 L446.61 386.85 L447.13 386.91 L447.65 386.97 L448.18 387.02 L448.7 387.07 L449.22 387.12 L449.74 387.17 L450.27 387.21 L450.79 387.26 L451.31 387.3 L451.83 387.34 L452.36 387.38 L452.88 387.42 L453.4 387.46 L453.92 387.5 L454.45 387.54 L454.97 387.58 L455.49 387.62 L456.01 387.66 L456.54 387.7 L457.06 387.75 L457.58 387.79 L458.1 387.84 L458.63 387.89 L459.15 387.94 L459.67 388 L460.2 388.05 L460.72 388.11 L461.24 388.18 L461.76 388.25 L462.29 388.32 L462.81 388.39 L463.33 388.46 L463.85 388.54 L464.38 388.62 L464.9 388.7 L465.42 388.78 L465.94 388.86 L466.47 388.95 L466.99 389.03 L467.51 389.11 L468.03 389.2 L468.56 389.28 L469.08 389.37 L469.6 389.45 L470.12 389.53 L470.65 389.61 L471.17 389.69 L471.69 389.76 L472.21 389.84 L472.74 389.91 L473.26 389.98 L473.78 390.05 L474.31 390.11 L474.83 390.17 L475.35 390.23 L475.87 390.28 L476.4 390.33 L476.92 390.38 L477.44 390.44 L477.96 390.49 L478.49 390.55 L479.01 390.6 L479.53 390.65 L480.05 390.71 L480.58 390.76 L481.1 390.81 L481.62 390.86 L482.14 390.91 L482.67 390.96 L483.19 391 L483.71 391.05 L484.23 391.09 L484.76 391.13 L485.28 391.16 L485.8 391.19 L486.32 391.22 L486.85 391.25 L487.37 391.27 L487.89 391.29 L488.42 391.3 L488.94 391.31 L489.46 391.31 L489.98 391.3 L490.51 391.27 L491.03 391.23 L491.55 391.17 L492.07 391.1 L492.6 391.02 L493.12 390.93 L493.64 390.83 L494.16 390.73 L494.69 390.62 L495.21 390.47 L495.73 390.25 L496.25 389.98 L496.78 389.66 L497.3 389.33 L497.82 389 L498.34 388.69 L498.87 388.41 L499.39 388.19 L499.91 388.05 L500.43 388 L500.96 388.13 L501.48 388.44 L502 388.81 L502.53 389.12 L503.05 389.25 L503.57 389.13 L504.09 388.84 L504.62 388.49 L505.14 388.21 L505.66 388.13 L506.18 389.96 L506.71 394.1 L507.23 399.48 L507.75 405.07 L508.27 409.81 L508.8 413.9 L509.32 418.08 L509.84 422.09 L510.36 425.65 L510.89 428.53 L511.41 430.85 L511.93 433.02 L512.45 434.94 L512.98 436.49 L513.5 437.53 L514.02 438.07 L514.54 438.49 L515.07 438.82 L515.59 439.07 L516.11 439.23 L516.64 439.32 L517.16 439.39 L517.68 439.44 L518.2 439.48 L518.73 439.5 L519.25 439.5 L519.77 439.5 L520.29 439.5 L520.82 439.5 L521.34 439.5 L521.86 439.5 L522.38 439.5 L522.91 439.5 L523.43 439.5 L523.95 439.5 L524.47 439.5 L525 439.5 L525.52 439.5 L526.04 439.5 L526.56 439.5 L527.09 439.5 L527.61 439.5 L528.13 439.5 L528.65 439.5 L529.18 439.5 L529.7 439.5" stroke="#3aaa3a" stroke-width="1.1" fill="none" stroke-linejoin="round"/>
<path d="M389.12 435.62m-0.75 0a0.75 0.75 0 1 0 1.5 0a0.75 0.75 0 1 0 -1.5 0M392.78 436.53m-0.75 0a0.75 0.75 0 1 0 1.5 0a0.75 0.75 0 1 0 -1.5 0M396.44 435.89m-0.75 0a0.75 0.75 0 1 0 1.5 0a0.75 0.75 0 1 0 -1.5 0M400.1 426.56m-0.75 0a0.75 0.75 0 1 0 1.5 0a0.75 0.75 0 1 0 -1.5 0M403.76 412.5m-0.75 0a0.75 0.75 0 1 0 1.5 0a0.75 0.75 0 1 0 -1.5 0M407.41 397.64m-0.75 0a0.75 0.75 0 1 0 1.5 0a0.75 0.75 0 1 0 -1.5 0M411.07 390.15m-0.75 0a0.75 0.75 0 1 0 1.5 0a0.75 0.75 0 1 0 -1.5 0M414.73 388.46m-0.75 0a0.75 0.75 0 1 0 1.5 0a0.75 0.75 0 1 0 -1.5 0M418.39 384.68m-0.75 0a0.75 0.75 0 1 0 1.5 0a0.75 0.75 0 1 0 -1.5 0M422.05 382.69m-0.75 0a0.75 0.75 0 1 0 1.5 0a0.75 0.75 0 1 0 -1.5 0M425.7 381.69m-0.75 0a0.75 0.75 0 1 0 1.5 0a0.75 0.75 0 1 0 -1.5 0M429.36 381.81m-0.75 0a0.75 0.75 0 1 0 1.5 0a0.75 0.75 0 1 0 -1.5 0M433.02 383.46m-0.75 0a0.75 0.75 0 1 0 1.5 0a0.75 0.75 0 1 0 -1.5 0M436.68 384.81m-0.75 0a0.75 0.75 0 1 0 1.5 0a0.75 0.75 0 1 0 -1.5 0M440.34 385.89m-0.75 0a0.75 0.75 0 1 0 1.5 0a0.75 0.75 0 1 0 -1.5 0M443.99 386.52m-0.75 0a0.75 0.75 0 1 0 1.5 0a0.75 0.75 0 1 0 -1.5 0M447.65 386.97m-0.75 0a0.75 0.75 0 1 0 1.5 0a0.75 0.75 0 1 0 -1.5 0M451.31 387.3m-0.75 0a0.75 0.75 0 1 0 1.5 0a0.75 0.75 0 1 0 -1.5 0M454.97 387.58m-0.75 0a0.75 0.75 0 1 0 1.5 0a0.75 0.75 0 1 0 -1.5 0M458.63 387.89m-0.75 0a0.75 0.75 0 1 0 1.5 0a0.75 0.75 0 1 0 -1.5 0M462.29 388.32m-0.75 0a0.75 0.75 0 1 0 1.5 0a0.75 0.75 0 1 0 -1.5 0M465.94 388.86m-0.75 0a0.75 0.75 0 1 0 1.5 0a0.75 0.75 0 1 0 -1.5 0M469.6 389.45m-0.75 0a0.75 0.75 0 1 0 1.5 0a0.75 0.75 0 1 0 -1.5 0M473.26 389.98m-0.75 0a0.75 0.75 0 1 0 1.5 0a0.75 0.75 0 1 0 -1.5 0M476.92 390.38m-0.75 0a0.75 0.75 0 1 0 1.5 0a0.75 0.75 0 1 0 -1.5 0M480.58 390.76m-0.75 0a0.75 0.75 0 1 0 1.5 0a0.75 0.75 0 1 0 -1.5 0M484.23 391.09m-0.75 0a0.75 0.75 0 1 0 1.5 0a0.75 0.75 0 1 0 -1.5 0M487.89 391.29m-0.75 0a0.75 0.75 0 1 0 1.5 0a0.75 0.75 0 1 0 -1.5 0M491.55 391.17m-0.75 0a0.75 0.75 0 1 0 1.5 0a0.75 0.75 0 1 0 -1.5 0M495.21 390.47m-0.75 0a0.75 0.75 0 1 0 1.5 0a0.75 0.75 0 1 0 -1.5 0M498.87 388.41m-0.75 0a0.75 0.75 0 1 0 1.5 0a0.75 0.75 0 1 0 -1.5 0M502.53 389.12m-0.75 0a0.75 0.75 0 1 0 1.5 0a0.75 0.75 0 1 0 -1.5 0M506.18 389.96m-0.75 0a0.75 0.75 0 1 0 1.5 0a0.75 0.75 0 1 0 -1.5 0M509.84 422.09m-0.75 0a0.75 0.75 0 1 0 1.5 0a0.75 0.75 0 1 0 -1.5 0M513.5 437.53m-0.75 0a0.75 0.75 0 1 0 1.5 0a0.75 0.75 0 1 0 -1.5 0M517.16 439.39m-0.75 0a0.75 0.75 0 1 0 1.5 0a0.75 0.75 0 1 0 -1.5 0M520.82 439.5m-0.75 0a0.75 0.75 0 1 0 1.5 0a0.75 0.75 0 1 0 -1.5 0M524.47 439.5m-0.75 0a0.75 0.75 0 1 0 1.5 0a0.75 0.75 0 1 0 -1.5 0M528.13 439.5m-0.75 0a0.75 0.75 0 1 0 1.5 0a0.75 0.75 0 1 0 -1.5 0" fill="#1a8a1a"/>
<path d="M388.6 439.5 L389.12 439.5 L389.65 439.5 L390.17 439.5 L390.69 439.5 L391.21 439.5 L391.74 439.5 L392.26 439.5 L392.78 439.5 L393.3 439.5 L393.83 439.5 L394.35 439.5 L394.87 439.5 L395.39 439.5 L395.92 439.49 L396.44 439.49 L396.96 439.49 L397.48 439.49 L398.01 439.49 L398.53 439.49 L399.05 439.48 L399.57 439.48 L400.1 439.47 L400.62 439.46 L401.14 439.45 L401.66 439.43 L402.19 439.41 L402.71 439.39 L403.23 439.37 L403.76 439.34 L404.28 439.3 L404.8 439.26 L405.32 439.22 L405.85 439.17 L406.37 439.12 L406.89 439.07 L407.41 439.01 L407.94 438.95 L408.46 438.88 L408.98 438.81 L409.5 438.73 L410.03 438.66 L410.55 438.58 L411.07 438.49 L411.59 438.41 L412.12 438.32 L412.64 438.24 L413.16 438.15 L413.68 438.06 L414.21 437.96 L414.73 437.87 L415.25 437.77 L415.77 437.67 L416.3 437.56 L416.82 437.45 L417.34 437.34 L417.87 437.23 L418.39 437.12 L418.91 437 L419.43 436.88 L419.96 436.75 L420.48 436.62 L421 436.49 L421.52 436.36 L422.05 436.22 L422.57 436.07 L423.09 435.92 L423.61 435.77 L424.14 435.62 L424.66 435.46 L425.18 435.3 L425.7 435.13 L426.23 434.96 L426.75 434.79 L427.27 434.62 L427.79 434.45 L428.32 434.27 L428.84 434.09 L429.36 433.91 L429.88 433.73 L430.41 433.55 L430.93 433.36 L431.45 433.17 L431.98 432.98 L432.5 432.78 L433.02 432.59 L433.54 432.39 L434.07 432.18 L434.59 431.98 L435.11 431.77 L435.63 431.56 L436.16 431.34 L436.68 431.11 L437.2 430.88 L437.72 430.65 L438.25 430.4 L438.77 430.15 L439.29 429.89 L439.81 429.63 L440.34 429.35 L440.86 429.07 L441.38 428.78 L441.9 428.49 L442.43 428.19 L442.95 427.89 L443.47 427.58 L443.99 427.27 L444.52 426.95 L445.04 426.63 L445.56 426.3 L446.09 425.96 L446.61 425.62 L447.13 425.27 L447.65 424.92 L448.18 424.57 L448.7 424.2 L449.22 423.84 L449.74 423.46 L450.27 423.09 L450.79 422.7 L451.31 422.31 L451.83 421.92 L452.36 421.52 L452.88 421.12 L453.4 420.72 L453.92 420.31 L454.45 419.9 L454.97 419.49 L455.49 419.07 L456.01 418.65 L456.54 418.23 L457.06 417.8 L457.58 417.37 L458.1 416.94 L458.63 416.5 L459.15 416.06 L459.67 415.61 L460.2 415.17 L460.72 414.72 L461.24 414.26 L461.76 413.8 L462.29 413.34 L462.81 412.88 L463.33 412.41 L463.85 411.94 L464.38 411.47 L464.9 411 L465.42 410.52 L465.94 410.04 L466.47 409.56 L466.99 409.08 L467.51 408.59 L468.03 408.1 L468.56 407.61 L469.08 407.12 L469.6 406.62 L470.12 406.12 L470.65 405.62 L471.17 405.11 L471.69 404.6 L472.21 404.09 L472.74 403.58 L473.26 403.07 L473.78 402.56 L474.31 402.05 L474.83 401.53 L475.35 401.02 L475.87 400.51 L476.4 399.99 L476.92 399.48 L477.44 398.97 L477.96 398.45 L478.49 397.94 L479.01 397.42 L479.53 396.91 L480.05 396.39 L480.58 395.87 L481.1 395.36 L481.62 394.84 L482.14 394.33 L482.67 393.81 L483.19 393.29 L483.71 392.78 L484.23 392.26 L484.76 391.74 L485.28 391.22 L485.8 390.7 L486.32 390.19 L486.85 389.67 L487.37 389.15 L487.89 388.63 L488.42 388.11 L488.94 387.59 L489.46 387.07 L489.98 386.55 L490.51 386.03 L491.03 385.5 L491.55 384.98 L492.07 384.45 L492.6 383.92 L493.12 383.39 L493.64 382.86 L494.16 382.33 L494.69 381.79 L495.21 381.25 L495.73 380.7 L496.25 380.15 L496.78 379.59 L497.3 379.03 L497.82 378.45 L498.34 377.87 L498.87 377.28 L499.39 376.68 L499.91 376.07 L500.43 375.47 L500.96 374.86 L501.48 374.25 L502 373.65 L502.53 373.05 L503.05 372.45 L503.57 371.86 L504.09 371.28 L504.62 370.73 L505.14 370.21 L505.66 369.72 L506.18 369.26 L506.71 368.83 L507.23 368.45 L507.75 368.1 L508.27 367.79 L508.8 367.51 L509.32 367.28 L509.84 367.08 L510.36 366.92 L510.89 366.79 L511.41 366.69 L511.93 366.61 L512.45 366.54 L512.98 366.5 L513.5 366.47 L514.02 366.45 L514.54 366.44 L515.07 366.43 L515.59 366.42 L516.11 366.42 L516.64 366.42 L517.16 366.41 L517.68 366.41 L518.2 366.41 L518.73 366.41 L519.25 366.41 L519.77 366.41 L520.29 366.41 L520.82 366.41 L521.34 366.41 L521.86 366.41 L522.38 366.41 L522.91 366.41 L523.43 366.41 L523.95 366.41 L524.47 366.41 L525 366.41 L525.52 366.41 L526.04 366.41 L526.56 366.41 L527.09 366.41 L527.61 366.41 L528.13 366.41 L528.65 366.41 L529.18 366.41 L529.7 366.41" stroke="#4a4ab8" stroke-width="1.1" fill="none"/>
<path d="M388.6 435.62 L389.12 435.62 L389.65 435.62 L390.17 435.62 L390.69 435.69 L391.21 435.87 L391.74 436.07 L392.26 436.29 L392.78 436.53 L393.3 436.81 L393.83 437.09 L394.35 437.22 L394.87 437.11 L395.39 436.82 L395.92 436.4 L396.44 435.89 L396.96 435.29 L397.48 434.33 L398.01 433.06 L398.53 431.56 L399.05 429.91 L399.57 428.22 L400.1 426.55 L400.62 424.76 L401.14 422.8 L401.66 420.74 L402.19 418.62 L402.71 416.48 L403.23 414.38 L403.76 412.26 L404.28 410.08 L404.8 407.88 L405.32 405.71 L405.85 403.59 L406.37 401.59 L406.89 399.55 L407.41 397.41 L407.94 395.31 L408.46 393.39 L408.98 391.78 L409.5 390.63 L410.03 389.95 L410.55 389.42 L411.07 388.99 L411.59 388.64 L412.12 388.32 L412.64 388 L413.16 387.66 L413.68 387.25 L414.21 386.76 L414.73 386.19 L415.25 385.55 L415.77 384.88 L416.3 384.18 L416.82 383.47 L417.34 382.77 L417.87 382.11 L418.39 381.49 L418.91 380.88 L419.43 380.26 L419.96 379.65 L420.48 379.05 L421 378.48 L421.52 377.96 L422.05 377.51 L422.57 377.15 L423.09 376.82 L423.61 376.5 L424.14 376.19 L424.66 375.9 L425.18 375.63 L425.7 375.4 L426.23 375.21 L426.75 375.07 L427.27 374.99 L427.79 374.98 L428.32 375.01 L428.84 375.07 L429.36 375.15 L429.88 375.25 L430.41 375.37 L430.93 375.5 L431.45 375.64 L431.98 375.77 L432.5 375.9 L433.02 376.02 L433.54 376.12 L434.07 376.22 L434.59 376.32 L435.11 376.43 L435.63 376.54 L436.16 376.65 L436.68 376.75 L437.2 376.85 L437.72 376.94 L438.25 377.02 L438.77 377.08 L439.29 377.12 L439.81 377.14 L440.34 377.14 L440.86 377.13 L441.38 377.1 L441.9 377.06 L442.43 377.01 L442.95 376.96 L443.47 376.9 L443.99 376.85 L444.52 376.8 L445.04 376.76 L445.56 376.72 L446.09 376.7 L446.61 376.69 L447.13 376.69 L447.65 376.69 L448.18 376.7 L448.7 376.71 L449.22 376.72 L449.74 376.73 L450.27 376.74 L450.79 376.76 L451.31 376.77 L451.83 376.79 L452.36 376.81 L452.88 376.83 L453.4 376.85 L453.92 376.87 L454.45 376.89 L454.97 376.92 L455.49 376.94 L456.01 376.97 L456.54 376.99 L457.06 377.02 L457.58 377.04 L458.1 377.07 L458.63 377.1 L459.15 377.12 L459.67 377.15 L460.2 377.17 L460.72 377.2 L461.24 377.24 L461.76 377.27 L462.29 377.31 L462.81 377.35 L463.33 377.39 L463.85 377.43 L464.38 377.47 L464.9 377.52 L465.42 377.57 L465.94 377.62 L466.47 377.67 L466.99 377.72 L467.51 377.77 L468.03 377.82 L468.56 377.87 L469.08 377.92 L469.6 377.97 L470.12 378.02 L470.65 378.07 L471.17 378.12 L471.69 378.17 L472.21 378.22 L472.74 378.27 L473.26 378.31 L473.78 378.36 L474.31 378.4 L474.83 378.44 L475.35 378.48 L475.87 378.52 L476.4 378.55 L476.92 378.59 L477.44 378.63 L477.96 378.67 L478.49 378.71 L479.01 378.75 L479.53 378.79 L480.05 378.84 L480.58 378.88 L481.1 378.92 L481.62 378.96 L482.14 379 L482.67 379.03 L483.19 379.07 L483.71 379.11 L484.23 379.14 L484.76 379.17 L485.28 379.2 L485.8 379.22 L486.32 379.25 L486.85 379.27 L487.37 379.28 L487.89 379.3 L488.42 379.31 L488.94 379.31 L489.46 379.32 L489.98 379.3 L490.51 379.24 L491.03 379.15 L491.55 379.02 L492.07 378.87 L492.6 378.7 L493.12 378.51 L493.64 378.29 L494.16 378.07 L494.69 377.83 L495.21 377.46 L495.73 376.87 L496.25 376.12 L496.78 375.25 L497.3 374.32 L497.82 373.38 L498.34 372.5 L498.87 371.71 L499.39 371.09 L499.91 370.67 L500.43 370.52 L500.96 370.6 L501.48 370.81 L502 371.15 L502.53 371.59 L503.05 372.12 L503.57 373.38 L504.09 375.79 L504.62 378.98 L505.14 382.61 L505.66 386.33 L506.18 389.93 L506.71 393.99 L507.23 398.41 L507.75 402.94 L508.27 407.34 L508.8 411.42 L509.32 415.58 L509.84 419.72 L510.36 423.58 L510.89 426.9 L511.41 429.47 L511.93 431.74 L512.45 433.83 L512.98 435.61 L513.5 436.97 L514.02 437.79 L514.54 438.25 L515.07 438.63 L515.59 438.93 L516.11 439.15 L516.64 439.27 L517.16 439.35 L517.68 439.41 L518.2 439.46 L518.73 439.49 L519.25 439.5 L519.77 439.5 L520.29 439.5 L520.82 439.5 L521.34 439.5 L521.86 439.5 L522.38 439.5 L522.91 439.5 L523.43 439.5 L523.95 439.5 L524.47 439.5 L525 439.5 L525.52 439.5 L526.04 439.5 L526.56 439.5 L527.09 439.5 L527.61 439.5 L528.13 439.5 L528.65 439.5 L529.18 439.5 L529.7 439.5" stroke="#4a4ab8" stroke-width="1.1" fill="none" stroke-linejoin="round"/>
<path d="M389.12 435.62m-0.75 0a0.75 0.75 0 1 0 1.5 0a0.75 0.75 0 1 0 -1.5 0M392.78 436.53m-0.75 0a0.75 0.75 0 1 0 1.5 0a0.75 0.75 0 1 0 -1.5 0M396.44 435.89m-0.75 0a0.75 0.75 0 1 0 1.5 0a0.75 0.75 0 1 0 -1.5 0M400.1 426.55m-0.75 0a0.75 0.75 0 1 0 1.5 0a0.75 0.75 0 1 0 -1.5 0M403.76 412.26m-0.75 0a0.75 0.75 0 1 0 1.5 0a0.75 0.75 0 1 0 -1.5 0M407.41 397.41m-0.75 0a0.75 0.75 0 1 0 1.5 0a0.75 0.75 0 1 0 -1.5 0M411.07 388.99m-0.75 0a0.75 0.75 0 1 0 1.5 0a0.75 0.75 0 1 0 -1.5 0M414.73 386.19m-0.75 0a0.75 0.75 0 1 0 1.5 0a0.75 0.75 0 1 0 -1.5 0M418.39 381.49m-0.75 0a0.75 0.75 0 1 0 1.5 0a0.75 0.75 0 1 0 -1.5 0M422.05 377.51m-0.75 0a0.75 0.75 0 1 0 1.5 0a0.75 0.75 0 1 0 -1.5 0M425.7 375.4m-0.75 0a0.75 0.75 0 1 0 1.5 0a0.75 0.75 0 1 0 -1.5 0M429.36 375.15m-0.75 0a0.75 0.75 0 1 0 1.5 0a0.75 0.75 0 1 0 -1.5 0M433.02 376.02m-0.75 0a0.75 0.75 0 1 0 1.5 0a0.75 0.75 0 1 0 -1.5 0M436.68 376.75m-0.75 0a0.75 0.75 0 1 0 1.5 0a0.75 0.75 0 1 0 -1.5 0M440.34 377.14m-0.75 0a0.75 0.75 0 1 0 1.5 0a0.75 0.75 0 1 0 -1.5 0M443.99 376.85m-0.75 0a0.75 0.75 0 1 0 1.5 0a0.75 0.75 0 1 0 -1.5 0M447.65 376.69m-0.75 0a0.75 0.75 0 1 0 1.5 0a0.75 0.75 0 1 0 -1.5 0M451.31 376.77m-0.75 0a0.75 0.75 0 1 0 1.5 0a0.75 0.75 0 1 0 -1.5 0M454.97 376.92m-0.75 0a0.75 0.75 0 1 0 1.5 0a0.75 0.75 0 1 0 -1.5 0M458.63 377.1m-0.75 0a0.75 0.75 0 1 0 1.5 0a0.75 0.75 0 1 0 -1.5 0M462.29 377.31m-0.75 0a0.75 0.75 0 1 0 1.5 0a0.75 0.75 0 1 0 -1.5 0M465.94 377.62m-0.75 0a0.75 0.75 0 1 0 1.5 0a0.75 0.75 0 1 0 -1.5 0M469.6 377.97m-0.75 0a0.75 0.75 0 1 0 1.5 0a0.75 0.75 0 1 0 -1.5 0M473.26 378.31m-0.75 0a0.75 0.75 0 1 0 1.5 0a0.75 0.75 0 1 0 -1.5 0M476.92 378.59m-0.75 0a0.75 0.75 0 1 0 1.5 0a0.75 0.75 0 1 0 -1.5 0M480.58 378.88m-0.75 0a0.75 0.75 0 1 0 1.5 0a0.75 0.75 0 1 0 -1.5 0M484.23 379.14m-0.75 0a0.75 0.75 0 1 0 1.5 0a0.75 0.75 0 1 0 -1.5 0M487.89 379.3m-0.75 0a0.75 0.75 0 1 0 1.5 0a0.75 0.75 0 1 0 -1.5 0M491.55 379.02m-0.75 0a0.75 0.75 0 1 0 1.5 0a0.75 0.75 0 1 0 -1.5 0M495.21 377.46m-0.75 0a0.75 0.75 0 1 0 1.5 0a0.75 0.75 0 1 0 -1.5 0M498.87 371.71m-0.75 0a0.75 0.75 0 1 0 1.5 0a0.75 0.75 0 1 0 -1.5 0M502.53 371.59m-0.75 0a0.75 0.75 0 1 0 1.5 0a0.75 0.75 0 1 0 -1.5 0M506.18 389.93m-0.75 0a0.75 0.75 0 1 0 1.5 0a0.75 0.75 0 1 0 -1.5 0M509.84 419.72m-0.75 0a0.75 0.75 0 1 0 1.5 0a0.75 0.75 0 1 0 -1.5 0M513.5 436.97m-0.75 0a0.75 0.75 0 1 0 1.5 0a0.75 0.75 0 1 0 -1.5 0M517.16 439.35m-0.75 0a0.75 0.75 0 1 0 1.5 0a0.75 0.75 0 1 0 -1.5 0M520.82 439.5m-0.75 0a0.75 0.75 0 1 0 1.5 0a0.75 0.75 0 1 0 -1.5 0M524.47 439.5m-0.75 0a0.75 0.75 0 1 0 1.5 0a0.75 0.75 0 1 0 -1.5 0M528.13 439.5m-0.75 0a0.75 0.75 0 1 0 1.5 0a0.75 0.75 0 1 0 -1.5 0" fill="#2a2a9a"/>
<path d="M388.6 439.5 L389.12 439.5 L389.65 439.5 L390.17 439.5 L390.69 439.5 L391.21 439.5 L391.74 439.5 L392.26 439.5 L392.78 439.5 L393.3 439.5 L393.83 439.5 L394.35 439.5 L394.87 439.5 L395.39 439.5 L395.92 439.49 L396.44 439.49 L396.96 439.49 L397.48 439.49 L398.01 439.49 L398.53 439.48 L399.05 439.48 L399.57 439.48 L400.1 439.47 L400.62 439.46 L401.14 439.45 L401.66 439.43 L402.19 439.41 L402.71 439.39 L403.23 439.36 L403.76 439.33 L404.28 439.3 L404.8 439.26 L405.32 439.21 L405.85 439.16 L406.37 439.11 L406.89 439.05 L407.41 438.99 L407.94 438.92 L408.46 438.85 L408.98 438.77 L409.5 438.69 L410.03 438.61 L410.55 438.52 L411.07 438.42 L411.59 438.32 L412.12 438.22 L412.64 438.12 L413.16 438.01 L413.68 437.9 L414.21 437.78 L414.73 437.66 L415.25 437.54 L415.77 437.42 L416.3 437.29 L416.82 437.16 L417.34 437.03 L417.87 436.89 L418.39 436.75 L418.91 436.61 L419.43 436.46 L419.96 436.31 L420.48 436.15 L421 435.99 L421.52 435.83 L422.05 435.66 L422.57 435.49 L423.09 435.31 L423.61 435.12 L424.14 434.93 L424.66 434.74 L425.18 434.54 L425.7 434.34 L426.23 434.14 L426.75 433.93 L427.27 433.72 L427.79 433.51 L428.32 433.29 L428.84 433.07 L429.36 432.85 L429.88 432.63 L430.41 432.41 L430.93 432.18 L431.45 431.95 L431.98 431.72 L432.5 431.48 L433.02 431.25 L433.54 431 L434.07 430.76 L434.59 430.51 L435.11 430.26 L435.63 430 L436.16 429.74 L436.68 429.48 L437.2 429.2 L437.72 428.92 L438.25 428.63 L438.77 428.33 L439.29 428.02 L439.81 427.71 L440.34 427.39 L440.86 427.06 L441.38 426.72 L441.9 426.38 L442.43 426.03 L442.95 425.67 L443.47 425.31 L443.99 424.95 L444.52 424.57 L445.04 424.2 L445.56 423.81 L446.09 423.42 L446.61 423.03 L447.13 422.63 L447.65 422.22 L448.18 421.8 L448.7 421.38 L449.22 420.96 L449.74 420.52 L450.27 420.08 L450.79 419.64 L451.31 419.19 L451.83 418.73 L452.36 418.27 L452.88 417.8 L453.4 417.33 L453.92 416.85 L454.45 416.38 L454.97 415.89 L455.49 415.41 L456.01 414.91 L456.54 414.42 L457.06 413.92 L457.58 413.42 L458.1 412.91 L458.63 412.4 L459.15 411.88 L459.67 411.36 L460.2 410.83 L460.72 410.3 L461.24 409.77 L461.76 409.23 L462.29 408.69 L462.81 408.15 L463.33 407.6 L463.85 407.05 L464.38 406.49 L464.9 405.94 L465.42 405.37 L465.94 404.81 L466.47 404.24 L466.99 403.67 L467.51 403.1 L468.03 402.52 L468.56 401.94 L469.08 401.36 L469.6 400.78 L470.12 400.19 L470.65 399.6 L471.17 399 L471.69 398.4 L472.21 397.8 L472.74 397.2 L473.26 396.6 L473.78 395.99 L474.31 395.39 L474.83 394.78 L475.35 394.18 L475.87 393.57 L476.4 392.97 L476.92 392.36 L477.44 391.76 L477.96 391.15 L478.49 390.55 L479.01 389.94 L479.53 389.33 L480.05 388.73 L480.58 388.12 L481.1 387.51 L481.62 386.91 L482.14 386.3 L482.67 385.7 L483.19 385.09 L483.71 384.48 L484.23 383.88 L484.76 383.27 L485.28 382.66 L485.8 382.06 L486.32 381.45 L486.85 380.84 L487.37 380.24 L487.89 379.63 L488.42 379.02 L488.94 378.41 L489.46 377.81 L489.98 377.2 L490.51 376.59 L491.03 375.98 L491.55 375.36 L492.07 374.75 L492.6 374.13 L493.12 373.52 L493.64 372.9 L494.16 372.27 L494.69 371.65 L495.21 371.02 L495.73 370.39 L496.25 369.75 L496.78 369.11 L497.3 368.46 L497.82 367.79 L498.34 367.12 L498.87 366.45 L499.39 365.76 L499.91 365.07 L500.43 364.38 L500.96 363.69 L501.48 363 L502 362.31 L502.53 361.62 L503.05 360.94 L503.57 360.27 L504.09 359.61 L504.62 359 L505.14 358.43 L505.66 357.9 L506.18 357.41 L506.71 356.97 L507.23 356.56 L507.75 356.19 L508.27 355.86 L508.8 355.57 L509.32 355.32 L509.84 355.1 L510.36 354.92 L510.89 354.77 L511.41 354.66 L511.93 354.57 L512.45 354.5 L512.98 354.45 L513.5 354.41 L514.02 354.39 L514.54 354.37 L515.07 354.36 L515.59 354.35 L516.11 354.35 L516.64 354.34 L517.16 354.34 L517.68 354.34 L518.2 354.34 L518.73 354.34 L519.25 354.34 L519.77 354.34 L520.29 354.34 L520.82 354.34 L521.34 354.34 L521.86 354.34 L522.38 354.34 L522.91 354.34 L523.43 354.34 L523.95 354.34 L524.47 354.34 L525 354.34 L525.52 354.34 L526.04 354.34 L526.56 354.34 L527.09 354.34 L527.61 354.34 L528.13 354.34 L528.65 354.34 L529.18 354.34 L529.7 354.34" stroke="#ffa850" stroke-width="1.1" fill="none"/>
<path d="M388.6 435.62 L389.12 435.62 L389.65 435.62 L390.17 435.62 L390.69 435.69 L391.21 435.87 L391.74 436.07 L392.26 436.29 L392.78 436.53 L393.3 436.81 L393.83 437.09 L394.35 437.22 L394.87 437.11 L395.39 436.82 L395.92 436.4 L396.44 435.89 L396.96 435.29 L397.48 434.34 L398.01 433.08 L398.53 431.59 L399.05 429.94 L399.57 428.24 L400.1 426.54 L400.62 424.67 L401.14 422.61 L401.66 420.42 L402.19 418.17 L402.71 415.9 L403.23 413.69 L403.76 411.52 L404.28 409.34 L404.8 407.14 L405.32 404.93 L405.85 402.7 L406.37 400.44 L406.89 398.07 L407.41 395.54 L407.94 392.98 L408.46 390.51 L408.98 388.25 L409.5 386.32 L410.03 384.75 L410.55 383.31 L411.07 381.97 L411.59 380.73 L412.12 379.58 L412.64 378.52 L413.16 377.54 L413.68 376.63 L414.21 375.79 L414.73 375.03 L415.25 374.33 L415.77 373.69 L416.3 373.08 L416.82 372.49 L417.34 371.89 L417.87 371.28 L418.39 370.64 L418.91 369.93 L419.43 369.18 L419.96 368.4 L420.48 367.63 L421 366.9 L421.52 366.22 L422.05 365.63 L422.57 365.16 L423.09 364.75 L423.61 364.34 L424.14 363.95 L424.66 363.58 L425.18 363.25 L425.7 362.95 L426.23 362.71 L426.75 362.54 L427.27 362.44 L427.79 362.42 L428.32 362.46 L428.84 362.56 L429.36 362.7 L429.88 362.87 L430.41 363.08 L430.93 363.3 L431.45 363.54 L431.98 363.78 L432.5 364.02 L433.02 364.25 L433.54 364.47 L434.07 364.69 L434.59 364.95 L435.11 365.22 L435.63 365.51 L436.16 365.81 L436.68 366.1 L437.2 366.38 L437.72 366.65 L438.25 366.9 L438.77 367.11 L439.29 367.28 L439.81 367.4 L440.34 367.49 L440.86 367.56 L441.38 367.63 L441.9 367.69 L442.43 367.75 L442.95 367.81 L443.47 367.86 L443.99 367.9 L444.52 367.94 L445.04 367.97 L445.56 367.99 L446.09 368.01 L446.61 368.01 L447.13 368.01 L447.65 368.01 L448.18 368 L448.7 368 L449.22 367.99 L449.74 367.98 L450.27 367.97 L450.79 367.96 L451.31 367.94 L451.83 367.93 L452.36 367.92 L452.88 367.9 L453.4 367.89 L453.92 367.88 L454.45 367.86 L454.97 367.85 L455.49 367.84 L456.01 367.83 L456.54 367.82 L457.06 367.81 L457.58 367.8 L458.1 367.79 L458.63 367.79 L459.15 367.78 L459.67 367.78 L460.2 367.78 L460.72 367.79 L461.24 367.8 L461.76 367.82 L462.29 367.84 L462.81 367.86 L463.33 367.89 L463.85 367.92 L464.38 367.95 L464.9 367.99 L465.42 368.02 L465.94 368.07 L466.47 368.11 L466.99 368.15 L467.51 368.2 L468.03 368.25 L468.56 368.3 L469.08 368.35 L469.6 368.4 L470.12 368.46 L470.65 368.51 L471.17 368.57 L471.69 368.62 L472.21 368.68 L472.74 368.73 L473.26 368.78 L473.78 368.84 L474.31 368.89 L474.83 368.94 L475.35 368.99 L475.87 369.04 L476.4 369.09 L476.92 369.14 L477.44 369.21 L477.96 369.27 L478.49 369.34 L479.01 369.41 L479.53 369.48 L480.05 369.56 L480.58 369.63 L481.1 369.71 L481.62 369.79 L482.14 369.86 L482.67 369.94 L483.19 370.01 L483.71 370.08 L484.23 370.15 L484.76 370.21 L485.28 370.27 L485.8 370.32 L486.32 370.37 L486.85 370.42 L487.37 370.45 L487.89 370.48 L488.42 370.5 L488.94 370.52 L489.46 370.52 L489.98 370.51 L490.51 370.46 L491.03 370.38 L491.55 370.28 L492.07 370.15 L492.6 370.01 L493.12 369.84 L493.64 369.66 L494.16 369.47 L494.69 369.27 L495.21 368.93 L495.73 368.38 L496.25 367.67 L496.78 366.84 L497.3 365.95 L497.82 365.05 L498.34 364.2 L498.87 363.45 L499.39 362.85 L499.91 362.45 L500.43 362.3 L500.96 362.39 L501.48 362.63 L502 363.01 L502.53 363.52 L503.05 364.13 L503.57 365.83 L504.09 369.24 L504.62 373.78 L505.14 378.89 L505.66 383.99 L506.18 388.53 L506.71 392.78 L507.23 397.12 L507.75 401.47 L508.27 405.72 L508.8 409.81 L509.32 413.9 L509.84 418.08 L510.36 422.09 L510.89 425.65 L511.41 428.53 L511.93 430.85 L512.45 433.02 L512.98 434.94 L513.5 436.49 L514.02 437.53 L514.54 438.07 L515.07 438.49 L515.59 438.82 L516.11 439.07 L516.64 439.23 L517.16 439.32 L517.68 439.39 L518.2 439.44 L518.73 439.48 L519.25 439.5 L519.77 439.5 L520.29 439.5 L520.82 439.5 L521.34 439.5 L521.86 439.5 L522.38 439.5 L522.91 439.5 L523.43 439.5 L523.95 439.5 L524.47 439.5 L525 439.5 L525.52 439.5 L526.04 439.5 L526.56 439.5 L527.09 439.5 L527.61 439.5 L528.13 439.5 L528.65 439.5 L529.18 439.5 L529.7 439.5" stroke="#ffa850" stroke-width="1.1" fill="none" stroke-linejoin="round"/>
<path d="M389.12 435.62m-0.75 0a0.75 0.75 0 1 0 1.5 0a0.75 0.75 0 1 0 -1.5 0M392.78 436.53m-0.75 0a0.75 0.75 0 1 0 1.5 0a0.75 0.75 0 1 0 -1.5 0M396.44 435.89m-0.75 0a0.75 0.75 0 1 0 1.5 0a0.75 0.75 0 1 0 -1.5 0M400.1 426.54m-0.75 0a0.75 0.75 0 1 0 1.5 0a0.75 0.75 0 1 0 -1.5 0M403.76 411.52m-0.75 0a0.75 0.75 0 1 0 1.5 0a0.75 0.75 0 1 0 -1.5 0M407.41 395.54m-0.75 0a0.75 0.75 0 1 0 1.5 0a0.75 0.75 0 1 0 -1.5 0M411.07 381.97m-0.75 0a0.75 0.75 0 1 0 1.5 0a0.75 0.75 0 1 0 -1.5 0M414.73 375.03m-0.75 0a0.75 0.75 0 1 0 1.5 0a0.75 0.75 0 1 0 -1.5 0M418.39 370.64m-0.75 0a0.75 0.75 0 1 0 1.5 0a0.75 0.75 0 1 0 -1.5 0M422.05 365.63m-0.75 0a0.75 0.75 0 1 0 1.5 0a0.75 0.75 0 1 0 -1.5 0M425.7 362.95m-0.75 0a0.75 0.75 0 1 0 1.5 0a0.75 0.75 0 1 0 -1.5 0M429.36 362.7m-0.75 0a0.75 0.75 0 1 0 1.5 0a0.75 0.75 0 1 0 -1.5 0M433.02 364.25m-0.75 0a0.75 0.75 0 1 0 1.5 0a0.75 0.75 0 1 0 -1.5 0M436.68 366.1m-0.75 0a0.75 0.75 0 1 0 1.5 0a0.75 0.75 0 1 0 -1.5 0M440.34 367.49m-0.75 0a0.75 0.75 0 1 0 1.5 0a0.75 0.75 0 1 0 -1.5 0M443.99 367.9m-0.75 0a0.75 0.75 0 1 0 1.5 0a0.75 0.75 0 1 0 -1.5 0M447.65 368.01m-0.75 0a0.75 0.75 0 1 0 1.5 0a0.75 0.75 0 1 0 -1.5 0M451.31 367.94m-0.75 0a0.75 0.75 0 1 0 1.5 0a0.75 0.75 0 1 0 -1.5 0M454.97 367.85m-0.75 0a0.75 0.75 0 1 0 1.5 0a0.75 0.75 0 1 0 -1.5 0M458.63 367.79m-0.75 0a0.75 0.75 0 1 0 1.5 0a0.75 0.75 0 1 0 -1.5 0M462.29 367.84m-0.75 0a0.75 0.75 0 1 0 1.5 0a0.75 0.75 0 1 0 -1.5 0M465.94 368.07m-0.75 0a0.75 0.75 0 1 0 1.5 0a0.75 0.75 0 1 0 -1.5 0M469.6 368.4m-0.75 0a0.75 0.75 0 1 0 1.5 0a0.75 0.75 0 1 0 -1.5 0M473.26 368.78m-0.75 0a0.75 0.75 0 1 0 1.5 0a0.75 0.75 0 1 0 -1.5 0M476.92 369.14m-0.75 0a0.75 0.75 0 1 0 1.5 0a0.75 0.75 0 1 0 -1.5 0M480.58 369.63m-0.75 0a0.75 0.75 0 1 0 1.5 0a0.75 0.75 0 1 0 -1.5 0M484.23 370.15m-0.75 0a0.75 0.75 0 1 0 1.5 0a0.75 0.75 0 1 0 -1.5 0M487.89 370.48m-0.75 0a0.75 0.75 0 1 0 1.5 0a0.75 0.75 0 1 0 -1.5 0M491.55 370.28m-0.75 0a0.75 0.75 0 1 0 1.5 0a0.75 0.75 0 1 0 -1.5 0M495.21 368.93m-0.75 0a0.75 0.75 0 1 0 1.5 0a0.75 0.75 0 1 0 -1.5 0M498.87 363.45m-0.75 0a0.75 0.75 0 1 0 1.5 0a0.75 0.75 0 1 0 -1.5 0M502.53 363.52m-0.75 0a0.75 0.75 0 1 0 1.5 0a0.75 0.75 0 1 0 -1.5 0M506.18 388.53m-0.75 0a0.75 0.75 0 1 0 1.5 0a0.75 0.75 0 1 0 -1.5 0M509.84 418.08m-0.75 0a0.75 0.75 0 1 0 1.5 0a0.75 0.75 0 1 0 -1.5 0M513.5 436.49m-0.75 0a0.75 0.75 0 1 0 1.5 0a0.75 0.75 0 1 0 -1.5 0M517.16 439.32m-0.75 0a0.75 0.75 0 1 0 1.5 0a0.75 0.75 0 1 0 -1.5 0M520.82 439.5m-0.75 0a0.75 0.75 0 1 0 1.5 0a0.75 0.75 0 1 0 -1.5 0M524.47 439.5m-0.75 0a0.75 0.75 0 1 0 1.5 0a0.75 0.75 0 1 0 -1.5 0M528.13 439.5m-0.75 0a0.75 0.75 0 1 0 1.5 0a0.75 0.75 0 1 0 -1.5 0" fill="#f08a20"/>
<path d="M388.6 439.5 L389.12 439.5 L389.65 439.5 L390.17 439.5 L390.69 439.5 L391.21 439.5 L391.74 439.5 L392.26 439.5 L392.78 439.5 L393.3 439.5 L393.83 439.5 L394.35 439.5 L394.87 439.5 L395.39 439.5 L395.92 439.49 L396.44 439.49 L396.96 439.49 L397.48 439.49 L398.01 439.49 L398.53 439.49 L399.05 439.48 L399.57 439.48 L400.1 439.47 L400.62 439.46 L401.14 439.45 L401.66 439.43 L402.19 439.41 L402.71 439.39 L403.23 439.37 L403.76 439.33 L404.28 439.3 L404.8 439.26 L405.32 439.21 L405.85 439.16 L406.37 439.11 L406.89 439.05 L407.41 438.99 L407.94 438.92 L408.46 438.85 L408.98 438.77 L409.5 438.68 L410.03 438.59 L410.55 438.5 L411.07 438.4 L411.59 438.3 L412.12 438.19 L412.64 438.08 L413.16 437.97 L413.68 437.85 L414.21 437.73 L414.73 437.6 L415.25 437.47 L415.77 437.34 L416.3 437.2 L416.82 437.05 L417.34 436.91 L417.87 436.75 L418.39 436.6 L418.91 436.44 L419.43 436.27 L419.96 436.11 L420.48 435.93 L421 435.76 L421.52 435.57 L422.05 435.39 L422.57 435.19 L423.09 434.99 L423.61 434.79 L424.14 434.58 L424.66 434.37 L425.18 434.15 L425.7 433.93 L426.23 433.7 L426.75 433.48 L427.27 433.24 L427.79 433.01 L428.32 432.77 L428.84 432.53 L429.36 432.29 L429.88 432.05 L430.41 431.8 L430.93 431.56 L431.45 431.31 L431.98 431.05 L432.5 430.8 L433.02 430.54 L433.54 430.27 L434.07 430 L434.59 429.73 L435.11 429.46 L435.63 429.18 L436.16 428.89 L436.68 428.59 L437.2 428.29 L437.72 427.97 L438.25 427.64 L438.77 427.31 L439.29 426.97 L439.81 426.61 L440.34 426.25 L440.86 425.87 L441.38 425.49 L441.9 425.11 L442.43 424.71 L442.95 424.31 L443.47 423.91 L443.99 423.5 L444.52 423.08 L445.04 422.65 L445.56 422.22 L446.09 421.79 L446.61 421.34 L447.13 420.9 L447.65 420.44 L448.18 419.98 L448.7 419.51 L449.22 419.04 L449.74 418.56 L450.27 418.07 L450.79 417.58 L451.31 417.08 L451.83 416.58 L452.36 416.07 L452.88 415.56 L453.4 415.05 L453.92 414.53 L454.45 414.01 L454.97 413.49 L455.49 412.96 L456.01 412.43 L456.54 411.89 L457.06 411.36 L457.58 410.81 L458.1 410.27 L458.63 409.72 L459.15 409.16 L459.67 408.6 L460.2 408.04 L460.72 407.47 L461.24 406.9 L461.76 406.33 L462.29 405.75 L462.81 405.17 L463.33 404.58 L463.85 403.99 L464.38 403.4 L464.9 402.81 L465.42 402.21 L465.94 401.61 L466.47 401 L466.99 400.39 L467.51 399.78 L468.03 399.16 L468.56 398.54 L469.08 397.92 L469.6 397.29 L470.12 396.66 L470.65 396.03 L471.17 395.39 L471.69 394.75 L472.21 394.11 L472.74 393.46 L473.26 392.81 L473.78 392.17 L474.31 391.52 L474.83 390.87 L475.35 390.22 L475.87 389.57 L476.4 388.92 L476.92 388.28 L477.44 387.63 L477.96 386.98 L478.49 386.33 L479.01 385.68 L479.53 385.03 L480.05 384.38 L480.58 383.73 L481.1 383.08 L481.62 382.43 L482.14 381.78 L482.67 381.14 L483.19 380.49 L483.71 379.84 L484.23 379.19 L484.76 378.55 L485.28 377.9 L485.8 377.25 L486.32 376.61 L486.85 375.96 L487.37 375.31 L487.89 374.67 L488.42 374.02 L488.94 373.37 L489.46 372.72 L489.98 372.07 L490.51 371.42 L491.03 370.77 L491.55 370.12 L492.07 369.47 L492.6 368.82 L493.12 368.16 L493.64 367.5 L494.16 366.84 L494.69 366.18 L495.21 365.52 L495.73 364.85 L496.25 364.18 L496.78 363.51 L497.3 362.83 L497.82 362.15 L498.34 361.46 L498.87 360.77 L499.39 360.07 L499.91 359.37 L500.43 358.67 L500.96 357.96 L501.48 357.26 L502 356.56 L502.53 355.86 L503.05 355.17 L503.57 354.48 L504.09 353.81 L504.62 353.17 L505.14 352.58 L505.66 352.04 L506.18 351.55 L506.71 351.09 L507.23 350.67 L507.75 350.29 L508.27 349.95 L508.8 349.65 L509.32 349.38 L509.84 349.15 L510.36 348.95 L510.89 348.8 L511.41 348.67 L511.93 348.57 L512.45 348.49 L512.98 348.43 L513.5 348.39 L514.02 348.36 L514.54 348.34 L515.07 348.33 L515.59 348.32 L516.11 348.31 L516.64 348.31 L517.16 348.31 L517.68 348.31 L518.2 348.3 L518.73 348.3 L519.25 348.3 L519.77 348.3 L520.29 348.3 L520.82 348.3 L521.34 348.3 L521.86 348.3 L522.38 348.3 L522.91 348.3 L523.43 348.3 L523.95 348.3 L524.47 348.3 L525 348.3 L525.52 348.3 L526.04 348.3 L526.56 348.3 L527.09 348.3 L527.61 348.3 L528.13 348.3 L528.65 348.3 L529.18 348.3 L529.7 348.3" stroke="#a46cf4" stroke-width="1.1" fill="none"/>
<path d="M388.6 435.62 L389.12 435.62 L389.65 435.62 L390.17 435.62 L390.69 435.69 L391.21 435.87 L391.74 436.07 L392.26 436.29 L392.78 436.53 L393.3 436.81 L393.83 437.09 L394.35 437.22 L394.87 437.11 L395.39 436.82 L395.92 436.4 L396.44 435.89 L396.96 435.29 L397.48 434.35 L398.01 433.1 L398.53 431.61 L399.05 429.97 L399.57 428.26 L400.1 426.53 L400.62 424.6 L401.14 422.44 L401.66 420.13 L402.19 417.74 L402.71 415.34 L403.23 413.01 L403.76 410.72 L404.28 408.43 L404.8 406.13 L405.32 403.79 L405.85 401.4 L406.37 398.96 L406.89 396.34 L407.41 393.51 L407.94 390.63 L408.46 387.82 L408.98 385.23 L409.5 382.98 L410.03 381.14 L410.55 379.47 L411.07 377.94 L411.59 376.51 L412.12 375.18 L412.64 373.89 L413.16 372.64 L413.68 371.4 L414.21 370.13 L414.73 368.85 L415.25 367.57 L415.77 366.32 L416.3 365.11 L416.82 363.95 L417.34 362.85 L417.87 361.84 L418.39 360.93 L418.91 360.08 L419.43 359.26 L419.96 358.47 L420.48 357.72 L421 357.04 L421.52 356.43 L422.05 355.89 L422.57 355.45 L423.09 355.05 L423.61 354.66 L424.14 354.29 L424.66 353.93 L425.18 353.61 L425.7 353.33 L426.23 353.11 L426.75 352.94 L427.27 352.84 L427.79 352.83 L428.32 352.92 L428.84 353.12 L429.36 353.4 L429.88 353.74 L430.41 354.12 L430.93 354.5 L431.45 354.89 L431.98 355.24 L432.5 355.54 L433.02 355.77 L433.54 355.91 L434.07 355.98 L434.59 356.04 L435.11 356.09 L435.63 356.13 L436.16 356.17 L436.68 356.21 L437.2 356.24 L437.72 356.27 L438.25 356.31 L438.77 356.35 L439.29 356.39 L439.81 356.45 L440.34 356.52 L440.86 356.6 L441.38 356.7 L441.9 356.8 L442.43 356.92 L442.95 357.04 L443.47 357.17 L443.99 357.31 L444.52 357.44 L445.04 357.58 L445.56 357.71 L446.09 357.84 L446.61 357.96 L447.13 358.08 L447.65 358.21 L448.18 358.34 L448.7 358.48 L449.22 358.62 L449.74 358.76 L450.27 358.9 L450.79 359.04 L451.31 359.19 L451.83 359.33 L452.36 359.47 L452.88 359.61 L453.4 359.75 L453.92 359.89 L454.45 360.02 L454.97 360.15 L455.49 360.28 L456.01 360.4 L456.54 360.51 L457.06 360.62 L457.58 360.72 L458.1 360.82 L458.63 360.9 L459.15 360.98 L459.67 361.04 L460.2 361.1 L460.72 361.16 L461.24 361.22 L461.76 361.27 L462.29 361.31 L462.81 361.36 L463.33 361.4 L463.85 361.44 L464.38 361.48 L464.9 361.52 L465.42 361.55 L465.94 361.59 L466.47 361.62 L466.99 361.65 L467.51 361.68 L468.03 361.72 L468.56 361.75 L469.08 361.78 L469.6 361.81 L470.12 361.84 L470.65 361.88 L471.17 361.91 L471.69 361.95 L472.21 361.98 L472.74 362.02 L473.26 362.06 L473.78 362.1 L474.31 362.15 L474.83 362.2 L475.35 362.25 L475.87 362.3 L476.4 362.36 L476.92 362.43 L477.44 362.51 L477.96 362.6 L478.49 362.69 L479.01 362.79 L479.53 362.89 L480.05 363 L480.58 363.11 L481.1 363.23 L481.62 363.34 L482.14 363.45 L482.67 363.56 L483.19 363.67 L483.71 363.78 L484.23 363.89 L484.76 363.98 L485.28 364.07 L485.8 364.16 L486.32 364.24 L486.85 364.3 L487.37 364.36 L487.89 364.41 L488.42 364.44 L488.94 364.46 L489.46 364.47 L489.98 364.46 L490.51 364.42 L491.03 364.36 L491.55 364.29 L492.07 364.19 L492.6 364.09 L493.12 363.97 L493.64 363.84 L494.16 363.7 L494.69 363.56 L495.21 363.34 L495.73 363.02 L496.25 362.6 L496.78 362.12 L497.3 361.62 L497.82 361.11 L498.34 360.63 L498.87 360.2 L499.39 359.87 L499.91 359.64 L500.43 359.56 L500.96 359.61 L501.48 359.76 L502 360 L502.53 360.32 L503.05 360.7 L503.57 362.24 L504.09 365.62 L504.62 370.29 L505.14 375.67 L505.66 381.2 L506.18 386.31 L506.71 390.69 L507.23 395.03 L507.75 399.37 L508.27 403.64 L508.8 407.8 L509.32 411.83 L509.84 416 L510.36 420.12 L510.89 423.94 L511.41 427.19 L511.93 429.7 L512.45 431.96 L512.98 434.02 L513.5 435.77 L514.02 437.08 L514.54 437.84 L515.07 438.29 L515.59 438.67 L516.11 438.96 L516.64 439.16 L517.16 439.28 L517.68 439.35 L518.2 439.41 L518.73 439.46 L519.25 439.49 L519.77 439.5 L520.29 439.5 L520.82 439.5 L521.34 439.5 L521.86 439.5 L522.38 439.5 L522.91 439.5 L523.43 439.5 L523.95 439.5 L524.47 439.5 L525 439.5 L525.52 439.5 L526.04 439.5 L526.56 439.5 L527.09 439.5 L527.61 439.5 L528.13 439.5 L528.65 439.5 L529.18 439.5 L529.7 439.5" stroke="#a46cf4" stroke-width="1.1" fill="none" stroke-linejoin="round"/>
<path d="M389.12 435.62m-0.75 0a0.75 0.75 0 1 0 1.5 0a0.75 0.75 0 1 0 -1.5 0M392.78 436.53m-0.75 0a0.75 0.75 0 1 0 1.5 0a0.75 0.75 0 1 0 -1.5 0M396.44 435.89m-0.75 0a0.75 0.75 0 1 0 1.5 0a0.75 0.75 0 1 0 -1.5 0M400.1 426.53m-0.75 0a0.75 0.75 0 1 0 1.5 0a0.75 0.75 0 1 0 -1.5 0M403.76 410.72m-0.75 0a0.75 0.75 0 1 0 1.5 0a0.75 0.75 0 1 0 -1.5 0M407.41 393.51m-0.75 0a0.75 0.75 0 1 0 1.5 0a0.75 0.75 0 1 0 -1.5 0M411.07 377.94m-0.75 0a0.75 0.75 0 1 0 1.5 0a0.75 0.75 0 1 0 -1.5 0M414.73 368.85m-0.75 0a0.75 0.75 0 1 0 1.5 0a0.75 0.75 0 1 0 -1.5 0M418.39 360.93m-0.75 0a0.75 0.75 0 1 0 1.5 0a0.75 0.75 0 1 0 -1.5 0M422.05 355.89m-0.75 0a0.75 0.75 0 1 0 1.5 0a0.75 0.75 0 1 0 -1.5 0M425.7 353.33m-0.75 0a0.75 0.75 0 1 0 1.5 0a0.75 0.75 0 1 0 -1.5 0M429.36 353.4m-0.75 0a0.75 0.75 0 1 0 1.5 0a0.75 0.75 0 1 0 -1.5 0M433.02 355.77m-0.75 0a0.75 0.75 0 1 0 1.5 0a0.75 0.75 0 1 0 -1.5 0M436.68 356.21m-0.75 0a0.75 0.75 0 1 0 1.5 0a0.75 0.75 0 1 0 -1.5 0M440.34 356.52m-0.75 0a0.75 0.75 0 1 0 1.5 0a0.75 0.75 0 1 0 -1.5 0M443.99 357.31m-0.75 0a0.75 0.75 0 1 0 1.5 0a0.75 0.75 0 1 0 -1.5 0M447.65 358.21m-0.75 0a0.75 0.75 0 1 0 1.5 0a0.75 0.75 0 1 0 -1.5 0M451.31 359.19m-0.75 0a0.75 0.75 0 1 0 1.5 0a0.75 0.75 0 1 0 -1.5 0M454.97 360.15m-0.75 0a0.75 0.75 0 1 0 1.5 0a0.75 0.75 0 1 0 -1.5 0M458.63 360.9m-0.75 0a0.75 0.75 0 1 0 1.5 0a0.75 0.75 0 1 0 -1.5 0M462.29 361.31m-0.75 0a0.75 0.75 0 1 0 1.5 0a0.75 0.75 0 1 0 -1.5 0M465.94 361.59m-0.75 0a0.75 0.75 0 1 0 1.5 0a0.75 0.75 0 1 0 -1.5 0M469.6 361.81m-0.75 0a0.75 0.75 0 1 0 1.5 0a0.75 0.75 0 1 0 -1.5 0M473.26 362.06m-0.75 0a0.75 0.75 0 1 0 1.5 0a0.75 0.75 0 1 0 -1.5 0M476.92 362.43m-0.75 0a0.75 0.75 0 1 0 1.5 0a0.75 0.75 0 1 0 -1.5 0M480.58 363.11m-0.75 0a0.75 0.75 0 1 0 1.5 0a0.75 0.75 0 1 0 -1.5 0M484.23 363.89m-0.75 0a0.75 0.75 0 1 0 1.5 0a0.75 0.75 0 1 0 -1.5 0M487.89 364.41m-0.75 0a0.75 0.75 0 1 0 1.5 0a0.75 0.75 0 1 0 -1.5 0M491.55 364.29m-0.75 0a0.75 0.75 0 1 0 1.5 0a0.75 0.75 0 1 0 -1.5 0M495.21 363.34m-0.75 0a0.75 0.75 0 1 0 1.5 0a0.75 0.75 0 1 0 -1.5 0M498.87 360.2m-0.75 0a0.75 0.75 0 1 0 1.5 0a0.75 0.75 0 1 0 -1.5 0M502.53 360.32m-0.75 0a0.75 0.75 0 1 0 1.5 0a0.75 0.75 0 1 0 -1.5 0M506.18 386.31m-0.75 0a0.75 0.75 0 1 0 1.5 0a0.75 0.75 0 1 0 -1.5 0M509.84 416m-0.75 0a0.75 0.75 0 1 0 1.5 0a0.75 0.75 0 1 0 -1.5 0M513.5 435.77m-0.75 0a0.75 0.75 0 1 0 1.5 0a0.75 0.75 0 1 0 -1.5 0M517.16 439.28m-0.75 0a0.75 0.75 0 1 0 1.5 0a0.75 0.75 0 1 0 -1.5 0M520.82 439.5m-0.75 0a0.75 0.75 0 1 0 1.5 0a0.75 0.75 0 1 0 -1.5 0M524.47 439.5m-0.75 0a0.75 0.75 0 1 0 1.5 0a0.75 0.75 0 1 0 -1.5 0M528.13 439.5m-0.75 0a0.75 0.75 0 1 0 1.5 0a0.75 0.75 0 1 0 -1.5 0" fill="#7a3ae0"/>
<path d="M388.6 439.5 L389.12 439.5 L389.65 439.5 L390.17 439.5 L390.69 439.5 L391.21 439.5 L391.74 439.5 L392.26 439.5 L392.78 439.5 L393.3 439.5 L393.83 439.5 L394.35 439.5 L394.87 439.5 L395.39 439.5 L395.92 439.49 L396.44 439.49 L396.96 439.49 L397.48 439.49 L398.01 439.49 L398.53 439.49 L399.05 439.48 L399.57 439.48 L400.1 439.47 L400.62 439.46 L401.14 439.45 L401.66 439.43 L402.19 439.41 L402.71 439.39 L403.23 439.36 L403.76 439.33 L404.28 439.29 L404.8 439.24 L405.32 439.19 L405.85 439.14 L406.37 439.08 L406.89 439.02 L407.41 438.95 L407.94 438.87 L408.46 438.79 L408.98 438.7 L409.5 438.61 L410.03 438.51 L410.55 438.4 L411.07 438.29 L411.59 438.18 L412.12 438.05 L412.64 437.93 L413.16 437.8 L413.68 437.66 L414.21 437.52 L414.73 437.37 L415.25 437.22 L415.77 437.06 L416.3 436.91 L416.82 436.74 L417.34 436.58 L417.87 436.41 L418.39 436.23 L418.91 436.05 L419.43 435.87 L419.96 435.68 L420.48 435.49 L421 435.29 L421.52 435.09 L422.05 434.88 L422.57 434.67 L423.09 434.44 L423.61 434.22 L424.14 433.99 L424.66 433.75 L425.18 433.51 L425.7 433.26 L426.23 433.01 L426.75 432.75 L427.27 432.49 L427.79 432.23 L428.32 431.97 L428.84 431.7 L429.36 431.43 L429.88 431.16 L430.41 430.89 L430.93 430.61 L431.45 430.33 L431.98 430.05 L432.5 429.76 L433.02 429.47 L433.54 429.17 L434.07 428.87 L434.59 428.57 L435.11 428.26 L435.63 427.95 L436.16 427.63 L436.68 427.3 L437.2 426.96 L437.72 426.62 L438.25 426.26 L438.77 425.89 L439.29 425.51 L439.81 425.12 L440.34 424.72 L440.86 424.31 L441.38 423.9 L441.9 423.47 L442.43 423.04 L442.95 422.6 L443.47 422.16 L443.99 421.7 L444.52 421.24 L445.04 420.78 L445.56 420.3 L446.09 419.82 L446.61 419.33 L447.13 418.84 L447.65 418.34 L448.18 417.83 L448.7 417.31 L449.22 416.78 L449.74 416.25 L450.27 415.71 L450.79 415.16 L451.31 414.61 L451.83 414.05 L452.36 413.48 L452.88 412.91 L453.4 412.33 L453.92 411.76 L454.45 411.17 L454.97 410.58 L455.49 409.99 L456.01 409.39 L456.54 408.78 L457.06 408.18 L457.58 407.56 L458.1 406.95 L458.63 406.32 L459.15 405.69 L459.67 405.06 L460.2 404.43 L460.72 403.78 L461.24 403.14 L461.76 402.48 L462.29 401.83 L462.81 401.17 L463.33 400.5 L463.85 399.83 L464.38 399.16 L464.9 398.49 L465.42 397.81 L465.94 397.12 L466.47 396.44 L466.99 395.74 L467.51 395.05 L468.03 394.35 L468.56 393.64 L469.08 392.94 L469.6 392.22 L470.12 391.51 L470.65 390.79 L471.17 390.07 L471.69 389.34 L472.21 388.61 L472.74 387.87 L473.26 387.14 L473.78 386.4 L474.31 385.67 L474.83 384.93 L475.35 384.19 L475.87 383.46 L476.4 382.72 L476.92 381.98 L477.44 381.24 L477.96 380.5 L478.49 379.76 L479.01 379.02 L479.53 378.28 L480.05 377.55 L480.58 376.81 L481.1 376.07 L481.62 375.33 L482.14 374.59 L482.67 373.85 L483.19 373.12 L483.71 372.38 L484.23 371.64 L484.76 370.9 L485.28 370.17 L485.8 369.43 L486.32 368.69 L486.85 367.96 L487.37 367.22 L487.89 366.48 L488.42 365.74 L488.94 365 L489.46 364.27 L489.98 363.53 L490.51 362.79 L491.03 362.04 L491.55 361.3 L492.07 360.56 L492.6 359.81 L493.12 359.07 L493.64 358.32 L494.16 357.57 L494.69 356.82 L495.21 356.07 L495.73 355.32 L496.25 354.56 L496.78 353.79 L497.3 353.02 L497.82 352.25 L498.34 351.46 L498.87 350.67 L499.39 349.88 L499.91 349.08 L500.43 348.28 L500.96 347.48 L501.48 346.68 L502 345.88 L502.53 345.09 L503.05 344.29 L503.57 343.51 L504.09 342.75 L504.62 342.03 L505.14 341.37 L505.66 340.76 L506.18 340.21 L506.71 339.72 L507.23 339.26 L507.75 338.85 L508.27 338.48 L508.8 338.14 L509.32 337.84 L509.84 337.58 L510.36 337.36 L510.89 337.17 L511.41 337.02 L511.93 336.9 L512.45 336.8 L512.98 336.73 L513.5 336.67 L514.02 336.63 L514.54 336.61 L515.07 336.59 L515.59 336.58 L516.11 336.57 L516.64 336.57 L517.16 336.56 L517.68 336.56 L518.2 336.56 L518.73 336.56 L519.25 336.56 L519.77 336.56 L520.29 336.56 L520.82 336.56 L521.34 336.56 L521.86 336.56 L522.38 336.56 L522.91 336.56 L523.43 336.56 L523.95 336.56 L524.47 336.56 L525 336.56 L525.52 336.56 L526.04 336.56 L526.56 336.56 L527.09 336.56 L527.61 336.56 L528.13 336.56 L528.65 336.56 L529.18 336.56 L529.7 336.56" stroke="#ff3cff" stroke-width="1.1" fill="none"/>
<path d="M388.6 435.62 L389.12 435.62 L389.65 435.62 L390.17 435.62 L390.69 435.69 L391.21 435.87 L391.74 436.07 L392.26 436.29 L392.78 436.53 L393.3 436.81 L393.83 437.09 L394.35 437.22 L394.87 437.11 L395.39 436.82 L395.92 436.4 L396.44 435.89 L396.96 435.29 L397.48 434.37 L398.01 433.14 L398.53 431.67 L399.05 430.03 L399.57 428.29 L400.1 426.5 L400.62 424.44 L401.14 422.08 L401.66 419.52 L402.19 416.84 L402.71 414.15 L403.23 411.52 L403.76 408.94 L404.28 406.34 L404.8 403.69 L405.32 401.01 L405.85 398.3 L406.37 395.53 L406.89 392.63 L407.41 389.58 L407.94 386.47 L408.46 383.41 L408.98 380.51 L409.5 377.87 L410.03 375.5 L410.55 373.19 L411.07 370.95 L411.59 368.8 L412.12 366.78 L412.64 364.91 L413.16 363.21 L413.68 361.72 L414.21 360.44 L414.73 359.31 L415.25 358.27 L415.77 357.33 L416.3 356.45 L416.82 355.62 L417.34 354.83 L417.87 354.05 L418.39 353.28 L418.91 352.49 L419.43 351.71 L419.96 350.95 L420.48 350.21 L421 349.51 L421.52 348.87 L422.05 348.29 L422.57 347.8 L423.09 347.34 L423.61 346.88 L424.14 346.42 L424.66 345.99 L425.18 345.6 L425.7 345.25 L426.23 344.96 L426.75 344.75 L427.27 344.63 L427.79 344.6 L428.32 344.69 L428.84 344.86 L429.36 345.11 L429.88 345.41 L430.41 345.75 L430.93 346.13 L431.45 346.51 L431.98 346.88 L432.5 347.23 L433.02 347.54 L433.54 347.8 L434.07 348.02 L434.59 348.24 L435.11 348.46 L435.63 348.67 L436.16 348.87 L436.68 349.07 L437.2 349.26 L437.72 349.44 L438.25 349.61 L438.77 349.77 L439.29 349.91 L439.81 350.03 L440.34 350.15 L440.86 350.25 L441.38 350.35 L441.9 350.45 L442.43 350.54 L442.95 350.62 L443.47 350.7 L443.99 350.78 L444.52 350.85 L445.04 350.92 L445.56 350.98 L446.09 351.05 L446.61 351.11 L447.13 351.17 L447.65 351.23 L448.18 351.28 L448.7 351.34 L449.22 351.39 L449.74 351.44 L450.27 351.49 L450.79 351.54 L451.31 351.58 L451.83 351.63 L452.36 351.68 L452.88 351.72 L453.4 351.76 L453.92 351.81 L454.45 351.85 L454.97 351.89 L455.49 351.93 L456.01 351.97 L456.54 352.01 L457.06 352.05 L457.58 352.09 L458.1 352.13 L458.63 352.17 L459.15 352.21 L459.67 352.25 L460.2 352.29 L460.72 352.33 L461.24 352.37 L461.76 352.4 L462.29 352.44 L462.81 352.47 L463.33 352.51 L463.85 352.54 L464.38 352.57 L464.9 352.61 L465.42 352.64 L465.94 352.67 L466.47 352.7 L466.99 352.73 L467.51 352.76 L468.03 352.8 L468.56 352.83 L469.08 352.86 L469.6 352.9 L470.12 352.93 L470.65 352.97 L471.17 353 L471.69 353.04 L472.21 353.08 L472.74 353.12 L473.26 353.16 L473.78 353.2 L474.31 353.25 L474.83 353.29 L475.35 353.34 L475.87 353.39 L476.4 353.45 L476.92 353.52 L477.44 353.59 L477.96 353.68 L478.49 353.77 L479.01 353.87 L479.53 353.97 L480.05 354.08 L480.58 354.19 L481.1 354.31 L481.62 354.42 L482.14 354.53 L482.67 354.65 L483.19 354.76 L483.71 354.87 L484.23 354.97 L484.76 355.07 L485.28 355.16 L485.8 355.25 L486.32 355.32 L486.85 355.39 L487.37 355.45 L487.89 355.5 L488.42 355.53 L488.94 355.56 L489.46 355.56 L489.98 355.56 L490.51 355.54 L491.03 355.5 L491.55 355.46 L492.07 355.4 L492.6 355.34 L493.12 355.26 L493.64 355.18 L494.16 355.09 L494.69 354.99 L495.21 354.79 L495.73 354.43 L496.25 353.94 L496.78 353.35 L497.3 352.72 L497.82 352.08 L498.34 351.46 L498.87 350.92 L499.39 350.48 L499.91 350.19 L500.43 350.08 L500.96 350.15 L501.48 350.35 L502 350.66 L502.53 351.07 L503.05 351.57 L503.57 353.37 L504.09 357.31 L504.62 362.77 L505.14 369.14 L505.66 375.82 L506.18 382.19 L506.71 387.64 L507.23 392.21 L507.75 396.61 L508.27 400.86 L508.8 404.99 L509.32 409.01 L509.84 413.07 L510.36 417.25 L510.89 421.31 L511.41 424.99 L511.93 428.02 L512.45 430.39 L512.98 432.6 L513.5 434.59 L514.02 436.21 L514.54 437.37 L515.07 437.98 L515.59 438.41 L516.11 438.76 L516.64 439.03 L517.16 439.21 L517.68 439.3 L518.2 439.37 L518.73 439.43 L519.25 439.47 L519.77 439.5 L520.29 439.5 L520.82 439.5 L521.34 439.5 L521.86 439.5 L522.38 439.5 L522.91 439.5 L523.43 439.5 L523.95 439.5 L524.47 439.5 L525 439.5 L525.52 439.5 L526.04 439.5 L526.56 439.5 L527.09 439.5 L527.61 439.5 L528.13 439.5 L528.65 439.5 L529.18 439.5 L529.7 439.5" stroke="#ff3cff" stroke-width="1.1" fill="none" stroke-linejoin="round"/>
<path d="M389.12 435.62m-0.75 0a0.75 0.75 0 1 0 1.5 0a0.75 0.75 0 1 0 -1.5 0M392.78 436.53m-0.75 0a0.75 0.75 0 1 0 1.5 0a0.75 0.75 0 1 0 -1.5 0M396.44 435.89m-0.75 0a0.75 0.75 0 1 0 1.5 0a0.75 0.75 0 1 0 -1.5 0M400.1 426.5m-0.75 0a0.75 0.75 0 1 0 1.5 0a0.75 0.75 0 1 0 -1.5 0M403.76 408.94m-0.75 0a0.75 0.75 0 1 0 1.5 0a0.75 0.75 0 1 0 -1.5 0M407.41 389.58m-0.75 0a0.75 0.75 0 1 0 1.5 0a0.75 0.75 0 1 0 -1.5 0M411.07 370.95m-0.75 0a0.75 0.75 0 1 0 1.5 0a0.75 0.75 0 1 0 -1.5 0M414.73 359.31m-0.75 0a0.75 0.75 0 1 0 1.5 0a0.75 0.75 0 1 0 -1.5 0M418.39 353.28m-0.75 0a0.75 0.75 0 1 0 1.5 0a0.75 0.75 0 1 0 -1.5 0M422.05 348.29m-0.75 0a0.75 0.75 0 1 0 1.5 0a0.75 0.75 0 1 0 -1.5 0M425.7 345.25m-0.75 0a0.75 0.75 0 1 0 1.5 0a0.75 0.75 0 1 0 -1.5 0M429.36 345.11m-0.75 0a0.75 0.75 0 1 0 1.5 0a0.75 0.75 0 1 0 -1.5 0M433.02 347.54m-0.75 0a0.75 0.75 0 1 0 1.5 0a0.75 0.75 0 1 0 -1.5 0M436.68 349.07m-0.75 0a0.75 0.75 0 1 0 1.5 0a0.75 0.75 0 1 0 -1.5 0M440.34 350.15m-0.75 0a0.75 0.75 0 1 0 1.5 0a0.75 0.75 0 1 0 -1.5 0M443.99 350.78m-0.75 0a0.75 0.75 0 1 0 1.5 0a0.75 0.75 0 1 0 -1.5 0M447.65 351.23m-0.75 0a0.75 0.75 0 1 0 1.5 0a0.75 0.75 0 1 0 -1.5 0M451.31 351.58m-0.75 0a0.75 0.75 0 1 0 1.5 0a0.75 0.75 0 1 0 -1.5 0M454.97 351.89m-0.75 0a0.75 0.75 0 1 0 1.5 0a0.75 0.75 0 1 0 -1.5 0M458.63 352.17m-0.75 0a0.75 0.75 0 1 0 1.5 0a0.75 0.75 0 1 0 -1.5 0M462.29 352.44m-0.75 0a0.75 0.75 0 1 0 1.5 0a0.75 0.75 0 1 0 -1.5 0M465.94 352.67m-0.75 0a0.75 0.75 0 1 0 1.5 0a0.75 0.75 0 1 0 -1.5 0M469.6 352.9m-0.75 0a0.75 0.75 0 1 0 1.5 0a0.75 0.75 0 1 0 -1.5 0M473.26 353.16m-0.75 0a0.75 0.75 0 1 0 1.5 0a0.75 0.75 0 1 0 -1.5 0M476.92 353.52m-0.75 0a0.75 0.75 0 1 0 1.5 0a0.75 0.75 0 1 0 -1.5 0M480.58 354.19m-0.75 0a0.75 0.75 0 1 0 1.5 0a0.75 0.75 0 1 0 -1.5 0M484.23 354.97m-0.75 0a0.75 0.75 0 1 0 1.5 0a0.75 0.75 0 1 0 -1.5 0M487.89 355.5m-0.75 0a0.75 0.75 0 1 0 1.5 0a0.75 0.75 0 1 0 -1.5 0M491.55 355.46m-0.75 0a0.75 0.75 0 1 0 1.5 0a0.75 0.75 0 1 0 -1.5 0M495.21 354.79m-0.75 0a0.75 0.75 0 1 0 1.5 0a0.75 0.75 0 1 0 -1.5 0M498.87 350.92m-0.75 0a0.75 0.75 0 1 0 1.5 0a0.75 0.75 0 1 0 -1.5 0M502.53 351.07m-0.75 0a0.75 0.75 0 1 0 1.5 0a0.75 0.75 0 1 0 -1.5 0M506.18 382.19m-0.75 0a0.75 0.75 0 1 0 1.5 0a0.75 0.75 0 1 0 -1.5 0M509.84 413.07m-0.75 0a0.75 0.75 0 1 0 1.5 0a0.75 0.75 0 1 0 -1.5 0M513.5 434.59m-0.75 0a0.75 0.75 0 1 0 1.5 0a0.75 0.75 0 1 0 -1.5 0M517.16 439.21m-0.75 0a0.75 0.75 0 1 0 1.5 0a0.75 0.75 0 1 0 -1.5 0M520.82 439.5m-0.75 0a0.75 0.75 0 1 0 1.5 0a0.75 0.75 0 1 0 -1.5 0M524.47 439.5m-0.75 0a0.75 0.75 0 1 0 1.5 0a0.75 0.75 0 1 0 -1.5 0M528.13 439.5m-0.75 0a0.75 0.75 0 1 0 1.5 0a0.75 0.75 0 1 0 -1.5 0" fill="#e010e0"/>
<path d="M394.4 327.8h14.5" stroke="#a46cf4" stroke-width="1.5"/>
<circle cx="401.65" cy="327.8" r="1.0" fill="#7a3ae0"/>
<text x="410.7" y="329.7" font-size="3.3" fill="#333" stroke="#333" stroke-width="0.12" textLength="31" lengthAdjust="spacingAndGlyphs">PbBr<tspan font-size="2.4" dy="1">2</tspan><tspan dy="-1"> (1.4 M) w/ InBr</tspan><tspan font-size="2.4" dy="1">3</tspan></text>
<path d="M444.5 327.8h14.5" stroke="#ff3cff" stroke-width="1.5"/>
<circle cx="451.75" cy="327.8" r="1.0" fill="#e010e0"/>
<text x="460.8" y="329.7" font-size="3.3" fill="#333" stroke="#333" stroke-width="0.12" textLength="31" lengthAdjust="spacingAndGlyphs">PbBr<tspan font-size="2.4" dy="1">2</tspan><tspan dy="-1"> (1.3 M) w/ InBr</tspan><tspan font-size="2.4" dy="1">3</tspan></text>
<path d="M394.4 336.1h14.5" stroke="#ffa850" stroke-width="1.5"/>
<circle cx="401.65" cy="336.1" r="1.0" fill="#f08a20"/>
<text x="410.7" y="338" font-size="3.3" fill="#333" stroke="#333" stroke-width="0.12" textLength="31" lengthAdjust="spacingAndGlyphs">PbBr<tspan font-size="2.4" dy="1">2</tspan><tspan dy="-1"> (1.2 M) w/ InBr</tspan><tspan font-size="2.4" dy="1">3</tspan></text>
<path d="M444.5 336.1h14.5" stroke="#4a4ab8" stroke-width="1.5"/>
<circle cx="451.75" cy="336.1" r="1.0" fill="#2a2a9a"/>
<text x="460.8" y="338" font-size="3.3" fill="#333" stroke="#333" stroke-width="0.12" textLength="31" lengthAdjust="spacingAndGlyphs">PbBr<tspan font-size="2.4" dy="1">2</tspan><tspan dy="-1"> (1.1 M) w/ InBr</tspan><tspan font-size="2.4" dy="1">3</tspan></text>
<path d="M444.5 344.6h14.5" stroke="#3aaa3a" stroke-width="1.5"/>
<circle cx="451.75" cy="344.6" r="1.0" fill="#1a8a1a"/>
<text x="460.8" y="346.5" font-size="3.3" fill="#333" stroke="#333" stroke-width="0.12" textLength="31" lengthAdjust="spacingAndGlyphs">PbBr<tspan font-size="2.4" dy="1">2</tspan><tspan dy="-1"> (1.0 M) w/ InBr</tspan><tspan font-size="2.4" dy="1">3</tspan></text>
<text transform="translate(377.4 382.6) rotate(-90)" text-anchor="middle" font-size="5.1" fill="#333" stroke="#333" stroke-width="0.2">EQE (%)</text>
<text transform="translate(540.2 382.4) rotate(-90)" text-anchor="middle" font-size="5.4" fill="#333" stroke="#333" stroke-width="0.2">Integrated <tspan font-style="italic">J</tspan><tspan font-size="3.8" dy="1.2">SC</tspan><tspan dy="-1.2"> (mA/cm</tspan><tspan font-size="3.8" dy="-1.6">2</tspan><tspan dy="1.6">)</tspan></text>
<text x="459.15" y="451.8" text-anchor="middle" font-size="5.6" fill="#333" stroke="#333" stroke-width="0.2">Wavelength (nm)</text>
<text x="10.2" y="26.4" font-size="34" fill="#000">a</text>
<text x="16.8" y="202.6" font-size="20" fill="#000">b</text>
<text x="195.6" y="203" font-size="20" fill="#000">c</text>
<text x="369.2" y="203.1" font-size="20" fill="#000">d</text>
<text x="16.5" y="340.6" font-size="21" fill="#000">e</text>
<text x="196.3" y="340.3" font-size="20.5" fill="#000">f</text>
<text x="368.4" y="340.6" font-size="20" fill="#000">g</text>
</svg></body></html>
